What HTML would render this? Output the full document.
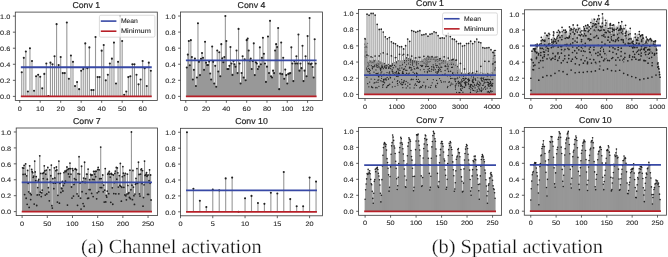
<!DOCTYPE html>
<html><head><meta charset="utf-8"><style>html,body{margin:0;padding:0;background:#fff;overflow:hidden}svg{display:block;filter:blur(0.3px)}</style></head><body>
<svg width="668" height="257" viewBox="0 0 668 257" font-family="Liberation Sans, sans-serif" text-rendering="geometricPrecision" fill="#262626">
<rect width="668" height="257" fill="#fff"/>
<style>text{stroke:#262626;stroke-width:0.1px;paint-order:stroke}</style>
<path d="M21.75 96.39V72.30M23.80 96.39V57.86M25.85 96.39V51.43M27.90 96.39V91.57M29.95 96.39V48.22M32.00 96.39V61.07M34.05 96.39V90.77M36.10 96.39V76.32M38.15 96.39V74.71M40.20 96.39V76.72M42.25 96.39V88.36M44.29 96.39V73.91M46.34 96.39V63.47M48.39 96.39V95.98M50.44 96.39V62.67M52.49 96.39V64.28M54.54 96.39V56.25M56.59 96.39V24.14M58.64 96.39V65.08M60.69 96.39V57.05M62.74 96.39V73.11M64.78 96.39V73.11M66.83 96.39V22.54M68.88 96.39V78.73M70.93 96.39V55.45M72.98 96.39V61.87M75.03 96.39V85.95M77.08 96.39V81.94M79.13 96.39V89.16M81.18 96.39V70.70M83.23 96.39V69.09M85.28 96.39V43.41M87.32 96.39V68.29M89.37 96.39V47.42M91.42 96.39V89.96M93.47 96.39V89.96M95.52 96.39V36.98M97.57 96.39V77.12M99.62 96.39V77.12M101.67 96.39V50.63M103.72 96.39V45.01M105.77 96.39V80.33M107.82 96.39V74.71M109.86 96.39V63.47M111.91 96.39V58.66M113.96 96.39V42.60M116.01 96.39V83.54M118.06 96.39V61.87M120.11 96.39V16.11M122.16 96.39V41.00M124.21 96.39V94.78M126.26 96.39V91.57M128.31 96.39V77.12M130.35 96.39V76.32M132.40 96.39V64.28M134.45 96.39V64.28M136.50 96.39V74.71M138.55 96.39V84.35M140.60 96.39V79.53M142.65 96.39V61.07M144.70 96.39V68.29M146.75 96.39V85.95M148.80 96.39V62.67M150.85 96.39V70.70" stroke="#989898" stroke-width="1.1" stroke-opacity="1.0" fill="none"/>
<path d="M21.75 72.30h0M23.80 57.86h0M25.85 51.43h0M27.90 91.57h0M29.95 48.22h0M32.00 61.07h0M34.05 90.77h0M36.10 76.32h0M38.15 74.71h0M40.20 76.72h0M42.25 88.36h0M44.29 73.91h0M46.34 63.47h0M48.39 95.98h0M50.44 62.67h0M52.49 64.28h0M54.54 56.25h0M56.59 24.14h0M58.64 65.08h0M60.69 57.05h0M62.74 73.11h0M64.78 73.11h0M66.83 22.54h0M68.88 78.73h0M70.93 55.45h0M72.98 61.87h0M75.03 85.95h0M77.08 81.94h0M79.13 89.16h0M81.18 70.70h0M83.23 69.09h0M85.28 43.41h0M87.32 68.29h0M89.37 47.42h0M91.42 89.96h0M93.47 89.96h0M95.52 36.98h0M97.57 77.12h0M99.62 77.12h0M101.67 50.63h0M103.72 45.01h0M105.77 80.33h0M107.82 74.71h0M109.86 63.47h0M111.91 58.66h0M113.96 42.60h0M116.01 83.54h0M118.06 61.87h0M120.11 16.11h0M122.16 41.00h0M124.21 94.78h0M126.26 91.57h0M128.31 77.12h0M130.35 76.32h0M132.40 64.28h0M134.45 64.28h0M136.50 74.71h0M138.55 84.35h0M140.60 79.53h0M142.65 61.07h0M144.70 68.29h0M146.75 85.95h0M148.80 62.67h0M150.85 70.70h0" stroke="#222" stroke-width="2.1" stroke-opacity="1.0" stroke-linecap="round" fill="none"/>
<line x1="21.75" y1="96.39" x2="150.85" y2="96.39" stroke="#b71f27" stroke-width="1.8" stroke-linecap="square"/>
<line x1="21.75" y1="67.25" x2="150.85" y2="67.25" stroke="#3748a5" stroke-width="1.8" stroke-linecap="square"/>
<rect x="15.30" y="12.10" width="142.00" height="88.30" fill="none" stroke="#3a3a3a" stroke-width="0.8"/>
<text x="10.30" y="99.09" text-anchor="end" font-size="6.5" textLength="10.2" lengthAdjust="spacingAndGlyphs">0.0</text>
<text x="10.30" y="83.03" text-anchor="end" font-size="6.5" textLength="10.2" lengthAdjust="spacingAndGlyphs">0.2</text>
<text x="10.30" y="66.98" text-anchor="end" font-size="6.5" textLength="10.2" lengthAdjust="spacingAndGlyphs">0.4</text>
<text x="10.30" y="50.92" text-anchor="end" font-size="6.5" textLength="10.2" lengthAdjust="spacingAndGlyphs">0.6</text>
<text x="10.30" y="34.87" text-anchor="end" font-size="6.5" textLength="10.2" lengthAdjust="spacingAndGlyphs">0.8</text>
<text x="10.30" y="18.81" text-anchor="end" font-size="6.5" textLength="10.2" lengthAdjust="spacingAndGlyphs">1.0</text>
<text x="19.71" y="110.50" text-anchor="middle" font-size="6.5" textLength="4.07" lengthAdjust="spacingAndGlyphs">0</text>
<text x="40.20" y="110.50" text-anchor="middle" font-size="6.5" textLength="8.14" lengthAdjust="spacingAndGlyphs">10</text>
<text x="60.69" y="110.50" text-anchor="middle" font-size="6.5" textLength="8.14" lengthAdjust="spacingAndGlyphs">20</text>
<text x="81.18" y="110.50" text-anchor="middle" font-size="6.5" textLength="8.14" lengthAdjust="spacingAndGlyphs">30</text>
<text x="101.67" y="110.50" text-anchor="middle" font-size="6.5" textLength="8.14" lengthAdjust="spacingAndGlyphs">40</text>
<text x="122.16" y="110.50" text-anchor="middle" font-size="6.5" textLength="8.14" lengthAdjust="spacingAndGlyphs">50</text>
<text x="142.65" y="110.50" text-anchor="middle" font-size="6.5" textLength="8.14" lengthAdjust="spacingAndGlyphs">60</text>
<path d="M15.30 96.39h-2.4M15.30 80.33h-2.4M15.30 64.28h-2.4M15.30 48.22h-2.4M15.30 32.17h-2.4M15.30 16.11h-2.4M19.71 100.40v2.4M40.20 100.40v2.4M60.69 100.40v2.4M81.18 100.40v2.4M101.67 100.40v2.4M122.16 100.40v2.4M142.65 100.40v2.4" stroke="#3a3a3a" stroke-width="0.8" fill="none"/>
<text x="86.30" y="8.00" text-anchor="middle" font-size="8.6" textLength="27.8" lengthAdjust="spacingAndGlyphs" style="stroke-width:0.2px">Conv 1</text>
<path d="M186.79 96.38V67.45M187.81 96.38V54.59M188.82 96.38V40.93M189.84 96.38V65.24M190.85 96.38V40.13M191.87 96.38V57.00M192.88 96.38V79.51M193.90 96.38V69.86M194.91 96.38V58.61M195.93 96.38V85.93M196.94 96.38V77.50M197.96 96.38V23.25M198.97 96.38V61.83M199.99 96.38V75.09M201.00 96.38V58.68M202.02 96.38V52.99M203.03 96.38V57.81M204.05 96.38V69.86M205.06 96.38V41.73M206.08 96.38V62.63M207.09 96.38V65.04M208.11 96.38V65.04M209.12 96.38V61.61M210.14 96.38V73.48M211.15 96.38V79.51M212.17 96.38V46.56M213.18 96.38V61.83M214.20 96.38V83.52M215.21 96.38V65.84M216.23 96.38V86.74M217.24 96.38V50.57M218.26 96.38V71.47M219.27 96.38V52.18M220.29 96.38V76.29M221.30 96.38V44.15M222.32 96.38V58.21M223.33 96.38V62.23M224.35 96.38V57.00M225.36 96.38V16.02M226.38 96.38V40.93M227.39 96.38V69.06M228.41 96.38V69.06M229.42 96.38V65.84M230.44 96.38V46.96M231.45 96.38V63.43M232.47 96.38V74.88M233.48 96.38V61.02M234.50 96.38V64.24M235.51 96.38V66.65M236.53 96.38V50.57M237.54 96.38V73.08M238.56 96.38V28.88M239.57 96.38V63.43M240.59 96.38V83.52M241.60 96.38V73.07M242.62 96.38V56.20M243.63 96.38V77.50M244.65 96.38V59.25M245.66 96.38V80.18M246.68 96.38V40.13M247.69 96.38V38.52M248.71 96.38V50.57M249.72 96.38V60.51M250.74 96.38V58.61M251.75 96.38V69.06M252.77 96.38V61.09M253.78 96.38V43.34M254.80 96.38V75.09M255.81 96.38V62.23M256.83 96.38V63.43M257.84 96.38V69.03M258.86 96.38V66.65M259.87 96.38V47.36M260.89 96.38V64.24M261.90 96.38V57.81M262.92 96.38V37.72M263.93 96.38V53.79M264.95 96.38V63.43M265.96 96.38V81.92M266.98 96.38V66.65M267.99 96.38V36.51M269.01 96.38V73.00M270.02 96.38V20.84M271.04 96.38V76.29M272.05 96.38V77.50M273.07 96.38V70.67M274.08 96.38V73.08M275.10 96.38V50.57M276.11 96.38V44.15M277.13 96.38V46.96M278.14 96.38V28.07M279.16 96.38V89.15M280.17 96.38V73.60M281.19 96.38V42.54M282.20 96.38V74.16M283.22 96.38V57.81M284.23 96.38V78.70M285.25 96.38V69.58M286.26 96.38V75.09M287.28 96.38V83.52M288.29 96.38V73.88M289.31 96.38V73.48M290.32 96.38V73.08M291.34 96.38V47.36M292.35 96.38V63.43M293.37 96.38V81.11M294.38 96.38V61.02M295.40 96.38V63.43M296.41 96.38V56.20M297.43 96.38V63.43M298.44 96.38V34.50M299.46 96.38V70.67M300.47 96.38V63.43M301.49 96.38V68.14M302.50 96.38V45.75M303.52 96.38V81.11M304.53 96.38V70.67M305.55 96.38V56.20M306.56 96.38V76.29M307.58 96.38V36.11M308.59 96.38V63.43M309.61 96.38V18.03M310.62 96.38V64.24M311.64 96.38V63.43M312.65 96.38V66.96M313.67 96.38V77.50M314.68 96.38V39.32M315.70 96.38V63.43" stroke="#989898" stroke-width="1.1" stroke-opacity="1.0" fill="none"/>
<path d="M186.79 67.45h0M187.81 54.59h0M188.82 40.93h0M189.84 65.24h0M190.85 40.13h0M191.87 57.00h0M192.88 79.51h0M193.90 69.86h0M194.91 58.61h0M195.93 85.93h0M196.94 77.50h0M197.96 23.25h0M198.97 61.83h0M199.99 75.09h0M201.00 58.68h0M202.02 52.99h0M203.03 57.81h0M204.05 69.86h0M205.06 41.73h0M206.08 62.63h0M207.09 65.04h0M208.11 65.04h0M209.12 61.61h0M210.14 73.48h0M211.15 79.51h0M212.17 46.56h0M213.18 61.83h0M214.20 83.52h0M215.21 65.84h0M216.23 86.74h0M217.24 50.57h0M218.26 71.47h0M219.27 52.18h0M220.29 76.29h0M221.30 44.15h0M222.32 58.21h0M223.33 62.23h0M224.35 57.00h0M225.36 16.02h0M226.38 40.93h0M227.39 69.06h0M228.41 69.06h0M229.42 65.84h0M230.44 46.96h0M231.45 63.43h0M232.47 74.88h0M233.48 61.02h0M234.50 64.24h0M235.51 66.65h0M236.53 50.57h0M237.54 73.08h0M238.56 28.88h0M239.57 63.43h0M240.59 83.52h0M241.60 73.07h0M242.62 56.20h0M243.63 77.50h0M244.65 59.25h0M245.66 80.18h0M246.68 40.13h0M247.69 38.52h0M248.71 50.57h0M249.72 60.51h0M250.74 58.61h0M251.75 69.06h0M252.77 61.09h0M253.78 43.34h0M254.80 75.09h0M255.81 62.23h0M256.83 63.43h0M257.84 69.03h0M258.86 66.65h0M259.87 47.36h0M260.89 64.24h0M261.90 57.81h0M262.92 37.72h0M263.93 53.79h0M264.95 63.43h0M265.96 81.92h0M266.98 66.65h0M267.99 36.51h0M269.01 73.00h0M270.02 20.84h0M271.04 76.29h0M272.05 77.50h0M273.07 70.67h0M274.08 73.08h0M275.10 50.57h0M276.11 44.15h0M277.13 46.96h0M278.14 28.07h0M279.16 89.15h0M280.17 73.60h0M281.19 42.54h0M282.20 74.16h0M283.22 57.81h0M284.23 78.70h0M285.25 69.58h0M286.26 75.09h0M287.28 83.52h0M288.29 73.88h0M289.31 73.48h0M290.32 73.08h0M291.34 47.36h0M292.35 63.43h0M293.37 81.11h0M294.38 61.02h0M295.40 63.43h0M296.41 56.20h0M297.43 63.43h0M298.44 34.50h0M299.46 70.67h0M300.47 63.43h0M301.49 68.14h0M302.50 45.75h0M303.52 81.11h0M304.53 70.67h0M305.55 56.20h0M306.56 76.29h0M307.58 36.11h0M308.59 63.43h0M309.61 18.03h0M310.62 64.24h0M311.64 63.43h0M312.65 66.96h0M313.67 77.50h0M314.68 39.32h0M315.70 63.43h0" stroke="#222" stroke-width="2.1" stroke-opacity="1.0" stroke-linecap="round" fill="none"/>
<line x1="186.79" y1="96.38" x2="315.70" y2="96.38" stroke="#b71f27" stroke-width="1.8" stroke-linecap="square"/>
<line x1="186.79" y1="60.46" x2="315.70" y2="60.46" stroke="#3748a5" stroke-width="1.8" stroke-linecap="square"/>
<rect x="180.50" y="12.00" width="142.00" height="88.40" fill="none" stroke="#3a3a3a" stroke-width="0.8"/>
<text x="175.50" y="99.08" text-anchor="end" font-size="6.5" textLength="10.2" lengthAdjust="spacingAndGlyphs">0.0</text>
<text x="175.50" y="83.01" text-anchor="end" font-size="6.5" textLength="10.2" lengthAdjust="spacingAndGlyphs">0.2</text>
<text x="175.50" y="66.94" text-anchor="end" font-size="6.5" textLength="10.2" lengthAdjust="spacingAndGlyphs">0.4</text>
<text x="175.50" y="50.86" text-anchor="end" font-size="6.5" textLength="10.2" lengthAdjust="spacingAndGlyphs">0.6</text>
<text x="175.50" y="34.79" text-anchor="end" font-size="6.5" textLength="10.2" lengthAdjust="spacingAndGlyphs">0.8</text>
<text x="175.50" y="18.72" text-anchor="end" font-size="6.5" textLength="10.2" lengthAdjust="spacingAndGlyphs">1.0</text>
<text x="185.78" y="110.50" text-anchor="middle" font-size="6.5" textLength="4.07" lengthAdjust="spacingAndGlyphs">0</text>
<text x="206.08" y="110.50" text-anchor="middle" font-size="6.5" textLength="8.14" lengthAdjust="spacingAndGlyphs">20</text>
<text x="226.38" y="110.50" text-anchor="middle" font-size="6.5" textLength="8.14" lengthAdjust="spacingAndGlyphs">40</text>
<text x="246.68" y="110.50" text-anchor="middle" font-size="6.5" textLength="8.14" lengthAdjust="spacingAndGlyphs">60</text>
<text x="266.98" y="110.50" text-anchor="middle" font-size="6.5" textLength="8.14" lengthAdjust="spacingAndGlyphs">80</text>
<text x="287.28" y="110.50" text-anchor="middle" font-size="6.5" textLength="12.21" lengthAdjust="spacingAndGlyphs">100</text>
<text x="307.58" y="110.50" text-anchor="middle" font-size="6.5" textLength="12.21" lengthAdjust="spacingAndGlyphs">120</text>
<path d="M180.50 96.38h-2.4M180.50 80.31h-2.4M180.50 64.24h-2.4M180.50 48.16h-2.4M180.50 32.09h-2.4M180.50 16.02h-2.4M185.78 100.40v2.4M206.08 100.40v2.4M226.38 100.40v2.4M246.68 100.40v2.4M266.98 100.40v2.4M287.28 100.40v2.4M307.58 100.40v2.4" stroke="#3a3a3a" stroke-width="0.8" fill="none"/>
<text x="251.50" y="7.90" text-anchor="middle" font-size="8.6" textLength="27.8" lengthAdjust="spacingAndGlyphs" style="stroke-width:0.2px">Conv 4</text>
<path d="M22.62 211.62V167.82M23.13 211.62V174.42M23.63 211.62V168.17M24.13 211.62V165.43M24.64 211.62V194.57M25.14 211.62V174.19M25.65 211.62V163.84M26.15 211.62V198.27M26.65 211.62V175.78M27.16 211.62V204.31M27.66 211.62V170.46M28.16 211.62V183.30M28.67 211.62V191.79M29.17 211.62V207.39M29.68 211.62V165.83M30.18 211.62V193.28M30.68 211.62V199.55M31.19 211.62V194.75M31.69 211.62V169.41M32.19 211.62V171.63M32.70 211.62V172.69M33.20 211.62V177.37M33.71 211.62V176.04M34.21 211.62V204.06M34.71 211.62V161.05M35.22 211.62V171.92M35.72 211.62V180.62M36.22 211.62V176.58M36.73 211.62V205.52M37.23 211.62V194.89M37.74 211.62V187.59M38.24 211.62V180.88M38.74 211.62V179.35M39.25 211.62V194.87M39.75 211.62V155.87M40.25 211.62V192.04M40.76 211.62V173.39M41.26 211.62V196.59M41.76 211.62V192.82M42.27 211.62V190.10M42.77 211.62V173.39M43.28 211.62V178.58M43.78 211.62V172.75M44.28 211.62V165.83M44.79 211.62V170.88M45.29 211.62V195.04M45.79 211.62V174.19M46.30 211.62V170.11M46.80 211.62V193.92M47.31 211.62V179.24M47.81 211.62V167.42M48.31 211.62V187.69M48.82 211.62V192.04M49.32 211.62V200.86M49.82 211.62V169.81M50.33 211.62V182.23M50.83 211.62V175.74M51.34 211.62V165.03M51.84 211.62V205.67M52.34 211.62V208.05M52.85 211.62V178.72M53.35 211.62V182.99M53.85 211.62V188.71M54.36 211.62V167.82M54.86 211.62V177.89M55.37 211.62V183.14M55.87 211.62V170.71M56.37 211.62V167.02M56.88 211.62V169.94M57.38 211.62V202.03M57.88 211.62V195.32M58.39 211.62V173.70M58.89 211.62V161.05M59.40 211.62V203.22M59.90 211.62V183.33M60.40 211.62V173.39M60.91 211.62V192.46M61.41 211.62V188.11M61.91 211.62V188.65M62.42 211.62V181.41M62.92 211.62V191.02M63.43 211.62V185.51M63.93 211.62V172.60M64.43 211.62V183.25M64.94 211.62V171.11M65.44 211.62V181.18M65.94 211.62V171.70M66.45 211.62V170.28M66.95 211.62V167.02M67.46 211.62V205.12M67.96 211.62V169.38M68.46 211.62V174.00M68.97 211.62V168.61M69.47 211.62V176.83M69.97 211.62V163.04M70.48 211.62V168.72M70.98 211.62V174.19M71.49 211.62V186.99M71.99 211.62V198.06M72.49 211.62V168.61M73.00 211.62V170.51M73.50 211.62V196.09M74.00 211.62V184.41M74.51 211.62V178.67M75.01 211.62V169.05M75.52 211.62V168.61M76.02 211.62V179.66M76.52 211.62V169.81M77.03 211.62V193.82M77.53 211.62V205.30M78.03 211.62V173.70M78.54 211.62V196.07M79.04 211.62V156.67M79.55 211.62V174.12M80.05 211.62V183.00M80.55 211.62V198.19M81.06 211.62V209.04M81.56 211.62V166.23M82.06 211.62V191.75M82.57 211.62V181.61M83.07 211.62V203.59M83.58 211.62V178.08M84.08 211.62V206.26M84.58 211.62V162.24M85.09 211.62V182.52M85.59 211.62V178.71M86.09 211.62V193.58M86.60 211.62V174.19M87.10 211.62V174.19M87.61 211.62V198.41M88.11 211.62V169.09M88.61 211.62V198.06M89.12 211.62V189.54M89.62 211.62V179.71M90.12 211.62V189.68M90.63 211.62V174.28M91.13 211.62V175.24M91.64 211.62V193.39M92.14 211.62V174.99M92.64 211.62V179.33M93.15 211.62V196.61M93.65 211.62V171.40M94.15 211.62V179.54M94.66 211.62V174.08M95.16 211.62V171.40M95.67 211.62V176.67M96.17 211.62V171.23M96.67 211.62V198.82M97.18 211.62V192.83M97.68 211.62V169.58M98.18 211.62V167.42M98.69 211.62V191.62M99.19 211.62V169.81M99.70 211.62V178.74M100.20 211.62V187.55M100.70 211.62V147.11M101.21 211.62V178.57M101.71 211.62V187.67M102.21 211.62V182.49M102.72 211.62V174.99M103.22 211.62V191.79M103.73 211.62V185.10M104.23 211.62V202.04M104.73 211.62V190.13M105.24 211.62V168.61M105.74 211.62V201.94M106.24 211.62V195.43M106.75 211.62V197.08M107.25 211.62V191.10M107.76 211.62V174.19M108.26 211.62V173.14M108.76 211.62V193.71M109.27 211.62V171.52M109.77 211.62V174.19M110.27 211.62V177.03M110.78 211.62V202.28M111.28 211.62V173.37M111.79 211.62V174.19M112.29 211.62V187.86M112.79 211.62V204.27M113.30 211.62V174.99M113.80 211.62V193.59M114.30 211.62V182.59M114.81 211.62V173.39M115.31 211.62V171.11M115.82 211.62V193.80M116.32 211.62V167.42M116.82 211.62V179.14M117.33 211.62V167.92M117.83 211.62V172.82M118.33 211.62V187.09M118.84 211.62V193.80M119.34 211.62V175.54M119.85 211.62V185.50M120.35 211.62V163.44M120.85 211.62V186.30M121.36 211.62V201.16M121.86 211.62V187.33M122.36 211.62V176.69M122.87 211.62V166.62M123.37 211.62V173.21M123.88 211.62V187.33M124.38 211.62V175.45M124.88 211.62V194.96M125.39 211.62V173.38M125.89 211.62V195.74M126.39 211.62V199.79M126.90 211.62V194.04M127.40 211.62V174.19M127.91 211.62V185.46M128.41 211.62V193.60M128.91 211.62V192.75M129.42 211.62V197.52M129.92 211.62V170.21M130.42 211.62V198.64M130.93 211.62V189.73M131.43 211.62V131.98M131.94 211.62V185.18M132.44 211.62V199.72M132.94 211.62V170.48M133.45 211.62V187.12M133.95 211.62V195.69M134.45 211.62V204.42M134.96 211.62V194.06M135.46 211.62V184.25M135.96 211.62V178.33M136.47 211.62V182.89M136.97 211.62V168.61M137.48 211.62V183.23M137.98 211.62V182.59M138.48 211.62V162.24M138.99 211.62V174.48M139.49 211.62V193.96M139.99 211.62V196.07M140.50 211.62V174.19M141.00 211.62V169.68M141.51 211.62V168.78M142.01 211.62V183.54M142.51 211.62V170.53M143.02 211.62V206.22M143.52 211.62V197.56M144.02 211.62V184.86M144.53 211.62V161.05M145.03 211.62V175.43M145.54 211.62V175.43M146.04 211.62V174.19M146.54 211.62V172.61M147.05 211.62V176.24M147.55 211.62V194.33M148.05 211.62V174.99M148.56 211.62V194.39M149.06 211.62V180.67M149.57 211.62V169.84M150.07 211.62V183.28M150.57 211.62V174.99M151.08 211.62V200.00" stroke="#989898" stroke-width="1.1" stroke-opacity="1.0" fill="none"/>
<path d="M22.62 167.82h0M23.13 174.42h0M23.63 168.17h0M24.13 165.43h0M24.64 194.57h0M25.14 174.19h0M25.65 163.84h0M26.15 198.27h0M26.65 175.78h0M27.16 204.31h0M27.66 170.46h0M28.16 183.30h0M28.67 191.79h0M29.17 207.39h0M29.68 165.83h0M30.18 193.28h0M30.68 199.55h0M31.19 194.75h0M31.69 169.41h0M32.19 171.63h0M32.70 172.69h0M33.20 177.37h0M33.71 176.04h0M34.21 204.06h0M34.71 161.05h0M35.22 171.92h0M35.72 180.62h0M36.22 176.58h0M36.73 205.52h0M37.23 194.89h0M37.74 187.59h0M38.24 180.88h0M38.74 179.35h0M39.25 194.87h0M39.75 155.87h0M40.25 192.04h0M40.76 173.39h0M41.26 196.59h0M41.76 192.82h0M42.27 190.10h0M42.77 173.39h0M43.28 178.58h0M43.78 172.75h0M44.28 165.83h0M44.79 170.88h0M45.29 195.04h0M45.79 174.19h0M46.30 170.11h0M46.80 193.92h0M47.31 179.24h0M47.81 167.42h0M48.31 187.69h0M48.82 192.04h0M49.32 200.86h0M49.82 169.81h0M50.33 182.23h0M50.83 175.74h0M51.34 165.03h0M51.84 205.67h0M52.34 208.05h0M52.85 178.72h0M53.35 182.99h0M53.85 188.71h0M54.36 167.82h0M54.86 177.89h0M55.37 183.14h0M55.87 170.71h0M56.37 167.02h0M56.88 169.94h0M57.38 202.03h0M57.88 195.32h0M58.39 173.70h0M58.89 161.05h0M59.40 203.22h0M59.90 183.33h0M60.40 173.39h0M60.91 192.46h0M61.41 188.11h0M61.91 188.65h0M62.42 181.41h0M62.92 191.02h0M63.43 185.51h0M63.93 172.60h0M64.43 183.25h0M64.94 171.11h0M65.44 181.18h0M65.94 171.70h0M66.45 170.28h0M66.95 167.02h0M67.46 205.12h0M67.96 169.38h0M68.46 174.00h0M68.97 168.61h0M69.47 176.83h0M69.97 163.04h0M70.48 168.72h0M70.98 174.19h0M71.49 186.99h0M71.99 198.06h0M72.49 168.61h0M73.00 170.51h0M73.50 196.09h0M74.00 184.41h0M74.51 178.67h0M75.01 169.05h0M75.52 168.61h0M76.02 179.66h0M76.52 169.81h0M77.03 193.82h0M77.53 205.30h0M78.03 173.70h0M78.54 196.07h0M79.04 156.67h0M79.55 174.12h0M80.05 183.00h0M80.55 198.19h0M81.06 209.04h0M81.56 166.23h0M82.06 191.75h0M82.57 181.61h0M83.07 203.59h0M83.58 178.08h0M84.08 206.26h0M84.58 162.24h0M85.09 182.52h0M85.59 178.71h0M86.09 193.58h0M86.60 174.19h0M87.10 174.19h0M87.61 198.41h0M88.11 169.09h0M88.61 198.06h0M89.12 189.54h0M89.62 179.71h0M90.12 189.68h0M90.63 174.28h0M91.13 175.24h0M91.64 193.39h0M92.14 174.99h0M92.64 179.33h0M93.15 196.61h0M93.65 171.40h0M94.15 179.54h0M94.66 174.08h0M95.16 171.40h0M95.67 176.67h0M96.17 171.23h0M96.67 198.82h0M97.18 192.83h0M97.68 169.58h0M98.18 167.42h0M98.69 191.62h0M99.19 169.81h0M99.70 178.74h0M100.20 187.55h0M100.70 147.11h0M101.21 178.57h0M101.71 187.67h0M102.21 182.49h0M102.72 174.99h0M103.22 191.79h0M103.73 185.10h0M104.23 202.04h0M104.73 190.13h0M105.24 168.61h0M105.74 201.94h0M106.24 195.43h0M106.75 197.08h0M107.25 191.10h0M107.76 174.19h0M108.26 173.14h0M108.76 193.71h0M109.27 171.52h0M109.77 174.19h0M110.27 177.03h0M110.78 202.28h0M111.28 173.37h0M111.79 174.19h0M112.29 187.86h0M112.79 204.27h0M113.30 174.99h0M113.80 193.59h0M114.30 182.59h0M114.81 173.39h0M115.31 171.11h0M115.82 193.80h0M116.32 167.42h0M116.82 179.14h0M117.33 167.92h0M117.83 172.82h0M118.33 187.09h0M118.84 193.80h0M119.34 175.54h0M119.85 185.50h0M120.35 163.44h0M120.85 186.30h0M121.36 201.16h0M121.86 187.33h0M122.36 176.69h0M122.87 166.62h0M123.37 173.21h0M123.88 187.33h0M124.38 175.45h0M124.88 194.96h0M125.39 173.38h0M125.89 195.74h0M126.39 199.79h0M126.90 194.04h0M127.40 174.19h0M127.91 185.46h0M128.41 193.60h0M128.91 192.75h0M129.42 197.52h0M129.92 170.21h0M130.42 198.64h0M130.93 189.73h0M131.43 131.98h0M131.94 185.18h0M132.44 199.72h0M132.94 170.48h0M133.45 187.12h0M133.95 195.69h0M134.45 204.42h0M134.96 194.06h0M135.46 184.25h0M135.96 178.33h0M136.47 182.89h0M136.97 168.61h0M137.48 183.23h0M137.98 182.59h0M138.48 162.24h0M138.99 174.48h0M139.49 193.96h0M139.99 196.07h0M140.50 174.19h0M141.00 169.68h0M141.51 168.78h0M142.01 183.54h0M142.51 170.53h0M143.02 206.22h0M143.52 197.56h0M144.02 184.86h0M144.53 161.05h0M145.03 175.43h0M145.54 175.43h0M146.04 174.19h0M146.54 172.61h0M147.05 176.24h0M147.55 194.33h0M148.05 174.99h0M148.56 194.39h0M149.06 180.67h0M149.57 169.84h0M150.07 183.28h0M150.57 174.99h0M151.08 200.00h0" stroke="#222" stroke-width="1.8" stroke-opacity="1.0" stroke-linecap="round" fill="none"/>
<line x1="22.62" y1="211.62" x2="151.08" y2="211.62" stroke="#b71f27" stroke-width="1.8" stroke-linecap="square"/>
<line x1="22.62" y1="182.31" x2="151.08" y2="182.31" stroke="#3748a5" stroke-width="1.8" stroke-linecap="square"/>
<rect x="16.20" y="128.00" width="141.30" height="87.60" fill="none" stroke="#3a3a3a" stroke-width="0.8"/>
<text x="11.20" y="214.32" text-anchor="end" font-size="6.5" textLength="10.2" lengthAdjust="spacingAndGlyphs">0.0</text>
<text x="11.20" y="198.39" text-anchor="end" font-size="6.5" textLength="10.2" lengthAdjust="spacingAndGlyphs">0.2</text>
<text x="11.20" y="182.46" text-anchor="end" font-size="6.5" textLength="10.2" lengthAdjust="spacingAndGlyphs">0.4</text>
<text x="11.20" y="166.54" text-anchor="end" font-size="6.5" textLength="10.2" lengthAdjust="spacingAndGlyphs">0.6</text>
<text x="11.20" y="150.61" text-anchor="end" font-size="6.5" textLength="10.2" lengthAdjust="spacingAndGlyphs">0.8</text>
<text x="11.20" y="134.68" text-anchor="end" font-size="6.5" textLength="10.2" lengthAdjust="spacingAndGlyphs">1.0</text>
<text x="22.12" y="225.70" text-anchor="middle" font-size="6.5" textLength="4.07" lengthAdjust="spacingAndGlyphs">0</text>
<text x="47.31" y="225.70" text-anchor="middle" font-size="6.5" textLength="8.14" lengthAdjust="spacingAndGlyphs">50</text>
<text x="72.49" y="225.70" text-anchor="middle" font-size="6.5" textLength="12.21" lengthAdjust="spacingAndGlyphs">100</text>
<text x="97.68" y="225.70" text-anchor="middle" font-size="6.5" textLength="12.21" lengthAdjust="spacingAndGlyphs">150</text>
<text x="122.87" y="225.70" text-anchor="middle" font-size="6.5" textLength="12.21" lengthAdjust="spacingAndGlyphs">200</text>
<text x="148.05" y="225.70" text-anchor="middle" font-size="6.5" textLength="12.21" lengthAdjust="spacingAndGlyphs">250</text>
<path d="M16.20 211.62h-2.4M16.20 195.69h-2.4M16.20 179.76h-2.4M16.20 163.84h-2.4M16.20 147.91h-2.4M16.20 131.98h-2.4M22.12 215.60v2.4M47.31 215.60v2.4M72.49 215.60v2.4M97.68 215.60v2.4M122.87 215.60v2.4M148.05 215.60v2.4" stroke="#3a3a3a" stroke-width="0.8" fill="none"/>
<text x="86.85" y="123.90" text-anchor="middle" font-size="8.6" textLength="27.8" lengthAdjust="spacingAndGlyphs" style="stroke-width:0.2px">Conv 7</text>
<path d="M186.95 211.82V132.28M193.41 211.82V188.75M199.86 211.82V200.69M206.32 211.82V207.05M212.77 211.82V189.55M219.23 211.82V190.35M225.68 211.82V178.41M232.14 211.82V177.62M238.59 211.82V211.82M245.05 211.82V198.30M251.50 211.82V195.91M257.95 211.82V203.07M264.41 211.82V203.87M270.86 211.82V192.73M277.32 211.82V193.53M283.77 211.82V172.05M290.23 211.82V199.10M296.68 211.82V206.25M303.14 211.82V206.25M309.59 211.82V177.62M316.05 211.82V181.60" stroke="#989898" stroke-width="1.1" stroke-opacity="1.0" fill="none"/>
<path d="M186.95 132.28h0M193.41 188.75h0M199.86 200.69h0M206.32 207.05h0M212.77 189.55h0M219.23 190.35h0M225.68 178.41h0M232.14 177.62h0M238.59 211.82h0M245.05 198.30h0M251.50 195.91h0M257.95 203.07h0M264.41 203.87h0M270.86 192.73h0M277.32 193.53h0M283.77 172.05h0M290.23 199.10h0M296.68 206.25h0M303.14 206.25h0M309.59 177.62h0M316.05 181.60h0" stroke="#222" stroke-width="2.1" stroke-opacity="1.0" stroke-linecap="round" fill="none"/>
<line x1="186.95" y1="211.82" x2="316.05" y2="211.82" stroke="#b71f27" stroke-width="1.8" stroke-linecap="square"/>
<line x1="186.95" y1="190.35" x2="316.05" y2="190.35" stroke="#3748a5" stroke-width="1.8" stroke-linecap="square"/>
<rect x="180.50" y="128.30" width="142.00" height="87.50" fill="none" stroke="#3a3a3a" stroke-width="0.8"/>
<text x="175.50" y="214.52" text-anchor="end" font-size="6.5" textLength="10.2" lengthAdjust="spacingAndGlyphs">0.0</text>
<text x="175.50" y="198.61" text-anchor="end" font-size="6.5" textLength="10.2" lengthAdjust="spacingAndGlyphs">0.2</text>
<text x="175.50" y="182.70" text-anchor="end" font-size="6.5" textLength="10.2" lengthAdjust="spacingAndGlyphs">0.4</text>
<text x="175.50" y="166.80" text-anchor="end" font-size="6.5" textLength="10.2" lengthAdjust="spacingAndGlyphs">0.6</text>
<text x="175.50" y="150.89" text-anchor="end" font-size="6.5" textLength="10.2" lengthAdjust="spacingAndGlyphs">0.8</text>
<text x="175.50" y="134.98" text-anchor="end" font-size="6.5" textLength="10.2" lengthAdjust="spacingAndGlyphs">1.0</text>
<text x="180.50" y="225.90" text-anchor="middle" font-size="6.5" textLength="4.07" lengthAdjust="spacingAndGlyphs">0</text>
<text x="212.77" y="225.90" text-anchor="middle" font-size="6.5" textLength="4.07" lengthAdjust="spacingAndGlyphs">5</text>
<text x="245.05" y="225.90" text-anchor="middle" font-size="6.5" textLength="8.14" lengthAdjust="spacingAndGlyphs">10</text>
<text x="277.32" y="225.90" text-anchor="middle" font-size="6.5" textLength="8.14" lengthAdjust="spacingAndGlyphs">15</text>
<text x="309.59" y="225.90" text-anchor="middle" font-size="6.5" textLength="8.14" lengthAdjust="spacingAndGlyphs">20</text>
<path d="M180.50 211.82h-2.4M180.50 195.91h-2.4M180.50 180.00h-2.4M180.50 164.10h-2.4M180.50 148.19h-2.4M180.50 132.28h-2.4M180.50 215.80v2.4M212.77 215.80v2.4M245.05 215.80v2.4M277.32 215.80v2.4M309.59 215.80v2.4" stroke="#3a3a3a" stroke-width="0.8" fill="none"/>
<text x="251.50" y="124.20" text-anchor="middle" font-size="8.6" textLength="32.6" lengthAdjust="spacingAndGlyphs" style="stroke-width:0.2px">Conv 10</text>
<rect x="99.40" y="15.25" width="55.50" height="21.90" rx="1.5" fill="#fff" fill-opacity="0.8" stroke="#d0d0d0" stroke-width="0.8"/>
<line x1="100.80" y1="21.10" x2="116.40" y2="21.10" stroke="#3748a5" stroke-width="1.6"/>
<line x1="100.80" y1="31.20" x2="116.40" y2="31.20" stroke="#b71f27" stroke-width="1.6"/>
<text x="120.90" y="23.45" font-size="6.4" textLength="17" lengthAdjust="spacingAndGlyphs">Mean</text>
<text x="120.90" y="33.35" font-size="6.4" textLength="29.9" lengthAdjust="spacingAndGlyphs">Minimum</text>
<path d="M365.03 94.45V44.11M365.06 94.45V61.02M365.10 94.45V44.17M365.13 94.45V47.38M365.16 94.45V49.29M365.19 94.45V39.35M365.22 94.45V56.10M365.25 94.45V56.70M365.29 94.45V47.73M365.32 94.45V43.09M365.35 94.45V59.29M365.38 94.45V48.45M365.41 94.45V63.38M365.44 94.45V52.27M365.48 94.45V45.23M365.51 94.45V68.03M365.54 94.45V46.57M365.57 94.45V69.65M365.60 94.45V39.10M365.63 94.45V54.97M365.67 94.45V56.90M365.70 94.45V46.81M365.73 94.45V53.20M365.76 94.45V46.47M365.79 94.45V67.40M365.83 94.45V51.92M365.86 94.45V52.07M365.89 94.45V39.95M365.92 94.45V68.87M365.95 94.45V55.48M365.98 94.45V49.70M366.02 94.45V52.31M366.05 94.45V67.75M366.08 94.45V50.93M366.11 94.45V62.95M366.14 94.45V63.81M366.17 94.45V41.68M366.21 94.45V63.74M366.24 94.45V55.43M366.27 94.45V45.84M366.30 94.45V47.23M366.33 94.45V52.22M366.37 94.45V44.00M366.40 94.45V55.06M366.43 94.45V50.05M366.46 94.45V43.62M366.49 94.45V48.18M366.52 94.45V49.35M366.56 94.45V56.99M366.59 94.45V52.06M366.62 94.45V57.32M366.65 94.45V46.03M366.68 94.45V57.82M366.71 94.45V55.03M366.75 94.45V45.67M366.78 94.45V53.83M366.81 94.45V59.20M366.84 94.45V43.36M366.87 94.45V57.81M366.90 94.45V42.78M366.94 94.45V44.71M366.97 94.45V55.66M367.06 94.45V82.34M367.10 94.45V69.63M367.13 94.45V68.04M367.16 94.45V62.27M367.19 94.45V63.47M367.22 94.45V77.37M367.25 94.45V65.67M367.29 94.45V68.00M367.32 94.45V79.33M367.35 94.45V63.15M367.38 94.45V83.17M367.41 94.45V61.44M367.44 94.45V84.93M367.48 94.45V62.41M367.51 94.45V73.18M367.54 94.45V83.37M367.57 94.45V65.84M367.60 94.45V67.35M367.63 94.45V63.77M367.67 94.45V71.87M367.70 94.45V71.05M367.73 94.45V83.64M367.76 94.45V70.00M367.79 94.45V69.20M367.83 94.45V69.07M367.86 94.45V66.15M367.89 94.45V68.95M367.92 94.45V76.42M367.95 94.45V63.63M367.98 94.45V61.41M368.02 94.45V71.90M368.05 94.45V62.39M368.08 94.45V63.83M368.11 94.45V66.34M368.14 94.45V81.59M368.17 94.45V71.81M368.21 94.45V64.13M368.24 94.45V65.51M368.27 94.45V61.91M368.30 94.45V69.13M368.33 94.45V61.88M368.37 94.45V63.35M368.40 94.45V87.72M368.43 94.45V62.10M368.46 94.45V61.22M368.49 94.45V62.09M368.52 94.45V72.36M368.56 94.45V68.68M368.59 94.45V65.20M368.62 94.45V86.41M368.65 94.45V79.29M368.68 94.45V61.33M368.71 94.45V68.36M368.75 94.45V62.57M368.78 94.45V79.36M368.81 94.45V63.75M368.84 94.45V73.24M368.87 94.45V78.35M368.90 94.45V69.65M368.94 94.45V67.79M368.97 94.45V82.06M369.00 94.45V66.76M369.03 94.45V55.73M369.10 94.45V64.56M369.13 94.45V80.63M369.16 94.45V60.77M369.19 94.45V61.58M369.22 94.45V64.98M369.25 94.45V85.26M369.29 94.45V81.36M369.32 94.45V84.05M369.35 94.45V71.54M369.38 94.45V61.22M369.41 94.45V69.37M369.44 94.45V62.47M369.48 94.45V85.36M369.51 94.45V61.12M369.54 94.45V86.83M369.57 94.45V60.58M369.60 94.45V72.91M369.63 94.45V62.55M369.67 94.45V67.81M369.70 94.45V68.22M369.73 94.45V73.29M369.76 94.45V70.90M369.79 94.45V70.52M369.83 94.45V70.19M369.86 94.45V64.06M369.89 94.45V75.75M369.92 94.45V61.78M369.95 94.45V62.60M369.98 94.45V73.23M370.02 94.45V62.71M370.05 94.45V60.77M370.08 94.45V62.51M370.11 94.45V60.70M370.14 94.45V61.88M370.17 94.45V74.74M370.21 94.45V67.13M370.24 94.45V60.76M370.27 94.45V73.82M370.30 94.45V71.94M370.33 94.45V67.56M370.37 94.45V79.54M370.40 94.45V66.22M370.43 94.45V70.95M370.46 94.45V62.44M370.49 94.45V83.41M370.52 94.45V75.90M370.56 94.45V60.60M370.59 94.45V61.31M370.62 94.45V67.05M370.65 94.45V82.34M370.68 94.45V63.17M370.71 94.45V70.78M370.75 94.45V71.90M370.78 94.45V61.72M370.81 94.45V65.69M370.84 94.45V68.03M370.87 94.45V86.66M370.90 94.45V70.37M370.94 94.45V62.50M370.97 94.45V66.58M371.00 94.45V66.89M371.03 94.45V72.25M371.13 94.45V61.08M371.16 94.45V79.12M371.19 94.45V62.88M371.22 94.45V64.93M371.25 94.45V87.29M371.29 94.45V65.22M371.32 94.45V70.22M371.35 94.45V60.80M371.38 94.45V75.83M371.41 94.45V60.61M371.44 94.45V84.95M371.48 94.45V60.11M371.51 94.45V86.39M371.54 94.45V68.46M371.57 94.45V61.01M371.60 94.45V62.26M371.63 94.45V61.50M371.67 94.45V64.85M371.70 94.45V67.00M371.73 94.45V60.17M371.76 94.45V70.43M371.79 94.45V63.90M371.83 94.45V63.94M371.86 94.45V79.05M371.89 94.45V70.02M371.92 94.45V60.79M371.95 94.45V67.30M371.98 94.45V86.55M372.02 94.45V65.03M372.05 94.45V75.59M372.08 94.45V60.71M372.11 94.45V86.97M372.14 94.45V62.87M372.17 94.45V87.65M372.21 94.45V82.03M372.24 94.45V66.66M372.27 94.45V66.58M372.30 94.45V68.81M372.33 94.45V86.45M372.37 94.45V83.97M372.40 94.45V73.58M372.43 94.45V85.38M372.46 94.45V74.84M372.49 94.45V84.35M372.52 94.45V84.02M372.56 94.45V70.47M372.59 94.45V64.58M372.62 94.45V64.34M372.65 94.45V60.28M372.68 94.45V66.59M372.71 94.45V71.49M372.75 94.45V61.68M372.78 94.45V62.51M372.81 94.45V63.46M372.84 94.45V67.96M372.87 94.45V60.55M372.90 94.45V70.46M372.94 94.45V67.95M372.97 94.45V63.90M373.00 94.45V61.90M373.03 94.45V67.43M373.06 94.45V60.91M373.10 94.45V57.33M373.16 94.45V86.00M373.19 94.45V61.29M373.22 94.45V85.18M373.25 94.45V76.01M373.29 94.45V87.56M373.32 94.45V67.23M373.35 94.45V62.88M373.38 94.45V60.06M373.41 94.45V66.28M373.44 94.45V61.31M373.48 94.45V60.29M373.51 94.45V74.40M373.54 94.45V61.34M373.57 94.45V60.06M373.60 94.45V75.25M373.63 94.45V81.79M373.67 94.45V62.64M373.70 94.45V61.48M373.73 94.45V60.64M373.76 94.45V60.46M373.79 94.45V73.81M373.83 94.45V62.84M373.86 94.45V71.30M373.89 94.45V66.23M373.92 94.45V60.46M373.95 94.45V66.90M373.98 94.45V80.03M374.02 94.45V65.72M374.05 94.45V73.52M374.08 94.45V60.67M374.11 94.45V71.67M374.14 94.45V64.61M374.17 94.45V60.13M374.21 94.45V78.47M374.24 94.45V72.92M374.27 94.45V62.56M374.30 94.45V60.06M374.33 94.45V61.28M374.37 94.45V65.44M374.40 94.45V79.25M374.43 94.45V62.17M374.46 94.45V83.07M374.49 94.45V60.17M374.52 94.45V82.34M374.56 94.45V65.59M374.59 94.45V64.34M374.62 94.45V78.75M374.65 94.45V60.85M374.68 94.45V72.17M374.71 94.45V69.84M374.75 94.45V61.39M374.78 94.45V87.83M374.81 94.45V61.23M374.84 94.45V75.61M374.87 94.45V60.22M374.90 94.45V68.39M374.94 94.45V61.85M374.97 94.45V66.10M375.00 94.45V65.46M375.03 94.45V68.32M375.06 94.45V73.90M375.10 94.45V83.18M375.19 94.45V71.79M375.22 94.45V69.96M375.25 94.45V67.59M375.29 94.45V87.44M375.32 94.45V82.70M375.35 94.45V63.41M375.38 94.45V62.24M375.41 94.45V60.77M375.44 94.45V75.62M375.48 94.45V79.33M375.51 94.45V86.24M375.54 94.45V86.00M375.57 94.45V79.44M375.60 94.45V66.10M375.63 94.45V66.06M375.67 94.45V60.97M375.70 94.45V71.74M375.73 94.45V86.59M375.76 94.45V62.30M375.79 94.45V61.51M375.83 94.45V64.46M375.86 94.45V61.67M375.89 94.45V62.61M375.92 94.45V65.11M375.95 94.45V85.58M375.98 94.45V62.86M376.02 94.45V84.14M376.05 94.45V73.52M376.08 94.45V60.75M376.11 94.45V76.34M376.14 94.45V62.75M376.17 94.45V87.82M376.21 94.45V61.75M376.24 94.45V65.25M376.27 94.45V62.98M376.30 94.45V71.97M376.33 94.45V82.51M376.37 94.45V66.46M376.40 94.45V64.55M376.43 94.45V84.18M376.46 94.45V60.89M376.49 94.45V70.97M376.52 94.45V62.22M376.56 94.45V80.97M376.59 94.45V64.35M376.62 94.45V61.38M376.65 94.45V69.93M376.68 94.45V73.42M376.71 94.45V65.14M376.75 94.45V74.54M376.78 94.45V69.44M376.81 94.45V74.94M376.84 94.45V87.68M376.87 94.45V82.09M376.90 94.45V65.68M376.94 94.45V66.59M376.97 94.45V63.65M377.00 94.45V67.58M377.03 94.45V78.87M377.06 94.45V66.97M377.10 94.45V63.71M377.13 94.45V86.81M377.16 94.45V56.69M377.22 94.45V71.87M377.25 94.45V74.58M377.29 94.45V61.56M377.32 94.45V65.52M377.35 94.45V66.60M377.38 94.45V67.23M377.41 94.45V73.67M377.44 94.45V68.03M377.48 94.45V83.50M377.51 94.45V61.41M377.54 94.45V82.31M377.57 94.45V80.32M377.60 94.45V87.41M377.63 94.45V62.23M377.67 94.45V63.70M377.70 94.45V68.71M377.73 94.45V87.85M377.76 94.45V64.21M377.79 94.45V82.62M377.83 94.45V71.47M377.86 94.45V63.25M377.89 94.45V65.74M377.92 94.45V82.16M377.95 94.45V65.38M377.98 94.45V67.84M378.02 94.45V75.98M378.05 94.45V64.88M378.08 94.45V74.38M378.11 94.45V65.88M378.14 94.45V83.25M378.17 94.45V85.22M378.21 94.45V73.05M378.24 94.45V73.45M378.27 94.45V66.52M378.30 94.45V72.05M378.33 94.45V76.33M378.37 94.45V85.03M378.40 94.45V74.36M378.43 94.45V61.60M378.46 94.45V62.75M378.49 94.45V68.96M378.52 94.45V80.18M378.56 94.45V65.98M378.59 94.45V76.95M378.62 94.45V66.55M378.65 94.45V84.09M378.68 94.45V67.35M378.71 94.45V75.37M378.75 94.45V62.32M378.78 94.45V70.43M378.81 94.45V74.71M378.84 94.45V78.87M378.87 94.45V61.02M378.90 94.45V76.26M378.94 94.45V61.20M378.97 94.45V75.13M379.00 94.45V81.01M379.03 94.45V79.79M379.06 94.45V61.42M379.10 94.45V61.69M379.13 94.45V77.11M379.16 94.45V66.74M379.25 94.45V79.11M379.29 94.45V64.56M379.32 94.45V75.92M379.35 94.45V61.86M379.38 94.45V82.16M379.41 94.45V71.71M379.44 94.45V62.21M379.48 94.45V61.99M379.51 94.45V71.78M379.54 94.45V69.33M379.57 94.45V63.47M379.60 94.45V86.77M379.63 94.45V61.99M379.67 94.45V86.30M379.70 94.45V68.02M379.73 94.45V76.46M379.76 94.45V64.84M379.79 94.45V71.16M379.83 94.45V87.80M379.86 94.45V62.86M379.89 94.45V67.59M379.92 94.45V77.78M379.95 94.45V65.48M379.98 94.45V66.64M380.02 94.45V65.09M380.05 94.45V63.98M380.08 94.45V62.62M380.11 94.45V64.13M380.14 94.45V79.73M380.17 94.45V69.37M380.21 94.45V84.48M380.24 94.45V66.26M380.27 94.45V77.02M380.30 94.45V77.16M380.33 94.45V73.09M380.37 94.45V74.82M380.40 94.45V71.18M380.43 94.45V67.34M380.46 94.45V63.10M380.49 94.45V72.98M380.52 94.45V81.50M380.56 94.45V70.15M380.59 94.45V70.24M380.62 94.45V69.34M380.65 94.45V63.34M380.68 94.45V66.60M380.71 94.45V65.07M380.75 94.45V67.94M380.78 94.45V76.07M380.81 94.45V87.41M380.84 94.45V63.74M380.87 94.45V65.29M380.90 94.45V67.00M380.94 94.45V70.89M380.97 94.45V70.56M381.00 94.45V70.54M381.03 94.45V69.15M381.06 94.45V68.31M381.10 94.45V67.17M381.13 94.45V65.38M381.16 94.45V70.12M381.19 94.45V84.52M381.22 94.45V53.83M381.29 94.45V76.20M381.32 94.45V65.90M381.35 94.45V63.25M381.38 94.45V64.78M381.41 94.45V78.56M381.44 94.45V73.85M381.48 94.45V69.49M381.51 94.45V64.93M381.54 94.45V80.71M381.57 94.45V64.98M381.60 94.45V78.32M381.63 94.45V75.72M381.67 94.45V80.77M381.70 94.45V64.17M381.73 94.45V70.33M381.76 94.45V85.04M381.79 94.45V62.76M381.83 94.45V67.13M381.86 94.45V64.30M381.89 94.45V71.32M381.92 94.45V63.84M381.95 94.45V72.83M381.98 94.45V63.06M382.02 94.45V64.31M382.05 94.45V80.03M382.08 94.45V79.81M382.11 94.45V63.83M382.14 94.45V80.89M382.17 94.45V71.82M382.21 94.45V85.07M382.24 94.45V68.36M382.27 94.45V65.43M382.30 94.45V67.92M382.33 94.45V66.79M382.37 94.45V81.35M382.40 94.45V78.51M382.43 94.45V68.20M382.46 94.45V66.35M382.49 94.45V87.13M382.52 94.45V75.57M382.56 94.45V74.00M382.59 94.45V65.79M382.62 94.45V63.90M382.65 94.45V65.15M382.68 94.45V84.71M382.71 94.45V77.39M382.75 94.45V78.04M382.78 94.45V81.68M382.81 94.45V63.93M382.84 94.45V63.15M382.87 94.45V66.57M382.90 94.45V82.76M382.94 94.45V80.96M382.97 94.45V69.01M383.00 94.45V62.81M383.03 94.45V84.69M383.06 94.45V63.14M383.10 94.45V67.41M383.13 94.45V72.19M383.16 94.45V73.62M383.19 94.45V68.68M383.22 94.45V71.38M383.32 94.45V68.72M383.35 94.45V63.88M383.38 94.45V65.20M383.41 94.45V80.73M383.44 94.45V81.18M383.48 94.45V67.07M383.51 94.45V65.74M383.54 94.45V74.15M383.57 94.45V65.53M383.60 94.45V72.12M383.63 94.45V73.15M383.67 94.45V64.51M383.70 94.45V65.60M383.73 94.45V79.49M383.76 94.45V63.53M383.79 94.45V74.87M383.83 94.45V82.19M383.86 94.45V66.55M383.89 94.45V76.29M383.92 94.45V64.60M383.95 94.45V64.14M383.98 94.45V81.90M384.02 94.45V87.29M384.05 94.45V74.70M384.08 94.45V63.67M384.11 94.45V71.35M384.14 94.45V68.00M384.17 94.45V78.79M384.21 94.45V72.98M384.24 94.45V63.75M384.27 94.45V63.66M384.30 94.45V64.70M384.33 94.45V66.10M384.37 94.45V75.18M384.40 94.45V63.89M384.43 94.45V82.78M384.46 94.45V65.42M384.49 94.45V64.91M384.52 94.45V79.96M384.56 94.45V63.50M384.59 94.45V85.07M384.62 94.45V76.14M384.65 94.45V76.25M384.68 94.45V75.77M384.71 94.45V65.38M384.75 94.45V66.28M384.78 94.45V75.53M384.81 94.45V64.36M384.84 94.45V68.19M384.87 94.45V78.82M384.90 94.45V80.88M384.94 94.45V65.46M384.97 94.45V63.46M385.00 94.45V85.29M385.03 94.45V66.02M385.06 94.45V73.12M385.10 94.45V65.00M385.13 94.45V79.66M385.16 94.45V69.85M385.19 94.45V76.55M385.22 94.45V69.03M385.25 94.45V64.86M385.29 94.45V53.14M385.35 94.45V68.44M385.38 94.45V67.45M385.41 94.45V67.34M385.44 94.45V69.24M385.48 94.45V75.17M385.51 94.45V68.59M385.54 94.45V74.21M385.57 94.45V80.08M385.60 94.45V73.54M385.63 94.45V73.08M385.67 94.45V65.79M385.70 94.45V67.64M385.73 94.45V72.21M385.76 94.45V74.73M385.79 94.45V71.90M385.83 94.45V87.62M385.86 94.45V65.91M385.89 94.45V64.91M385.92 94.45V66.88M385.95 94.45V69.83M385.98 94.45V65.66M386.02 94.45V73.83M386.05 94.45V64.16M386.08 94.45V82.36M386.11 94.45V68.20M386.14 94.45V69.59M386.17 94.45V65.88M386.21 94.45V74.85M386.24 94.45V64.03M386.27 94.45V65.19M386.30 94.45V79.55M386.33 94.45V69.94M386.37 94.45V64.09M386.40 94.45V78.88M386.43 94.45V67.95M386.46 94.45V64.87M386.49 94.45V74.87M386.52 94.45V72.58M386.56 94.45V65.48M386.59 94.45V73.16M386.62 94.45V68.45M386.65 94.45V87.74M386.68 94.45V66.18M386.71 94.45V85.76M386.75 94.45V67.93M386.78 94.45V64.75M386.81 94.45V86.06M386.84 94.45V64.82M386.87 94.45V86.01M386.90 94.45V76.17M386.94 94.45V64.30M386.97 94.45V69.27M387.00 94.45V74.86M387.03 94.45V69.24M387.06 94.45V68.53M387.10 94.45V64.81M387.13 94.45V65.88M387.16 94.45V74.89M387.19 94.45V65.23M387.22 94.45V66.46M387.25 94.45V67.29M387.29 94.45V72.57M387.38 94.45V68.61M387.41 94.45V65.71M387.44 94.45V87.30M387.48 94.45V72.44M387.51 94.45V66.17M387.54 94.45V83.99M387.57 94.45V64.42M387.60 94.45V86.97M387.63 94.45V77.41M387.67 94.45V79.18M387.70 94.45V85.70M387.73 94.45V68.61M387.76 94.45V79.26M387.79 94.45V66.76M387.83 94.45V64.09M387.86 94.45V64.33M387.89 94.45V81.29M387.92 94.45V76.36M387.95 94.45V66.77M387.98 94.45V78.94M388.02 94.45V67.11M388.05 94.45V78.81M388.08 94.45V64.39M388.11 94.45V81.51M388.14 94.45V70.60M388.17 94.45V78.23M388.21 94.45V65.27M388.24 94.45V66.99M388.27 94.45V85.85M388.30 94.45V79.55M388.33 94.45V66.37M388.37 94.45V87.04M388.40 94.45V79.86M388.43 94.45V71.08M388.46 94.45V73.09M388.49 94.45V67.58M388.52 94.45V66.33M388.56 94.45V77.86M388.59 94.45V84.47M388.62 94.45V69.25M388.65 94.45V67.08M388.68 94.45V84.65M388.71 94.45V78.87M388.75 94.45V75.61M388.78 94.45V73.93M388.81 94.45V79.83M388.84 94.45V81.06M388.87 94.45V85.26M388.90 94.45V65.45M388.94 94.45V68.41M388.97 94.45V74.92M389.00 94.45V78.80M389.03 94.45V66.33M389.06 94.45V79.28M389.10 94.45V66.86M389.13 94.45V76.20M389.16 94.45V75.53M389.19 94.45V68.89M389.22 94.45V84.23M389.25 94.45V72.00M389.29 94.45V69.97M389.32 94.45V70.06M389.35 94.45V56.34M389.41 94.45V87.61M389.44 94.45V82.80M389.48 94.45V75.63M389.51 94.45V73.26M389.54 94.45V82.74M389.57 94.45V75.67M389.60 94.45V77.76M389.63 94.45V74.82M389.67 94.45V84.52M389.70 94.45V66.62M389.73 94.45V65.38M389.76 94.45V64.29M389.79 94.45V67.97M389.83 94.45V65.99M389.86 94.45V74.12M389.89 94.45V70.91M389.92 94.45V70.17M389.95 94.45V85.37M389.98 94.45V72.71M390.02 94.45V79.05M390.05 94.45V65.53M390.08 94.45V75.51M390.11 94.45V77.90M390.14 94.45V69.65M390.17 94.45V77.92M390.21 94.45V71.02M390.24 94.45V70.44M390.27 94.45V77.63M390.30 94.45V80.80M390.33 94.45V87.33M390.37 94.45V68.56M390.40 94.45V66.13M390.43 94.45V75.72M390.46 94.45V66.07M390.49 94.45V76.35M390.52 94.45V75.69M390.56 94.45V66.22M390.59 94.45V72.03M390.62 94.45V79.42M390.65 94.45V73.95M390.68 94.45V67.36M390.71 94.45V77.45M390.75 94.45V77.90M390.78 94.45V64.74M390.81 94.45V66.25M390.84 94.45V69.12M390.87 94.45V74.14M390.90 94.45V64.56M390.94 94.45V75.17M390.97 94.45V79.51M391.00 94.45V67.09M391.03 94.45V64.83M391.06 94.45V65.37M391.10 94.45V67.28M391.13 94.45V68.67M391.16 94.45V71.98M391.19 94.45V79.36M391.22 94.45V77.45M391.25 94.45V75.13M391.29 94.45V69.63M391.32 94.45V82.15M391.35 94.45V74.87M391.44 94.45V64.88M391.48 94.45V65.09M391.51 94.45V87.74M391.54 94.45V69.92M391.57 94.45V73.99M391.60 94.45V64.68M391.63 94.45V86.78M391.67 94.45V64.80M391.70 94.45V77.97M391.73 94.45V69.72M391.76 94.45V72.26M391.79 94.45V66.08M391.83 94.45V64.49M391.86 94.45V71.07M391.89 94.45V63.36M391.92 94.45V84.25M391.95 94.45V82.19M391.98 94.45V74.99M392.02 94.45V71.87M392.05 94.45V70.48M392.08 94.45V63.50M392.11 94.45V68.25M392.14 94.45V73.80M392.17 94.45V63.26M392.21 94.45V84.93M392.24 94.45V64.58M392.27 94.45V67.02M392.30 94.45V63.33M392.33 94.45V78.34M392.37 94.45V66.40M392.40 94.45V64.31M392.43 94.45V75.77M392.46 94.45V74.26M392.49 94.45V63.27M392.52 94.45V73.14M392.56 94.45V65.78M392.59 94.45V85.93M392.62 94.45V63.75M392.65 94.45V63.57M392.68 94.45V73.83M392.71 94.45V71.62M392.75 94.45V70.52M392.78 94.45V72.37M392.81 94.45V65.24M392.84 94.45V63.75M392.87 94.45V71.42M392.90 94.45V66.56M392.94 94.45V64.55M392.97 94.45V70.03M393.00 94.45V87.58M393.03 94.45V78.34M393.06 94.45V72.95M393.10 94.45V81.64M393.13 94.45V70.84M393.16 94.45V86.93M393.19 94.45V63.28M393.22 94.45V80.40M393.25 94.45V73.38M393.29 94.45V63.84M393.32 94.45V72.18M393.35 94.45V68.66M393.38 94.45V81.79M393.41 94.45V56.64M393.48 94.45V74.95M393.51 94.45V74.59M393.54 94.45V69.15M393.57 94.45V72.35M393.60 94.45V67.73M393.63 94.45V70.81M393.67 94.45V62.49M393.70 94.45V63.48M393.73 94.45V81.00M393.76 94.45V66.87M393.79 94.45V67.21M393.83 94.45V83.02M393.86 94.45V65.81M393.89 94.45V70.11M393.92 94.45V65.40M393.95 94.45V71.52M393.98 94.45V69.15M394.02 94.45V72.74M394.05 94.45V67.43M394.08 94.45V80.99M394.11 94.45V65.32M394.14 94.45V84.22M394.17 94.45V79.26M394.21 94.45V74.50M394.24 94.45V72.30M394.27 94.45V78.35M394.30 94.45V86.59M394.33 94.45V69.13M394.37 94.45V63.21M394.40 94.45V84.61M394.43 94.45V80.65M394.46 94.45V65.64M394.49 94.45V62.78M394.52 94.45V73.19M394.56 94.45V84.42M394.59 94.45V85.08M394.62 94.45V79.04M394.65 94.45V75.19M394.68 94.45V71.65M394.71 94.45V82.75M394.75 94.45V65.70M394.78 94.45V79.21M394.81 94.45V73.16M394.84 94.45V63.52M394.87 94.45V69.10M394.90 94.45V64.12M394.94 94.45V65.12M394.97 94.45V62.48M395.00 94.45V69.65M395.03 94.45V64.73M395.06 94.45V78.31M395.10 94.45V86.32M395.13 94.45V66.97M395.16 94.45V67.47M395.19 94.45V79.44M395.22 94.45V62.64M395.25 94.45V78.38M395.29 94.45V63.94M395.32 94.45V71.52M395.35 94.45V65.50M395.38 94.45V64.77M395.41 94.45V64.27M395.51 94.45V72.66M395.54 94.45V68.64M395.57 94.45V70.07M395.60 94.45V71.46M395.63 94.45V77.01M395.67 94.45V82.41M395.70 94.45V63.62M395.73 94.45V81.70M395.76 94.45V85.16M395.79 94.45V86.95M395.83 94.45V62.05M395.86 94.45V72.11M395.89 94.45V65.06M395.92 94.45V74.07M395.95 94.45V64.41M395.98 94.45V81.29M396.02 94.45V77.54M396.05 94.45V70.00M396.08 94.45V71.76M396.11 94.45V61.81M396.14 94.45V72.30M396.17 94.45V63.48M396.21 94.45V67.50M396.24 94.45V71.76M396.27 94.45V73.08M396.30 94.45V66.81M396.33 94.45V72.47M396.37 94.45V63.16M396.40 94.45V81.34M396.43 94.45V74.19M396.46 94.45V76.31M396.49 94.45V77.37M396.52 94.45V71.46M396.56 94.45V65.67M396.59 94.45V61.69M396.62 94.45V62.00M396.65 94.45V63.02M396.68 94.45V64.30M396.71 94.45V76.12M396.75 94.45V69.71M396.78 94.45V73.39M396.81 94.45V61.85M396.84 94.45V62.52M396.87 94.45V75.74M396.90 94.45V65.53M396.94 94.45V72.04M396.97 94.45V62.56M397.00 94.45V78.73M397.03 94.45V79.93M397.06 94.45V63.94M397.10 94.45V62.36M397.13 94.45V61.78M397.16 94.45V71.05M397.19 94.45V70.67M397.22 94.45V73.72M397.25 94.45V73.99M397.29 94.45V75.93M397.32 94.45V87.55M397.35 94.45V65.15M397.38 94.45V62.59M397.41 94.45V87.73M397.44 94.45V72.02M397.48 94.45V57.61M397.54 94.45V80.56M397.57 94.45V61.45M397.60 94.45V76.50M397.63 94.45V61.02M397.67 94.45V64.17M397.70 94.45V63.09M397.73 94.45V60.82M397.76 94.45V73.52M397.79 94.45V81.33M397.83 94.45V61.97M397.86 94.45V74.46M397.89 94.45V83.66M397.92 94.45V75.30M397.95 94.45V85.10M397.98 94.45V64.38M398.02 94.45V65.50M398.05 94.45V60.82M398.08 94.45V69.86M398.11 94.45V86.48M398.14 94.45V67.87M398.17 94.45V83.38M398.21 94.45V67.84M398.24 94.45V79.53M398.27 94.45V83.98M398.30 94.45V73.77M398.33 94.45V73.31M398.37 94.45V62.98M398.40 94.45V73.77M398.43 94.45V84.40M398.46 94.45V84.26M398.49 94.45V67.31M398.52 94.45V62.75M398.56 94.45V62.67M398.59 94.45V61.20M398.62 94.45V61.78M398.65 94.45V68.76M398.68 94.45V64.67M398.71 94.45V67.02M398.75 94.45V80.34M398.78 94.45V72.89M398.81 94.45V69.49M398.84 94.45V65.66M398.87 94.45V72.07M398.90 94.45V85.86M398.94 94.45V82.44M398.97 94.45V73.31M399.00 94.45V74.95M399.03 94.45V80.12M399.06 94.45V66.62M399.10 94.45V71.22M399.13 94.45V86.41M399.16 94.45V69.82M399.19 94.45V74.89M399.22 94.45V62.77M399.25 94.45V71.71M399.29 94.45V66.36M399.32 94.45V68.08M399.35 94.45V72.27M399.38 94.45V70.40M399.41 94.45V60.99M399.44 94.45V78.88M399.48 94.45V75.01M399.57 94.45V63.34M399.60 94.45V61.70M399.63 94.45V65.71M399.67 94.45V63.88M399.70 94.45V68.05M399.73 94.45V82.00M399.76 94.45V67.66M399.79 94.45V63.63M399.83 94.45V78.77M399.86 94.45V60.25M399.89 94.45V79.61M399.92 94.45V71.96M399.95 94.45V74.04M399.98 94.45V64.66M400.02 94.45V61.63M400.05 94.45V62.14M400.08 94.45V71.67M400.11 94.45V76.18M400.14 94.45V70.61M400.17 94.45V60.73M400.21 94.45V74.99M400.24 94.45V74.24M400.27 94.45V73.72M400.30 94.45V81.86M400.33 94.45V69.50M400.37 94.45V68.73M400.40 94.45V66.28M400.43 94.45V60.24M400.46 94.45V72.35M400.49 94.45V60.49M400.52 94.45V65.91M400.56 94.45V73.37M400.59 94.45V78.55M400.62 94.45V83.59M400.65 94.45V75.31M400.68 94.45V67.82M400.71 94.45V71.96M400.75 94.45V64.29M400.78 94.45V72.98M400.81 94.45V67.99M400.84 94.45V61.25M400.87 94.45V80.54M400.90 94.45V76.36M400.94 94.45V61.27M400.97 94.45V62.44M401.00 94.45V64.90M401.03 94.45V74.45M401.06 94.45V83.93M401.10 94.45V79.61M401.13 94.45V66.49M401.16 94.45V83.19M401.19 94.45V62.26M401.22 94.45V63.67M401.25 94.45V64.01M401.29 94.45V60.60M401.32 94.45V68.82M401.35 94.45V64.86M401.38 94.45V81.88M401.41 94.45V80.56M401.44 94.45V87.32M401.48 94.45V75.15M401.51 94.45V75.11M401.54 94.45V55.14M401.60 94.45V83.97M401.63 94.45V74.61M401.67 94.45V75.41M401.70 94.45V61.76M401.73 94.45V65.69M401.76 94.45V73.38M401.79 94.45V60.14M401.83 94.45V67.29M401.86 94.45V65.03M401.89 94.45V68.01M401.92 94.45V61.75M401.95 94.45V84.75M401.98 94.45V83.19M402.02 94.45V60.03M402.05 94.45V62.66M402.08 94.45V64.50M402.11 94.45V64.93M402.14 94.45V61.98M402.17 94.45V87.70M402.21 94.45V64.97M402.24 94.45V62.81M402.27 94.45V65.66M402.30 94.45V84.78M402.33 94.45V60.11M402.37 94.45V84.92M402.40 94.45V67.11M402.43 94.45V82.14M402.46 94.45V63.85M402.49 94.45V60.05M402.52 94.45V83.51M402.56 94.45V73.35M402.59 94.45V80.04M402.62 94.45V61.17M402.65 94.45V66.87M402.68 94.45V78.57M402.71 94.45V84.64M402.75 94.45V60.60M402.78 94.45V60.26M402.81 94.45V60.58M402.84 94.45V62.51M402.87 94.45V60.29M402.90 94.45V68.28M402.94 94.45V69.40M402.97 94.45V68.42M403.00 94.45V70.06M403.03 94.45V61.38M403.06 94.45V61.19M403.10 94.45V61.91M403.13 94.45V72.15M403.16 94.45V64.46M403.19 94.45V71.48M403.22 94.45V64.38M403.25 94.45V81.24M403.29 94.45V81.51M403.32 94.45V82.62M403.35 94.45V72.34M403.38 94.45V64.94M403.41 94.45V60.19M403.44 94.45V69.51M403.48 94.45V84.35M403.51 94.45V74.00M403.54 94.45V72.15M403.63 94.45V61.56M403.67 94.45V61.07M403.70 94.45V78.50M403.73 94.45V60.35M403.76 94.45V74.67M403.79 94.45V68.93M403.83 94.45V61.41M403.86 94.45V69.13M403.89 94.45V73.03M403.92 94.45V61.79M403.95 94.45V68.42M403.98 94.45V62.78M404.02 94.45V64.92M404.05 94.45V82.74M404.08 94.45V81.74M404.11 94.45V65.36M404.14 94.45V65.39M404.17 94.45V61.25M404.21 94.45V73.23M404.24 94.45V72.52M404.27 94.45V82.35M404.30 94.45V70.57M404.33 94.45V62.44M404.37 94.45V83.28M404.40 94.45V60.41M404.43 94.45V67.53M404.46 94.45V87.01M404.49 94.45V67.78M404.52 94.45V64.57M404.56 94.45V79.04M404.59 94.45V80.40M404.62 94.45V60.97M404.65 94.45V75.25M404.68 94.45V65.79M404.71 94.45V64.03M404.75 94.45V62.19M404.78 94.45V60.62M404.81 94.45V64.64M404.84 94.45V68.12M404.87 94.45V84.67M404.90 94.45V84.23M404.94 94.45V71.64M404.97 94.45V64.64M405.00 94.45V60.67M405.03 94.45V60.56M405.06 94.45V67.79M405.10 94.45V78.26M405.13 94.45V60.94M405.16 94.45V64.57M405.19 94.45V70.82M405.22 94.45V66.63M405.25 94.45V67.00M405.29 94.45V74.56M405.32 94.45V78.45M405.35 94.45V86.95M405.38 94.45V71.11M405.41 94.45V67.47M405.44 94.45V61.46M405.48 94.45V60.42M405.51 94.45V61.73M405.54 94.45V84.87M405.57 94.45V71.57M405.60 94.45V55.19M405.67 94.45V64.82M405.70 94.45V59.20M405.73 94.45V62.71M405.76 94.45V63.85M405.79 94.45V57.55M405.83 94.45V59.92M405.86 94.45V87.47M405.89 94.45V58.64M405.92 94.45V69.05M405.95 94.45V70.27M405.98 94.45V58.87M406.02 94.45V85.12M406.05 94.45V57.72M406.08 94.45V62.90M406.11 94.45V79.84M406.14 94.45V57.60M406.17 94.45V60.84M406.21 94.45V81.35M406.24 94.45V60.69M406.27 94.45V57.84M406.30 94.45V81.45M406.33 94.45V66.83M406.37 94.45V58.18M406.40 94.45V57.60M406.43 94.45V61.80M406.46 94.45V85.99M406.49 94.45V73.12M406.52 94.45V79.20M406.56 94.45V64.41M406.59 94.45V64.64M406.62 94.45V60.63M406.65 94.45V57.67M406.68 94.45V68.12M406.71 94.45V58.36M406.75 94.45V87.57M406.78 94.45V81.63M406.81 94.45V61.39M406.84 94.45V87.90M406.87 94.45V63.16M406.90 94.45V61.22M406.94 94.45V57.57M406.97 94.45V81.38M407.00 94.45V67.44M407.03 94.45V66.34M407.06 94.45V73.44M407.10 94.45V73.56M407.13 94.45V58.70M407.16 94.45V60.68M407.19 94.45V82.87M407.22 94.45V66.93M407.25 94.45V69.13M407.29 94.45V70.31M407.32 94.45V87.89M407.35 94.45V58.02M407.38 94.45V57.80M407.41 94.45V86.18M407.44 94.45V65.66M407.48 94.45V58.84M407.51 94.45V87.58M407.54 94.45V60.17M407.57 94.45V60.75M407.60 94.45V64.06M407.70 94.45V60.67M407.73 94.45V64.14M407.76 94.45V62.60M407.79 94.45V86.00M407.83 94.45V80.98M407.86 94.45V78.98M407.89 94.45V72.44M407.92 94.45V66.94M407.95 94.45V82.18M407.98 94.45V58.46M408.02 94.45V59.89M408.05 94.45V61.64M408.08 94.45V81.77M408.11 94.45V59.20M408.14 94.45V71.37M408.17 94.45V73.22M408.21 94.45V61.81M408.24 94.45V62.63M408.27 94.45V62.33M408.30 94.45V60.29M408.33 94.45V62.49M408.37 94.45V62.70M408.40 94.45V69.21M408.43 94.45V61.92M408.46 94.45V61.08M408.49 94.45V80.99M408.52 94.45V61.74M408.56 94.45V64.03M408.59 94.45V74.16M408.62 94.45V64.38M408.65 94.45V83.79M408.68 94.45V60.25M408.71 94.45V73.10M408.75 94.45V60.38M408.78 94.45V84.08M408.81 94.45V64.50M408.84 94.45V58.71M408.87 94.45V67.20M408.90 94.45V86.64M408.94 94.45V80.22M408.97 94.45V63.22M409.00 94.45V60.77M409.03 94.45V70.41M409.06 94.45V63.41M409.10 94.45V71.98M409.13 94.45V62.33M409.16 94.45V84.54M409.19 94.45V59.81M409.22 94.45V68.47M409.25 94.45V83.26M409.29 94.45V66.00M409.32 94.45V84.96M409.35 94.45V59.31M409.38 94.45V87.91M409.41 94.45V58.62M409.44 94.45V84.24M409.48 94.45V67.50M409.51 94.45V68.06M409.54 94.45V64.30M409.57 94.45V58.22M409.60 94.45V60.17M409.63 94.45V71.40M409.67 94.45V55.06M409.73 94.45V65.11M409.76 94.45V62.10M409.79 94.45V61.20M409.83 94.45V80.20M409.86 94.45V73.16M409.89 94.45V60.58M409.92 94.45V83.03M409.95 94.45V65.69M409.98 94.45V66.31M410.02 94.45V59.18M410.05 94.45V59.12M410.08 94.45V67.08M410.11 94.45V59.41M410.14 94.45V84.39M410.17 94.45V82.05M410.21 94.45V63.20M410.24 94.45V60.78M410.27 94.45V72.17M410.30 94.45V62.63M410.33 94.45V61.84M410.37 94.45V73.00M410.40 94.45V60.76M410.43 94.45V85.29M410.46 94.45V72.34M410.49 94.45V75.22M410.52 94.45V79.74M410.56 94.45V60.50M410.59 94.45V71.04M410.62 94.45V60.39M410.65 94.45V59.77M410.68 94.45V64.49M410.71 94.45V59.25M410.75 94.45V59.62M410.78 94.45V60.19M410.81 94.45V84.34M410.84 94.45V67.56M410.87 94.45V80.25M410.90 94.45V62.51M410.94 94.45V61.48M410.97 94.45V80.16M411.00 94.45V71.87M411.03 94.45V67.95M411.06 94.45V60.76M411.10 94.45V73.09M411.13 94.45V79.23M411.16 94.45V80.15M411.19 94.45V69.66M411.22 94.45V67.34M411.25 94.45V74.42M411.29 94.45V86.37M411.32 94.45V70.97M411.35 94.45V65.61M411.38 94.45V66.61M411.41 94.45V80.94M411.44 94.45V65.40M411.48 94.45V59.11M411.51 94.45V62.25M411.54 94.45V60.71M411.57 94.45V74.30M411.60 94.45V67.15M411.63 94.45V67.69M411.67 94.45V59.09M411.76 94.45V65.42M411.79 94.45V70.26M411.83 94.45V74.71M411.86 94.45V72.26M411.89 94.45V60.15M411.92 94.45V67.85M411.95 94.45V64.27M411.98 94.45V60.94M412.02 94.45V61.73M412.05 94.45V86.23M412.08 94.45V79.61M412.11 94.45V70.64M412.14 94.45V64.69M412.17 94.45V79.89M412.21 94.45V73.75M412.24 94.45V59.92M412.27 94.45V62.29M412.30 94.45V64.90M412.33 94.45V73.79M412.37 94.45V84.60M412.40 94.45V68.12M412.43 94.45V63.66M412.46 94.45V59.92M412.49 94.45V69.79M412.52 94.45V61.65M412.56 94.45V62.22M412.59 94.45V82.23M412.62 94.45V71.42M412.65 94.45V60.55M412.68 94.45V65.08M412.71 94.45V84.85M412.75 94.45V75.51M412.78 94.45V71.87M412.81 94.45V63.56M412.84 94.45V73.21M412.87 94.45V61.33M412.90 94.45V63.97M412.94 94.45V65.01M412.97 94.45V62.40M413.00 94.45V63.09M413.03 94.45V72.26M413.06 94.45V69.94M413.10 94.45V69.67M413.13 94.45V60.57M413.16 94.45V74.73M413.19 94.45V67.94M413.22 94.45V60.90M413.25 94.45V71.72M413.29 94.45V60.41M413.32 94.45V67.57M413.35 94.45V75.19M413.38 94.45V73.99M413.41 94.45V70.26M413.44 94.45V87.62M413.48 94.45V61.02M413.51 94.45V61.48M413.54 94.45V62.70M413.57 94.45V68.63M413.60 94.45V79.49M413.63 94.45V68.84M413.67 94.45V60.31M413.70 94.45V73.77M413.73 94.45V57.91M413.79 94.45V70.32M413.83 94.45V63.73M413.86 94.45V84.38M413.89 94.45V80.20M413.92 94.45V72.64M413.95 94.45V78.35M413.98 94.45V63.93M414.02 94.45V75.90M414.05 94.45V60.57M414.08 94.45V65.27M414.11 94.45V73.91M414.14 94.45V66.17M414.17 94.45V60.90M414.21 94.45V66.28M414.24 94.45V73.34M414.27 94.45V73.08M414.30 94.45V66.56M414.33 94.45V61.26M414.37 94.45V78.66M414.40 94.45V87.95M414.43 94.45V69.08M414.46 94.45V86.01M414.49 94.45V72.08M414.52 94.45V60.73M414.56 94.45V68.56M414.59 94.45V70.70M414.62 94.45V87.94M414.65 94.45V79.42M414.68 94.45V80.50M414.71 94.45V62.27M414.75 94.45V83.89M414.78 94.45V69.65M414.81 94.45V69.54M414.84 94.45V66.02M414.87 94.45V64.20M414.90 94.45V74.43M414.94 94.45V80.99M414.97 94.45V60.64M415.00 94.45V78.80M415.03 94.45V68.25M415.06 94.45V64.17M415.10 94.45V63.70M415.13 94.45V79.10M415.16 94.45V69.43M415.19 94.45V61.52M415.22 94.45V65.56M415.25 94.45V80.53M415.29 94.45V60.69M415.32 94.45V82.56M415.35 94.45V63.58M415.38 94.45V82.56M415.41 94.45V62.28M415.44 94.45V61.90M415.48 94.45V67.63M415.51 94.45V85.12M415.54 94.45V61.30M415.57 94.45V71.21M415.60 94.45V66.48M415.63 94.45V60.98M415.67 94.45V62.54M415.70 94.45V76.35M415.73 94.45V63.45M415.83 94.45V73.69M415.86 94.45V64.74M415.89 94.45V78.55M415.92 94.45V83.97M415.95 94.45V73.27M415.98 94.45V76.23M416.02 94.45V69.11M416.05 94.45V62.20M416.08 94.45V75.54M416.11 94.45V74.81M416.14 94.45V63.56M416.17 94.45V76.71M416.21 94.45V73.57M416.24 94.45V75.80M416.27 94.45V62.74M416.30 94.45V61.69M416.33 94.45V60.87M416.37 94.45V67.85M416.40 94.45V60.84M416.43 94.45V86.76M416.46 94.45V60.86M416.49 94.45V64.58M416.52 94.45V63.48M416.56 94.45V71.83M416.59 94.45V63.60M416.62 94.45V62.86M416.65 94.45V61.13M416.68 94.45V64.88M416.71 94.45V73.07M416.75 94.45V64.87M416.78 94.45V72.85M416.81 94.45V72.81M416.84 94.45V85.38M416.87 94.45V71.90M416.90 94.45V62.33M416.94 94.45V68.24M416.97 94.45V79.40M417.00 94.45V65.15M417.03 94.45V81.55M417.06 94.45V81.28M417.10 94.45V70.00M417.13 94.45V62.61M417.16 94.45V75.31M417.19 94.45V82.09M417.22 94.45V61.40M417.25 94.45V64.42M417.29 94.45V61.16M417.32 94.45V71.98M417.35 94.45V63.30M417.38 94.45V66.90M417.41 94.45V64.72M417.44 94.45V84.17M417.48 94.45V71.41M417.51 94.45V79.44M417.54 94.45V62.02M417.57 94.45V76.19M417.60 94.45V68.42M417.63 94.45V76.77M417.67 94.45V67.21M417.70 94.45V72.38M417.73 94.45V84.21M417.76 94.45V76.50M417.79 94.45V57.10M417.86 94.45V72.15M417.89 94.45V82.43M417.92 94.45V69.07M417.95 94.45V82.35M417.98 94.45V73.99M418.02 94.45V65.86M418.05 94.45V69.82M418.08 94.45V78.61M418.11 94.45V61.24M418.14 94.45V72.70M418.17 94.45V68.16M418.21 94.45V76.92M418.24 94.45V61.04M418.27 94.45V63.11M418.30 94.45V61.36M418.33 94.45V61.38M418.37 94.45V67.49M418.40 94.45V69.22M418.43 94.45V82.37M418.46 94.45V75.91M418.49 94.45V63.71M418.52 94.45V68.26M418.56 94.45V65.10M418.59 94.45V65.37M418.62 94.45V64.64M418.65 94.45V63.00M418.68 94.45V66.29M418.71 94.45V70.09M418.75 94.45V81.66M418.78 94.45V75.33M418.81 94.45V72.20M418.84 94.45V64.43M418.87 94.45V81.60M418.90 94.45V79.44M418.94 94.45V66.14M418.97 94.45V61.04M419.00 94.45V76.75M419.03 94.45V61.26M419.06 94.45V63.68M419.10 94.45V64.97M419.13 94.45V82.94M419.16 94.45V61.21M419.19 94.45V75.69M419.22 94.45V75.60M419.25 94.45V68.66M419.29 94.45V61.08M419.32 94.45V65.12M419.35 94.45V63.05M419.38 94.45V63.26M419.41 94.45V63.24M419.44 94.45V65.85M419.48 94.45V60.84M419.51 94.45V83.78M419.54 94.45V87.90M419.57 94.45V61.14M419.60 94.45V83.97M419.63 94.45V81.22M419.67 94.45V63.92M419.70 94.45V65.30M419.73 94.45V61.04M419.76 94.45V83.34M419.79 94.45V69.85M419.89 94.45V65.28M419.92 94.45V61.57M419.95 94.45V82.37M419.98 94.45V71.07M420.02 94.45V86.43M420.05 94.45V87.83M420.08 94.45V62.22M420.11 94.45V65.55M420.14 94.45V64.61M420.17 94.45V75.23M420.21 94.45V61.93M420.24 94.45V64.19M420.27 94.45V65.72M420.30 94.45V74.20M420.33 94.45V80.00M420.37 94.45V73.60M420.40 94.45V61.29M420.43 94.45V85.57M420.46 94.45V69.34M420.49 94.45V81.49M420.52 94.45V87.39M420.56 94.45V61.49M420.59 94.45V64.40M420.62 94.45V61.55M420.65 94.45V64.08M420.68 94.45V65.09M420.71 94.45V80.59M420.75 94.45V63.43M420.78 94.45V62.56M420.81 94.45V63.48M420.84 94.45V65.19M420.87 94.45V73.23M420.90 94.45V60.68M420.94 94.45V62.12M420.97 94.45V65.32M421.00 94.45V61.09M421.03 94.45V64.49M421.06 94.45V65.14M421.10 94.45V62.80M421.13 94.45V65.32M421.16 94.45V72.24M421.19 94.45V61.74M421.22 94.45V71.30M421.25 94.45V82.48M421.29 94.45V68.41M421.32 94.45V85.61M421.35 94.45V69.66M421.38 94.45V61.04M421.41 94.45V61.64M421.44 94.45V66.43M421.48 94.45V86.55M421.51 94.45V66.32M421.54 94.45V87.52M421.57 94.45V60.35M421.60 94.45V60.84M421.63 94.45V63.47M421.67 94.45V62.16M421.70 94.45V61.36M421.73 94.45V61.21M421.76 94.45V66.42M421.79 94.45V72.22M421.83 94.45V66.34M421.86 94.45V57.54M421.92 94.45V59.67M421.95 94.45V59.65M421.98 94.45V59.79M422.02 94.45V60.36M422.05 94.45V87.05M422.08 94.45V68.82M422.11 94.45V66.60M422.14 94.45V61.45M422.17 94.45V59.61M422.21 94.45V59.82M422.24 94.45V59.91M422.27 94.45V82.82M422.30 94.45V66.42M422.33 94.45V81.90M422.37 94.45V62.11M422.40 94.45V75.45M422.43 94.45V64.54M422.46 94.45V87.44M422.49 94.45V70.68M422.52 94.45V87.48M422.56 94.45V59.59M422.59 94.45V60.26M422.62 94.45V67.99M422.65 94.45V72.55M422.68 94.45V65.88M422.71 94.45V62.51M422.75 94.45V59.59M422.78 94.45V61.52M422.81 94.45V60.47M422.84 94.45V68.73M422.87 94.45V86.05M422.90 94.45V81.99M422.94 94.45V59.60M422.97 94.45V85.69M423.00 94.45V67.83M423.03 94.45V73.15M423.06 94.45V62.10M423.10 94.45V60.87M423.13 94.45V74.31M423.16 94.45V63.13M423.19 94.45V59.87M423.22 94.45V75.35M423.25 94.45V69.31M423.29 94.45V85.34M423.32 94.45V80.70M423.35 94.45V60.76M423.38 94.45V60.00M423.41 94.45V80.11M423.44 94.45V65.47M423.48 94.45V70.15M423.51 94.45V74.39M423.54 94.45V60.00M423.57 94.45V66.29M423.60 94.45V84.36M423.63 94.45V61.74M423.67 94.45V60.40M423.70 94.45V61.34M423.73 94.45V73.13M423.76 94.45V86.42M423.79 94.45V68.20M423.83 94.45V65.48M423.86 94.45V62.80M423.95 94.45V64.77M423.98 94.45V61.47M424.02 94.45V84.74M424.05 94.45V67.73M424.08 94.45V68.40M424.11 94.45V59.49M424.14 94.45V62.29M424.17 94.45V85.70M424.21 94.45V71.53M424.24 94.45V59.20M424.27 94.45V69.38M424.30 94.45V65.05M424.33 94.45V82.04M424.37 94.45V74.33M424.40 94.45V71.84M424.43 94.45V59.97M424.46 94.45V61.45M424.49 94.45V69.43M424.52 94.45V58.83M424.56 94.45V82.18M424.59 94.45V59.43M424.62 94.45V72.84M424.65 94.45V63.39M424.68 94.45V64.96M424.71 94.45V59.95M424.75 94.45V58.74M424.78 94.45V87.94M424.81 94.45V65.60M424.84 94.45V72.45M424.87 94.45V59.23M424.90 94.45V64.03M424.94 94.45V63.33M424.97 94.45V61.36M425.00 94.45V58.75M425.03 94.45V72.59M425.06 94.45V82.41M425.10 94.45V85.68M425.13 94.45V63.21M425.16 94.45V70.50M425.19 94.45V58.85M425.22 94.45V60.19M425.25 94.45V85.91M425.29 94.45V59.40M425.32 94.45V65.90M425.35 94.45V58.85M425.38 94.45V68.62M425.41 94.45V62.83M425.44 94.45V58.75M425.48 94.45V60.92M425.51 94.45V87.84M425.54 94.45V68.59M425.57 94.45V64.08M425.60 94.45V60.51M425.63 94.45V72.55M425.67 94.45V59.40M425.70 94.45V63.36M425.73 94.45V61.01M425.76 94.45V70.04M425.79 94.45V61.03M425.83 94.45V61.06M425.86 94.45V86.27M425.89 94.45V64.73M425.92 94.45V57.19M425.98 94.45V64.03M426.02 94.45V58.02M426.05 94.45V62.25M426.08 94.45V63.88M426.11 94.45V67.11M426.14 94.45V81.59M426.17 94.45V81.51M426.21 94.45V58.64M426.24 94.45V59.85M426.27 94.45V66.69M426.30 94.45V65.27M426.33 94.45V62.62M426.37 94.45V72.02M426.40 94.45V60.50M426.43 94.45V58.93M426.46 94.45V83.30M426.49 94.45V58.07M426.52 94.45V64.84M426.56 94.45V57.99M426.59 94.45V60.29M426.62 94.45V81.25M426.65 94.45V71.33M426.68 94.45V84.77M426.71 94.45V59.74M426.75 94.45V59.17M426.78 94.45V59.52M426.81 94.45V66.47M426.84 94.45V58.00M426.87 94.45V59.12M426.90 94.45V59.33M426.94 94.45V58.89M426.97 94.45V70.78M427.00 94.45V63.70M427.03 94.45V58.11M427.06 94.45V70.19M427.10 94.45V66.75M427.13 94.45V70.10M427.16 94.45V62.95M427.19 94.45V69.07M427.22 94.45V61.07M427.25 94.45V64.82M427.29 94.45V63.99M427.32 94.45V67.74M427.35 94.45V62.25M427.38 94.45V61.44M427.41 94.45V72.68M427.44 94.45V72.75M427.48 94.45V58.15M427.51 94.45V60.08M427.54 94.45V79.79M427.57 94.45V84.18M427.60 94.45V65.53M427.63 94.45V86.93M427.67 94.45V87.95M427.70 94.45V63.11M427.73 94.45V79.47M427.76 94.45V63.19M427.79 94.45V62.23M427.83 94.45V61.05M427.86 94.45V57.88M427.89 94.45V71.44M427.92 94.45V72.67M428.02 94.45V83.37M428.05 94.45V60.60M428.08 94.45V86.71M428.11 94.45V59.36M428.14 94.45V69.56M428.17 94.45V64.39M428.21 94.45V83.16M428.24 94.45V63.10M428.27 94.45V59.55M428.30 94.45V60.34M428.33 94.45V58.12M428.37 94.45V85.68M428.40 94.45V57.77M428.43 94.45V60.54M428.46 94.45V70.80M428.49 94.45V68.76M428.52 94.45V61.05M428.56 94.45V70.72M428.59 94.45V66.38M428.62 94.45V66.30M428.65 94.45V61.75M428.68 94.45V58.17M428.71 94.45V69.37M428.75 94.45V62.01M428.78 94.45V57.93M428.81 94.45V61.83M428.84 94.45V69.88M428.87 94.45V60.04M428.90 94.45V65.82M428.94 94.45V81.33M428.97 94.45V57.85M429.00 94.45V85.24M429.03 94.45V70.52M429.06 94.45V71.23M429.10 94.45V57.54M429.13 94.45V68.44M429.16 94.45V69.53M429.19 94.45V68.89M429.22 94.45V59.36M429.25 94.45V67.21M429.29 94.45V65.45M429.32 94.45V67.10M429.35 94.45V87.20M429.38 94.45V70.16M429.41 94.45V79.49M429.44 94.45V63.67M429.48 94.45V61.42M429.51 94.45V59.07M429.54 94.45V60.46M429.57 94.45V57.43M429.60 94.45V57.21M429.63 94.45V79.25M429.67 94.45V80.33M429.70 94.45V57.72M429.73 94.45V58.26M429.76 94.45V71.31M429.79 94.45V80.51M429.83 94.45V69.75M429.86 94.45V84.82M429.89 94.45V57.87M429.92 94.45V69.28M429.95 94.45V61.40M429.98 94.45V58.26M430.05 94.45V65.08M430.08 94.45V64.90M430.11 94.45V79.95M430.14 94.45V85.13M430.17 94.45V57.40M430.21 94.45V57.38M430.24 94.45V56.96M430.27 94.45V67.95M430.30 94.45V72.35M430.33 94.45V56.95M430.37 94.45V85.19M430.40 94.45V56.87M430.43 94.45V63.95M430.46 94.45V63.28M430.49 94.45V63.93M430.52 94.45V57.03M430.56 94.45V63.02M430.59 94.45V57.87M430.62 94.45V60.72M430.65 94.45V71.19M430.68 94.45V87.52M430.71 94.45V58.46M430.75 94.45V56.89M430.78 94.45V56.91M430.81 94.45V64.95M430.84 94.45V70.18M430.87 94.45V85.35M430.90 94.45V71.81M430.94 94.45V63.24M430.97 94.45V59.33M431.00 94.45V57.16M431.03 94.45V58.05M431.06 94.45V71.21M431.10 94.45V59.40M431.13 94.45V82.30M431.16 94.45V58.30M431.19 94.45V60.27M431.22 94.45V60.54M431.25 94.45V69.98M431.29 94.45V71.97M431.32 94.45V58.97M431.35 94.45V59.27M431.38 94.45V57.91M431.41 94.45V59.12M431.44 94.45V83.63M431.48 94.45V87.49M431.51 94.45V71.83M431.54 94.45V57.06M431.57 94.45V59.07M431.60 94.45V64.16M431.63 94.45V57.95M431.67 94.45V61.43M431.70 94.45V87.30M431.73 94.45V63.33M431.76 94.45V69.23M431.79 94.45V84.78M431.83 94.45V58.59M431.86 94.45V85.91M431.89 94.45V57.06M431.92 94.45V56.92M431.95 94.45V81.84M431.98 94.45V64.50M432.08 94.45V61.03M432.11 94.45V57.56M432.14 94.45V59.89M432.17 94.45V71.13M432.21 94.45V62.87M432.24 94.45V63.09M432.27 94.45V57.11M432.30 94.45V86.38M432.33 94.45V66.76M432.37 94.45V69.95M432.40 94.45V59.37M432.43 94.45V69.56M432.46 94.45V85.17M432.49 94.45V60.73M432.52 94.45V58.34M432.56 94.45V81.04M432.59 94.45V59.37M432.62 94.45V71.25M432.65 94.45V64.30M432.68 94.45V84.11M432.71 94.45V85.13M432.75 94.45V57.25M432.78 94.45V60.29M432.81 94.45V82.79M432.84 94.45V59.89M432.87 94.45V65.94M432.90 94.45V62.02M432.94 94.45V78.94M432.97 94.45V57.04M433.00 94.45V83.62M433.03 94.45V80.56M433.06 94.45V69.33M433.10 94.45V66.27M433.13 94.45V82.33M433.16 94.45V84.10M433.19 94.45V64.77M433.22 94.45V66.14M433.25 94.45V66.89M433.29 94.45V82.45M433.32 94.45V80.38M433.35 94.45V87.78M433.38 94.45V64.66M433.41 94.45V69.86M433.44 94.45V66.92M433.48 94.45V64.55M433.51 94.45V79.59M433.54 94.45V61.87M433.57 94.45V59.77M433.60 94.45V72.12M433.63 94.45V84.91M433.67 94.45V71.71M433.70 94.45V69.28M433.73 94.45V70.20M433.76 94.45V71.08M433.79 94.45V85.62M433.83 94.45V57.17M433.86 94.45V66.16M433.89 94.45V69.48M433.92 94.45V57.35M433.95 94.45V87.72M433.98 94.45V58.45M434.02 94.45V61.22M434.05 94.45V58.35M434.11 94.45V80.33M434.14 94.45V85.29M434.17 94.45V64.90M434.21 94.45V68.03M434.24 94.45V85.01M434.27 94.45V67.23M434.30 94.45V59.27M434.33 94.45V57.23M434.37 94.45V59.23M434.40 94.45V57.33M434.43 94.45V60.21M434.46 94.45V58.49M434.49 94.45V69.64M434.52 94.45V84.03M434.56 94.45V59.18M434.59 94.45V61.04M434.62 94.45V67.13M434.65 94.45V69.91M434.68 94.45V59.51M434.71 94.45V62.90M434.75 94.45V59.00M434.78 94.45V61.93M434.81 94.45V58.37M434.84 94.45V71.99M434.87 94.45V66.54M434.90 94.45V61.01M434.94 94.45V58.28M434.97 94.45V61.38M435.00 94.45V73.06M435.03 94.45V85.40M435.06 94.45V63.73M435.10 94.45V61.35M435.13 94.45V68.76M435.16 94.45V73.17M435.19 94.45V59.96M435.22 94.45V71.19M435.25 94.45V87.31M435.29 94.45V60.79M435.32 94.45V60.02M435.35 94.45V85.85M435.38 94.45V85.37M435.41 94.45V61.36M435.44 94.45V62.92M435.48 94.45V57.41M435.51 94.45V72.64M435.54 94.45V60.31M435.57 94.45V65.24M435.60 94.45V84.06M435.63 94.45V60.21M435.67 94.45V57.54M435.70 94.45V59.86M435.73 94.45V86.60M435.76 94.45V58.50M435.79 94.45V69.38M435.83 94.45V57.85M435.86 94.45V85.60M435.89 94.45V71.95M435.92 94.45V69.25M435.95 94.45V63.70M435.98 94.45V60.06M436.02 94.45V79.15M436.05 94.45V66.86M436.14 94.45V65.95M436.17 94.45V68.00M436.21 94.45V61.52M436.24 94.45V57.86M436.27 94.45V72.36M436.30 94.45V65.31M436.33 94.45V79.59M436.37 94.45V64.86M436.40 94.45V68.05M436.43 94.45V67.14M436.46 94.45V72.55M436.49 94.45V68.98M436.52 94.45V86.49M436.56 94.45V81.71M436.59 94.45V59.66M436.62 94.45V59.45M436.65 94.45V65.95M436.68 94.45V67.13M436.71 94.45V60.69M436.75 94.45V73.38M436.78 94.45V61.79M436.81 94.45V73.40M436.84 94.45V71.36M436.87 94.45V60.63M436.90 94.45V61.15M436.94 94.45V61.98M436.97 94.45V83.52M437.00 94.45V82.37M437.03 94.45V73.20M437.06 94.45V71.74M437.10 94.45V79.72M437.13 94.45V65.44M437.16 94.45V83.76M437.19 94.45V80.44M437.22 94.45V83.69M437.25 94.45V58.21M437.29 94.45V58.31M437.32 94.45V60.95M437.35 94.45V87.20M437.38 94.45V70.03M437.41 94.45V59.30M437.44 94.45V59.45M437.48 94.45V85.30M437.51 94.45V83.31M437.54 94.45V85.09M437.57 94.45V85.03M437.60 94.45V65.64M437.63 94.45V66.41M437.67 94.45V59.82M437.70 94.45V67.51M437.73 94.45V64.32M437.76 94.45V72.24M437.79 94.45V71.84M437.83 94.45V66.90M437.86 94.45V86.47M437.89 94.45V59.89M437.92 94.45V62.07M437.95 94.45V60.01M437.98 94.45V87.95M438.02 94.45V60.76M438.05 94.45V60.21M438.08 94.45V59.19M438.11 94.45V56.81M438.17 94.45V68.33M438.21 94.45V61.59M438.24 94.45V60.22M438.27 94.45V83.55M438.30 94.45V60.12M438.33 94.45V81.13M438.37 94.45V70.14M438.40 94.45V68.51M438.43 94.45V67.13M438.46 94.45V67.07M438.49 94.45V61.77M438.52 94.45V73.36M438.56 94.45V59.64M438.59 94.45V67.26M438.62 94.45V87.81M438.65 94.45V59.64M438.68 94.45V86.68M438.71 94.45V69.32M438.75 94.45V80.45M438.78 94.45V62.55M438.81 94.45V72.35M438.84 94.45V58.88M438.87 94.45V69.55M438.90 94.45V67.17M438.94 94.45V78.46M438.97 94.45V82.41M439.00 94.45V59.56M439.03 94.45V66.64M439.06 94.45V71.39M439.10 94.45V85.17M439.13 94.45V59.89M439.16 94.45V73.54M439.19 94.45V63.00M439.22 94.45V71.02M439.25 94.45V80.50M439.29 94.45V62.29M439.32 94.45V72.82M439.35 94.45V62.74M439.38 94.45V58.70M439.41 94.45V70.24M439.44 94.45V63.65M439.48 94.45V60.63M439.51 94.45V63.83M439.54 94.45V66.38M439.57 94.45V87.26M439.60 94.45V87.00M439.63 94.45V74.29M439.67 94.45V86.18M439.70 94.45V66.09M439.73 94.45V69.67M439.76 94.45V60.19M439.79 94.45V68.05M439.83 94.45V64.79M439.86 94.45V59.35M439.89 94.45V58.77M439.92 94.45V62.97M439.95 94.45V78.53M439.98 94.45V62.13M440.02 94.45V64.86M440.05 94.45V82.14M440.08 94.45V67.09M440.11 94.45V65.02M440.21 94.45V67.60M440.24 94.45V66.20M440.27 94.45V60.20M440.30 94.45V67.17M440.33 94.45V63.29M440.37 94.45V73.79M440.40 94.45V78.48M440.43 94.45V72.88M440.46 94.45V82.62M440.49 94.45V80.05M440.52 94.45V60.21M440.56 94.45V65.48M440.59 94.45V66.05M440.62 94.45V80.19M440.65 94.45V62.43M440.68 94.45V80.63M440.71 94.45V67.23M440.75 94.45V64.96M440.78 94.45V87.24M440.81 94.45V83.27M440.84 94.45V79.62M440.87 94.45V67.56M440.90 94.45V85.26M440.94 94.45V61.37M440.97 94.45V62.34M441.00 94.45V74.80M441.03 94.45V63.67M441.06 94.45V68.53M441.10 94.45V82.00M441.13 94.45V86.69M441.16 94.45V60.53M441.19 94.45V82.18M441.22 94.45V72.05M441.25 94.45V64.66M441.29 94.45V73.42M441.32 94.45V72.39M441.35 94.45V68.29M441.38 94.45V65.54M441.41 94.45V71.49M441.44 94.45V86.35M441.48 94.45V86.83M441.51 94.45V61.93M441.54 94.45V70.25M441.57 94.45V63.12M441.60 94.45V74.13M441.63 94.45V67.75M441.67 94.45V85.12M441.70 94.45V86.26M441.73 94.45V71.42M441.76 94.45V62.38M441.79 94.45V60.04M441.83 94.45V62.63M441.86 94.45V66.77M441.89 94.45V60.42M441.92 94.45V63.45M441.95 94.45V72.75M441.98 94.45V59.91M442.02 94.45V61.38M442.05 94.45V62.32M442.08 94.45V60.93M442.11 94.45V60.41M442.14 94.45V60.59M442.17 94.45V56.04M442.24 94.45V73.48M442.27 94.45V83.40M442.30 94.45V71.40M442.33 94.45V71.68M442.37 94.45V70.46M442.40 94.45V70.26M442.43 94.45V60.49M442.46 94.45V87.62M442.49 94.45V67.27M442.52 94.45V87.41M442.56 94.45V63.23M442.59 94.45V63.06M442.62 94.45V60.58M442.65 94.45V87.55M442.68 94.45V63.03M442.71 94.45V74.59M442.75 94.45V79.17M442.78 94.45V72.38M442.81 94.45V62.50M442.84 94.45V60.60M442.87 94.45V74.73M442.90 94.45V71.50M442.94 94.45V60.64M442.97 94.45V61.24M443.00 94.45V60.31M443.03 94.45V62.14M443.06 94.45V75.50M443.10 94.45V81.11M443.13 94.45V70.50M443.16 94.45V66.11M443.19 94.45V61.59M443.22 94.45V62.35M443.25 94.45V83.44M443.29 94.45V73.90M443.32 94.45V61.15M443.35 94.45V74.52M443.38 94.45V61.74M443.41 94.45V72.87M443.44 94.45V80.87M443.48 94.45V63.63M443.51 94.45V68.13M443.54 94.45V71.58M443.57 94.45V60.32M443.60 94.45V86.34M443.63 94.45V60.47M443.67 94.45V87.81M443.70 94.45V72.62M443.73 94.45V60.29M443.76 94.45V60.47M443.79 94.45V66.12M443.83 94.45V81.82M443.86 94.45V61.53M443.89 94.45V75.93M443.92 94.45V83.71M443.95 94.45V69.86M443.98 94.45V61.51M444.02 94.45V75.52M444.05 94.45V84.50M444.08 94.45V62.89M444.11 94.45V76.16M444.14 94.45V72.71M444.17 94.45V75.46M444.27 94.45V71.31M444.30 94.45V61.06M444.33 94.45V73.88M444.37 94.45V81.06M444.40 94.45V60.86M444.43 94.45V81.56M444.46 94.45V73.03M444.49 94.45V68.27M444.52 94.45V71.09M444.56 94.45V70.49M444.59 94.45V81.86M444.62 94.45V74.88M444.65 94.45V62.28M444.68 94.45V82.25M444.71 94.45V72.15M444.75 94.45V61.26M444.78 94.45V72.31M444.81 94.45V87.25M444.84 94.45V70.16M444.87 94.45V60.92M444.90 94.45V75.28M444.94 94.45V62.10M444.97 94.45V81.48M445.00 94.45V62.71M445.03 94.45V64.54M445.06 94.45V62.91M445.10 94.45V80.57M445.13 94.45V75.98M445.16 94.45V75.70M445.19 94.45V81.80M445.22 94.45V71.50M445.25 94.45V73.78M445.29 94.45V63.94M445.32 94.45V74.95M445.35 94.45V83.67M445.38 94.45V61.37M445.41 94.45V81.44M445.44 94.45V81.83M445.48 94.45V70.93M445.51 94.45V79.76M445.54 94.45V66.19M445.57 94.45V83.05M445.60 94.45V82.87M445.63 94.45V87.31M445.67 94.45V61.08M445.70 94.45V64.00M445.73 94.45V78.28M445.76 94.45V72.86M445.79 94.45V73.02M445.83 94.45V71.45M445.86 94.45V65.53M445.89 94.45V62.52M445.92 94.45V64.76M445.95 94.45V66.51M445.98 94.45V72.68M446.02 94.45V81.47M446.05 94.45V67.49M446.08 94.45V62.33M446.11 94.45V62.26M446.14 94.45V60.94M446.17 94.45V64.65M446.21 94.45V62.79M446.24 94.45V55.87M446.30 94.45V67.56M446.33 94.45V61.48M446.37 94.45V62.20M446.40 94.45V72.67M446.43 94.45V61.51M446.46 94.45V68.25M446.49 94.45V66.62M446.52 94.45V80.52M446.56 94.45V60.83M446.59 94.45V62.51M446.62 94.45V61.62M446.65 94.45V75.78M446.68 94.45V87.02M446.71 94.45V87.33M446.75 94.45V76.87M446.78 94.45V83.43M446.81 94.45V64.31M446.84 94.45V84.90M446.87 94.45V61.56M446.90 94.45V67.19M446.94 94.45V86.54M446.97 94.45V78.80M447.00 94.45V61.33M447.03 94.45V61.15M447.06 94.45V71.24M447.10 94.45V65.32M447.13 94.45V69.53M447.16 94.45V72.00M447.19 94.45V61.96M447.22 94.45V63.83M447.25 94.45V67.17M447.29 94.45V64.82M447.32 94.45V73.66M447.35 94.45V82.45M447.38 94.45V86.61M447.41 94.45V87.53M447.44 94.45V80.27M447.48 94.45V71.94M447.51 94.45V86.38M447.54 94.45V60.82M447.57 94.45V61.01M447.60 94.45V60.87M447.63 94.45V73.71M447.67 94.45V76.23M447.70 94.45V61.88M447.73 94.45V86.46M447.76 94.45V75.56M447.79 94.45V82.57M447.83 94.45V66.18M447.86 94.45V63.37M447.89 94.45V62.07M447.92 94.45V71.06M447.95 94.45V67.47M447.98 94.45V68.95M448.02 94.45V65.81M448.05 94.45V67.45M448.08 94.45V82.28M448.11 94.45V79.57M448.14 94.45V63.56M448.17 94.45V61.10M448.21 94.45V68.88M448.24 94.45V87.15M448.33 94.45V60.79M448.37 94.45V63.22M448.40 94.45V60.68M448.43 94.45V61.81M448.46 94.45V61.30M448.49 94.45V63.84M448.52 94.45V68.90M448.56 94.45V65.34M448.59 94.45V60.67M448.62 94.45V75.39M448.65 94.45V82.43M448.68 94.45V70.66M448.71 94.45V85.62M448.75 94.45V81.67M448.78 94.45V62.75M448.81 94.45V66.72M448.84 94.45V80.29M448.87 94.45V61.08M448.90 94.45V61.44M448.94 94.45V70.37M448.97 94.45V67.05M449.00 94.45V76.34M449.03 94.45V61.23M449.06 94.45V62.77M449.10 94.45V62.74M449.13 94.45V62.99M449.16 94.45V61.38M449.19 94.45V85.95M449.22 94.45V64.43M449.25 94.45V62.07M449.29 94.45V67.39M449.32 94.45V63.82M449.35 94.45V70.67M449.38 94.45V62.19M449.41 94.45V64.45M449.44 94.45V87.88M449.48 94.45V63.54M449.51 94.45V73.45M449.54 94.45V71.62M449.57 94.45V78.57M449.60 94.45V61.37M449.63 94.45V63.16M449.67 94.45V81.71M449.70 94.45V60.98M449.73 94.45V68.14M449.76 94.45V67.45M449.79 94.45V62.82M449.83 94.45V76.52M449.86 94.45V68.02M449.89 94.45V63.91M449.92 94.45V70.69M449.95 94.45V85.56M449.98 94.45V64.33M450.02 94.45V72.32M450.05 94.45V63.89M450.08 94.45V67.02M450.11 94.45V60.55M450.14 94.45V61.05M450.17 94.45V85.57M450.21 94.45V66.50M450.24 94.45V84.27M450.27 94.45V64.50M450.30 94.45V59.44M450.37 94.45V78.84M450.40 94.45V74.11M450.43 94.45V69.48M450.46 94.45V64.07M450.49 94.45V64.21M450.52 94.45V84.55M450.56 94.45V60.41M450.59 94.45V60.54M450.62 94.45V61.12M450.65 94.45V83.65M450.68 94.45V68.24M450.71 94.45V66.21M450.75 94.45V81.17M450.78 94.45V76.09M450.81 94.45V64.50M450.84 94.45V78.66M450.87 94.45V63.17M450.90 94.45V59.94M450.94 94.45V70.75M450.97 94.45V72.58M451.00 94.45V66.45M451.03 94.45V83.13M451.06 94.45V65.10M451.10 94.45V70.49M451.13 94.45V75.55M451.16 94.45V79.90M451.19 94.45V64.45M451.22 94.45V64.60M451.25 94.45V71.25M451.29 94.45V83.10M451.32 94.45V85.14M451.35 94.45V78.51M451.38 94.45V75.18M451.41 94.45V68.95M451.44 94.45V60.11M451.48 94.45V71.91M451.51 94.45V68.81M451.54 94.45V70.27M451.57 94.45V81.96M451.60 94.45V69.88M451.63 94.45V72.80M451.67 94.45V62.06M451.70 94.45V79.83M451.73 94.45V82.91M451.76 94.45V74.43M451.79 94.45V60.26M451.83 94.45V59.94M451.86 94.45V59.99M451.89 94.45V67.41M451.92 94.45V84.00M451.95 94.45V73.84M451.98 94.45V78.47M452.02 94.45V66.91M452.05 94.45V65.88M452.08 94.45V74.13M452.11 94.45V60.02M452.14 94.45V69.67M452.17 94.45V70.74M452.21 94.45V64.17M452.24 94.45V60.54M452.27 94.45V84.66M452.30 94.45V73.41M452.40 94.45V60.72M452.43 94.45V86.37M452.46 94.45V59.17M452.49 94.45V60.32M452.52 94.45V82.15M452.56 94.45V59.42M452.59 94.45V72.62M452.62 94.45V69.51M452.65 94.45V60.41M452.68 94.45V85.41M452.71 94.45V67.23M452.75 94.45V69.66M452.78 94.45V62.61M452.81 94.45V64.24M452.84 94.45V59.40M452.87 94.45V59.13M452.90 94.45V62.36M452.94 94.45V64.73M452.97 94.45V69.55M453.00 94.45V67.51M453.03 94.45V60.92M453.06 94.45V82.28M453.10 94.45V67.95M453.13 94.45V65.69M453.16 94.45V69.71M453.19 94.45V66.07M453.22 94.45V60.68M453.25 94.45V84.06M453.29 94.45V59.75M453.32 94.45V66.44M453.35 94.45V74.52M453.38 94.45V61.64M453.41 94.45V61.93M453.44 94.45V74.40M453.48 94.45V67.76M453.51 94.45V59.14M453.54 94.45V65.17M453.57 94.45V59.90M453.60 94.45V67.74M453.63 94.45V59.65M453.67 94.45V83.38M453.70 94.45V68.68M453.73 94.45V75.17M453.76 94.45V69.75M453.79 94.45V60.86M453.83 94.45V59.15M453.86 94.45V59.59M453.89 94.45V68.45M453.92 94.45V61.57M453.95 94.45V62.68M453.98 94.45V73.93M454.02 94.45V65.13M454.05 94.45V59.22M454.08 94.45V70.20M454.11 94.45V72.57M454.14 94.45V64.05M454.17 94.45V60.21M454.21 94.45V60.34M454.24 94.45V63.46M454.27 94.45V69.65M454.30 94.45V65.18M454.33 94.45V63.93M454.37 94.45V59.55M454.43 94.45V60.34M454.46 94.45V85.81M454.49 94.45V89.74M454.52 94.45V63.94M454.56 94.45V88.77M454.59 94.45V86.19M454.62 94.45V68.66M454.65 94.45V80.71M454.68 94.45V85.75M454.71 94.45V78.75M454.75 94.45V73.65M454.78 94.45V84.97M454.81 94.45V92.76M454.84 94.45V92.41M454.87 94.45V65.67M454.90 94.45V68.79M454.94 94.45V79.58M454.97 94.45V80.86M455.00 94.45V80.92M455.03 94.45V88.74M455.06 94.45V58.84M455.10 94.45V85.80M455.13 94.45V76.85M455.16 94.45V89.02M455.19 94.45V74.63M455.22 94.45V68.46M455.25 94.45V69.91M455.29 94.45V85.41M455.32 94.45V84.11M455.35 94.45V79.24M455.38 94.45V92.48M455.41 94.45V78.60M455.44 94.45V83.55M455.48 94.45V61.80M455.51 94.45V69.12M455.54 94.45V59.46M455.57 94.45V89.15M455.60 94.45V61.46M455.63 94.45V91.09M455.67 94.45V90.45M455.70 94.45V66.60M455.73 94.45V67.94M455.76 94.45V80.79M455.79 94.45V87.05M455.83 94.45V78.70M455.86 94.45V66.94M455.89 94.45V72.14M455.92 94.45V72.65M455.95 94.45V82.79M455.98 94.45V75.55M456.02 94.45V72.14M456.05 94.45V85.51M456.08 94.45V74.63M456.11 94.45V68.76M456.14 94.45V81.48M456.17 94.45V70.58M456.21 94.45V83.55M456.24 94.45V60.54M456.27 94.45V59.11M456.30 94.45V85.49M456.33 94.45V61.80M456.37 94.45V63.51M456.46 94.45V82.89M456.49 94.45V84.89M456.52 94.45V79.78M456.56 94.45V78.59M456.59 94.45V89.64M456.62 94.45V77.36M456.65 94.45V73.93M456.68 94.45V76.03M456.71 94.45V70.79M456.75 94.45V78.85M456.78 94.45V85.10M456.81 94.45V69.68M456.84 94.45V69.46M456.87 94.45V81.77M456.90 94.45V81.03M456.94 94.45V68.20M456.97 94.45V70.23M457.00 94.45V83.15M457.03 94.45V84.05M457.06 94.45V67.12M457.10 94.45V78.67M457.13 94.45V67.86M457.16 94.45V81.41M457.19 94.45V92.31M457.22 94.45V70.45M457.25 94.45V75.76M457.29 94.45V71.69M457.32 94.45V73.45M457.35 94.45V77.11M457.38 94.45V76.09M457.41 94.45V89.10M457.44 94.45V89.52M457.48 94.45V87.47M457.51 94.45V82.36M457.54 94.45V84.52M457.57 94.45V72.96M457.60 94.45V82.54M457.63 94.45V73.35M457.67 94.45V81.38M457.70 94.45V83.92M457.73 94.45V66.09M457.76 94.45V63.79M457.79 94.45V82.73M457.83 94.45V85.83M457.86 94.45V82.42M457.89 94.45V66.50M457.92 94.45V67.46M457.95 94.45V72.89M457.98 94.45V77.32M458.02 94.45V79.89M458.05 94.45V83.85M458.08 94.45V71.73M458.11 94.45V67.40M458.14 94.45V78.60M458.17 94.45V86.55M458.21 94.45V82.18M458.24 94.45V92.33M458.27 94.45V72.96M458.30 94.45V82.40M458.33 94.45V82.22M458.37 94.45V81.22M458.40 94.45V82.27M458.43 94.45V61.62M458.49 94.45V82.02M458.52 94.45V81.17M458.56 94.45V82.42M458.59 94.45V92.48M458.62 94.45V78.93M458.65 94.45V79.11M458.68 94.45V87.57M458.71 94.45V91.50M458.75 94.45V83.72M458.78 94.45V72.58M458.81 94.45V84.29M458.84 94.45V76.65M458.87 94.45V73.42M458.90 94.45V91.68M458.94 94.45V81.44M458.97 94.45V75.22M459.00 94.45V77.13M459.03 94.45V75.06M459.06 94.45V70.26M459.10 94.45V78.37M459.13 94.45V85.09M459.16 94.45V81.37M459.19 94.45V76.40M459.22 94.45V71.64M459.25 94.45V87.34M459.29 94.45V89.26M459.32 94.45V68.25M459.35 94.45V83.01M459.38 94.45V85.68M459.41 94.45V74.31M459.44 94.45V77.64M459.48 94.45V81.79M459.51 94.45V87.70M459.54 94.45V69.13M459.57 94.45V75.52M459.60 94.45V84.73M459.63 94.45V92.59M459.67 94.45V72.66M459.70 94.45V76.72M459.73 94.45V88.94M459.76 94.45V84.37M459.79 94.45V83.56M459.83 94.45V69.27M459.86 94.45V82.42M459.89 94.45V77.56M459.92 94.45V91.24M459.95 94.45V69.96M459.98 94.45V88.33M460.02 94.45V81.56M460.05 94.45V82.38M460.08 94.45V88.82M460.11 94.45V69.20M460.14 94.45V84.16M460.17 94.45V84.68M460.21 94.45V69.29M460.24 94.45V85.05M460.27 94.45V86.57M460.30 94.45V86.72M460.33 94.45V86.08M460.37 94.45V75.03M460.40 94.45V82.89M460.43 94.45V83.39M460.52 94.45V89.31M460.56 94.45V85.80M460.59 94.45V90.41M460.62 94.45V86.01M460.65 94.45V75.34M460.68 94.45V88.56M460.71 94.45V75.91M460.75 94.45V73.68M460.78 94.45V81.38M460.81 94.45V81.52M460.84 94.45V83.97M460.87 94.45V72.73M460.90 94.45V79.88M460.94 94.45V73.35M460.97 94.45V89.69M461.00 94.45V82.23M461.03 94.45V80.17M461.06 94.45V75.87M461.10 94.45V92.73M461.13 94.45V86.01M461.16 94.45V86.34M461.19 94.45V79.90M461.22 94.45V77.57M461.25 94.45V90.38M461.29 94.45V81.56M461.32 94.45V73.69M461.35 94.45V89.26M461.38 94.45V85.05M461.41 94.45V84.65M461.44 94.45V83.04M461.48 94.45V80.53M461.51 94.45V82.33M461.54 94.45V90.07M461.57 94.45V79.68M461.60 94.45V88.27M461.63 94.45V77.20M461.67 94.45V86.45M461.70 94.45V88.87M461.73 94.45V77.57M461.76 94.45V81.29M461.79 94.45V73.16M461.83 94.45V83.52M461.86 94.45V85.29M461.89 94.45V83.39M461.92 94.45V72.68M461.95 94.45V87.82M461.98 94.45V78.74M462.02 94.45V87.99M462.05 94.45V87.03M462.08 94.45V83.45M462.11 94.45V74.33M462.14 94.45V73.55M462.17 94.45V79.86M462.21 94.45V78.77M462.24 94.45V80.84M462.27 94.45V82.53M462.30 94.45V74.33M462.33 94.45V80.38M462.37 94.45V92.00M462.40 94.45V91.01M462.43 94.45V75.52M462.46 94.45V76.35M462.49 94.45V65.60M462.56 94.45V89.41M462.59 94.45V87.99M462.62 94.45V78.90M462.65 94.45V76.17M462.68 94.45V84.43M462.71 94.45V80.13M462.75 94.45V73.13M462.78 94.45V92.26M462.81 94.45V86.50M462.84 94.45V81.36M462.87 94.45V92.45M462.90 94.45V81.60M462.94 94.45V84.08M462.97 94.45V86.56M463.00 94.45V78.30M463.03 94.45V73.58M463.06 94.45V88.08M463.10 94.45V76.54M463.13 94.45V79.15M463.16 94.45V83.38M463.19 94.45V84.54M463.22 94.45V90.11M463.25 94.45V78.13M463.29 94.45V78.81M463.32 94.45V83.63M463.35 94.45V78.37M463.38 94.45V73.55M463.41 94.45V89.85M463.44 94.45V92.77M463.48 94.45V82.24M463.51 94.45V86.13M463.54 94.45V79.40M463.57 94.45V80.41M463.60 94.45V80.47M463.63 94.45V74.36M463.67 94.45V75.34M463.70 94.45V92.60M463.73 94.45V85.48M463.76 94.45V82.35M463.79 94.45V82.98M463.83 94.45V88.39M463.86 94.45V79.30M463.89 94.45V85.72M463.92 94.45V83.24M463.95 94.45V87.44M463.98 94.45V84.00M464.02 94.45V87.22M464.05 94.45V80.17M464.08 94.45V73.08M464.11 94.45V73.14M464.14 94.45V78.47M464.17 94.45V91.15M464.21 94.45V83.29M464.24 94.45V83.38M464.27 94.45V79.02M464.30 94.45V86.95M464.33 94.45V79.02M464.37 94.45V74.16M464.40 94.45V84.57M464.43 94.45V82.14M464.46 94.45V87.19M464.49 94.45V81.54M464.59 94.45V78.82M464.62 94.45V80.31M464.65 94.45V81.43M464.68 94.45V78.36M464.71 94.45V82.65M464.75 94.45V89.92M464.78 94.45V78.50M464.81 94.45V79.77M464.84 94.45V73.95M464.87 94.45V88.47M464.90 94.45V75.60M464.94 94.45V75.96M464.97 94.45V73.19M465.00 94.45V82.28M465.03 94.45V84.88M465.06 94.45V89.41M465.10 94.45V74.25M465.13 94.45V85.70M465.16 94.45V81.51M465.19 94.45V74.71M465.22 94.45V91.98M465.25 94.45V79.01M465.29 94.45V84.74M465.32 94.45V91.08M465.35 94.45V86.27M465.38 94.45V81.77M465.41 94.45V79.28M465.44 94.45V83.96M465.48 94.45V87.03M465.51 94.45V87.40M465.54 94.45V81.66M465.57 94.45V82.12M465.60 94.45V79.46M465.63 94.45V81.55M465.67 94.45V84.18M465.70 94.45V79.71M465.73 94.45V81.56M465.76 94.45V85.23M465.79 94.45V81.76M465.83 94.45V79.89M465.86 94.45V74.21M465.89 94.45V82.25M465.92 94.45V84.21M465.95 94.45V80.27M465.98 94.45V81.55M466.02 94.45V92.09M466.05 94.45V83.96M466.08 94.45V73.68M466.11 94.45V81.86M466.14 94.45V83.09M466.17 94.45V80.85M466.21 94.45V76.38M466.24 94.45V72.64M466.27 94.45V77.50M466.30 94.45V81.89M466.33 94.45V75.11M466.37 94.45V78.25M466.40 94.45V85.83M466.43 94.45V91.13M466.46 94.45V75.48M466.49 94.45V74.92M466.52 94.45V86.58M466.56 94.45V70.42M466.62 94.45V86.15M466.65 94.45V78.38M466.68 94.45V82.83M466.71 94.45V75.83M466.75 94.45V76.72M466.78 94.45V83.07M466.81 94.45V73.44M466.84 94.45V85.20M466.87 94.45V82.52M466.90 94.45V87.03M466.94 94.45V85.38M466.97 94.45V82.86M467.00 94.45V81.92M467.03 94.45V82.78M467.06 94.45V87.42M467.10 94.45V79.40M467.13 94.45V81.82M467.16 94.45V84.72M467.19 94.45V75.87M467.22 94.45V92.22M467.25 94.45V83.47M467.29 94.45V80.97M467.32 94.45V85.38M467.35 94.45V79.64M467.38 94.45V79.45M467.41 94.45V81.08M467.44 94.45V84.24M467.48 94.45V82.03M467.51 94.45V77.01M467.54 94.45V79.68M467.57 94.45V78.10M467.60 94.45V91.71M467.63 94.45V81.08M467.67 94.45V90.20M467.70 94.45V89.23M467.73 94.45V84.54M467.76 94.45V80.55M467.79 94.45V79.24M467.83 94.45V87.05M467.86 94.45V91.49M467.89 94.45V73.72M467.92 94.45V80.25M467.95 94.45V80.20M467.98 94.45V84.11M468.02 94.45V78.12M468.05 94.45V83.30M468.08 94.45V83.84M468.11 94.45V84.32M468.14 94.45V79.21M468.17 94.45V76.74M468.21 94.45V87.34M468.24 94.45V85.41M468.27 94.45V80.00M468.30 94.45V88.69M468.33 94.45V75.46M468.37 94.45V82.07M468.40 94.45V81.05M468.43 94.45V79.91M468.46 94.45V76.61M468.49 94.45V79.45M468.52 94.45V89.56M468.56 94.45V84.54M468.65 94.45V79.09M468.68 94.45V80.15M468.71 94.45V79.70M468.75 94.45V82.34M468.78 94.45V89.35M468.81 94.45V77.68M468.84 94.45V73.94M468.87 94.45V78.25M468.90 94.45V80.42M468.94 94.45V86.83M468.97 94.45V80.23M469.00 94.45V81.20M469.03 94.45V73.20M469.06 94.45V87.95M469.10 94.45V74.18M469.13 94.45V81.67M469.16 94.45V77.70M469.19 94.45V76.17M469.22 94.45V80.66M469.25 94.45V81.10M469.29 94.45V81.07M469.32 94.45V80.12M469.35 94.45V84.26M469.38 94.45V85.71M469.41 94.45V88.62M469.44 94.45V75.03M469.48 94.45V79.31M469.51 94.45V80.44M469.54 94.45V79.63M469.57 94.45V86.18M469.60 94.45V78.78M469.63 94.45V72.78M469.67 94.45V84.45M469.70 94.45V92.53M469.73 94.45V80.84M469.76 94.45V85.43M469.79 94.45V79.02M469.83 94.45V91.91M469.86 94.45V85.14M469.89 94.45V77.55M469.92 94.45V73.48M469.95 94.45V89.83M469.98 94.45V79.81M470.02 94.45V87.78M470.05 94.45V85.74M470.08 94.45V85.65M470.11 94.45V77.59M470.14 94.45V75.66M470.17 94.45V86.95M470.21 94.45V81.07M470.24 94.45V84.46M470.27 94.45V81.21M470.30 94.45V87.75M470.33 94.45V92.16M470.37 94.45V86.56M470.40 94.45V84.77M470.43 94.45V89.91M470.46 94.45V92.01M470.49 94.45V79.90M470.52 94.45V74.94M470.56 94.45V81.37M470.59 94.45V89.15M470.62 94.45V72.26M470.68 94.45V80.38M470.71 94.45V85.56M470.75 94.45V83.15M470.78 94.45V81.41M470.81 94.45V73.16M470.84 94.45V86.77M470.87 94.45V88.31M470.90 94.45V85.36M470.94 94.45V83.69M470.97 94.45V89.47M471.00 94.45V88.44M471.03 94.45V86.74M471.06 94.45V82.23M471.10 94.45V75.35M471.13 94.45V84.50M471.16 94.45V84.99M471.19 94.45V82.99M471.22 94.45V85.09M471.25 94.45V78.84M471.29 94.45V85.80M471.32 94.45V75.82M471.35 94.45V84.98M471.38 94.45V82.60M471.41 94.45V74.54M471.44 94.45V77.79M471.48 94.45V76.97M471.51 94.45V76.21M471.54 94.45V87.83M471.57 94.45V76.07M471.60 94.45V74.02M471.63 94.45V73.94M471.67 94.45V73.72M471.70 94.45V73.74M471.73 94.45V81.57M471.76 94.45V80.90M471.79 94.45V86.97M471.83 94.45V80.91M471.86 94.45V87.59M471.89 94.45V88.99M471.92 94.45V79.31M471.95 94.45V87.69M471.98 94.45V86.02M472.02 94.45V76.23M472.05 94.45V83.28M472.08 94.45V84.66M472.11 94.45V76.38M472.14 94.45V86.01M472.17 94.45V91.18M472.21 94.45V81.32M472.24 94.45V83.79M472.27 94.45V91.05M472.30 94.45V80.15M472.33 94.45V78.76M472.37 94.45V80.83M472.40 94.45V80.80M472.43 94.45V78.04M472.46 94.45V84.90M472.49 94.45V90.31M472.52 94.45V74.06M472.56 94.45V81.35M472.59 94.45V82.50M472.62 94.45V81.07M472.71 94.45V81.59M472.75 94.45V77.16M472.78 94.45V86.01M472.81 94.45V73.09M472.84 94.45V79.17M472.87 94.45V76.46M472.90 94.45V80.10M472.94 94.45V76.92M472.97 94.45V90.85M473.00 94.45V88.73M473.03 94.45V90.47M473.06 94.45V82.10M473.10 94.45V76.75M473.13 94.45V86.71M473.16 94.45V73.06M473.19 94.45V88.25M473.22 94.45V77.05M473.25 94.45V85.10M473.29 94.45V86.64M473.32 94.45V77.69M473.35 94.45V77.70M473.38 94.45V84.15M473.41 94.45V85.96M473.44 94.45V92.49M473.48 94.45V82.16M473.51 94.45V79.60M473.54 94.45V82.06M473.57 94.45V90.56M473.60 94.45V88.88M473.63 94.45V80.17M473.67 94.45V82.47M473.70 94.45V80.59M473.73 94.45V84.12M473.76 94.45V82.62M473.79 94.45V84.58M473.83 94.45V90.99M473.86 94.45V73.40M473.89 94.45V92.19M473.92 94.45V81.98M473.95 94.45V73.69M473.98 94.45V88.36M474.02 94.45V77.66M474.05 94.45V89.42M474.08 94.45V90.74M474.11 94.45V90.37M474.14 94.45V86.32M474.17 94.45V77.87M474.21 94.45V76.23M474.24 94.45V80.27M474.27 94.45V82.80M474.30 94.45V81.02M474.33 94.45V74.23M474.37 94.45V85.71M474.40 94.45V89.56M474.43 94.45V81.15M474.46 94.45V77.59M474.49 94.45V92.11M474.52 94.45V82.61M474.56 94.45V86.47M474.59 94.45V72.97M474.62 94.45V80.51M474.65 94.45V83.18M474.68 94.45V72.27M474.75 94.45V83.21M474.78 94.45V86.03M474.81 94.45V73.45M474.84 94.45V83.86M474.87 94.45V84.29M474.90 94.45V89.02M474.94 94.45V84.62M474.97 94.45V89.75M475.00 94.45V80.71M475.03 94.45V72.75M475.06 94.45V85.77M475.10 94.45V78.51M475.13 94.45V89.06M475.16 94.45V91.39M475.19 94.45V75.35M475.22 94.45V90.87M475.25 94.45V78.42M475.29 94.45V88.46M475.32 94.45V73.56M475.35 94.45V91.46M475.38 94.45V90.64M475.41 94.45V87.67M475.44 94.45V79.50M475.48 94.45V86.47M475.51 94.45V73.05M475.54 94.45V87.84M475.57 94.45V87.97M475.60 94.45V74.11M475.63 94.45V75.93M475.67 94.45V92.12M475.70 94.45V79.55M475.73 94.45V87.93M475.76 94.45V74.05M475.79 94.45V79.43M475.83 94.45V84.47M475.86 94.45V75.86M475.89 94.45V83.79M475.92 94.45V78.25M475.95 94.45V80.10M475.98 94.45V78.53M476.02 94.45V87.69M476.05 94.45V79.02M476.08 94.45V80.23M476.11 94.45V79.46M476.14 94.45V76.14M476.17 94.45V87.77M476.21 94.45V91.10M476.24 94.45V85.96M476.27 94.45V79.52M476.30 94.45V79.73M476.33 94.45V85.51M476.37 94.45V80.86M476.40 94.45V91.75M476.43 94.45V89.50M476.46 94.45V80.92M476.49 94.45V73.87M476.52 94.45V86.55M476.56 94.45V73.28M476.59 94.45V80.64M476.62 94.45V85.18M476.65 94.45V78.84M476.68 94.45V81.98M476.78 94.45V81.40M476.81 94.45V76.44M476.84 94.45V73.01M476.87 94.45V79.72M476.90 94.45V81.36M476.94 94.45V80.60M476.97 94.45V89.96M477.00 94.45V86.68M477.03 94.45V87.43M477.06 94.45V75.08M477.10 94.45V91.56M477.13 94.45V74.10M477.16 94.45V78.81M477.19 94.45V78.68M477.22 94.45V74.14M477.25 94.45V86.30M477.29 94.45V80.08M477.32 94.45V88.48M477.35 94.45V77.24M477.38 94.45V87.25M477.41 94.45V86.64M477.44 94.45V91.49M477.48 94.45V81.25M477.51 94.45V73.31M477.54 94.45V86.43M477.57 94.45V74.62M477.60 94.45V90.57M477.63 94.45V91.15M477.67 94.45V77.70M477.70 94.45V82.93M477.73 94.45V80.77M477.76 94.45V76.74M477.79 94.45V79.04M477.83 94.45V88.48M477.86 94.45V78.67M477.89 94.45V76.93M477.92 94.45V75.07M477.95 94.45V83.97M477.98 94.45V91.22M478.02 94.45V75.74M478.05 94.45V81.57M478.08 94.45V73.73M478.11 94.45V79.03M478.14 94.45V88.06M478.17 94.45V80.47M478.21 94.45V81.03M478.24 94.45V84.62M478.27 94.45V85.62M478.30 94.45V84.44M478.33 94.45V84.83M478.37 94.45V84.75M478.40 94.45V87.39M478.43 94.45V81.67M478.46 94.45V76.47M478.49 94.45V88.58M478.52 94.45V72.88M478.56 94.45V82.55M478.59 94.45V78.49M478.62 94.45V75.44M478.65 94.45V91.83M478.68 94.45V83.59M478.71 94.45V87.05M478.75 94.45V70.17M478.81 94.45V75.08M478.84 94.45V72.80M478.87 94.45V86.56M478.90 94.45V82.95M478.94 94.45V82.21M478.97 94.45V86.50M479.00 94.45V80.28M479.03 94.45V79.46M479.06 94.45V78.53M479.10 94.45V89.96M479.13 94.45V89.34M479.16 94.45V80.84M479.19 94.45V85.90M479.22 94.45V91.00M479.25 94.45V81.19M479.29 94.45V92.04M479.32 94.45V82.55M479.35 94.45V79.30M479.38 94.45V82.83M479.41 94.45V84.93M479.44 94.45V89.25M479.48 94.45V74.53M479.51 94.45V82.52M479.54 94.45V86.30M479.57 94.45V82.80M479.60 94.45V75.92M479.63 94.45V84.18M479.67 94.45V80.31M479.70 94.45V73.26M479.73 94.45V89.19M479.76 94.45V82.95M479.79 94.45V77.63M479.83 94.45V72.91M479.86 94.45V91.68M479.89 94.45V92.46M479.92 94.45V80.96M479.95 94.45V76.65M479.98 94.45V78.65M480.02 94.45V90.94M480.05 94.45V79.15M480.08 94.45V85.00M480.11 94.45V87.23M480.14 94.45V82.04M480.17 94.45V80.57M480.21 94.45V91.37M480.24 94.45V82.77M480.27 94.45V72.67M480.30 94.45V80.36M480.33 94.45V85.85M480.37 94.45V85.83M480.40 94.45V78.08M480.43 94.45V76.55M480.46 94.45V86.40M480.49 94.45V81.07M480.52 94.45V78.84M480.56 94.45V76.72M480.59 94.45V91.52M480.62 94.45V90.27M480.65 94.45V79.84M480.68 94.45V83.96M480.71 94.45V87.43M480.75 94.45V79.55M480.84 94.45V88.02M480.87 94.45V79.28M480.90 94.45V85.99M480.94 94.45V91.49M480.97 94.45V77.23M481.00 94.45V89.82M481.03 94.45V87.39M481.06 94.45V90.16M481.10 94.45V85.41M481.13 94.45V78.59M481.16 94.45V81.38M481.19 94.45V82.05M481.22 94.45V84.31M481.25 94.45V82.08M481.29 94.45V81.90M481.32 94.45V82.40M481.35 94.45V92.63M481.38 94.45V81.23M481.41 94.45V84.17M481.44 94.45V82.64M481.48 94.45V87.92M481.51 94.45V74.16M481.54 94.45V88.36M481.57 94.45V82.60M481.60 94.45V86.30M481.63 94.45V83.39M481.67 94.45V81.44M481.70 94.45V78.82M481.73 94.45V87.99M481.76 94.45V84.76M481.79 94.45V83.14M481.83 94.45V89.84M481.86 94.45V81.78M481.89 94.45V84.44M481.92 94.45V76.67M481.95 94.45V91.60M481.98 94.45V83.69M482.02 94.45V73.48M482.05 94.45V90.36M482.08 94.45V89.93M482.11 94.45V84.45M482.14 94.45V79.59M482.17 94.45V79.79M482.21 94.45V81.08M482.24 94.45V79.98M482.27 94.45V81.93M482.30 94.45V85.33M482.33 94.45V90.16M482.37 94.45V86.30M482.40 94.45V83.51M482.43 94.45V87.32M482.46 94.45V73.54M482.49 94.45V77.82M482.52 94.45V91.15M482.56 94.45V80.79M482.59 94.45V86.79M482.62 94.45V86.16M482.65 94.45V89.57M482.68 94.45V82.46M482.71 94.45V80.67M482.75 94.45V78.32M482.78 94.45V91.87M482.81 94.45V63.05M482.87 94.45V75.57M482.90 94.45V76.04M482.94 94.45V72.58M482.97 94.45V80.82M483.00 94.45V87.36M483.03 94.45V75.07M483.06 94.45V73.38M483.10 94.45V80.97M483.13 94.45V92.08M483.16 94.45V85.05M483.19 94.45V89.07M483.22 94.45V79.19M483.25 94.45V79.53M483.29 94.45V78.45M483.32 94.45V87.15M483.35 94.45V91.14M483.38 94.45V86.64M483.41 94.45V77.64M483.44 94.45V75.09M483.48 94.45V82.91M483.51 94.45V92.04M483.54 94.45V87.52M483.57 94.45V76.14M483.60 94.45V73.83M483.63 94.45V85.64M483.67 94.45V75.51M483.70 94.45V77.11M483.73 94.45V83.60M483.76 94.45V84.32M483.79 94.45V77.38M483.83 94.45V90.08M483.86 94.45V89.22M483.89 94.45V89.00M483.92 94.45V87.07M483.95 94.45V79.72M483.98 94.45V76.74M484.02 94.45V89.03M484.05 94.45V86.05M484.08 94.45V73.39M484.11 94.45V75.43M484.14 94.45V91.97M484.17 94.45V87.56M484.21 94.45V85.10M484.24 94.45V92.63M484.27 94.45V86.96M484.30 94.45V78.74M484.33 94.45V79.93M484.37 94.45V81.84M484.40 94.45V92.02M484.43 94.45V81.44M484.46 94.45V82.47M484.49 94.45V81.45M484.52 94.45V76.49M484.56 94.45V92.53M484.59 94.45V73.36M484.62 94.45V76.97M484.65 94.45V84.25M484.68 94.45V85.86M484.71 94.45V84.69M484.75 94.45V82.20M484.78 94.45V76.52M484.81 94.45V82.65M484.90 94.45V85.23M484.94 94.45V73.20M484.97 94.45V86.49M485.00 94.45V89.42M485.03 94.45V82.29M485.06 94.45V89.14M485.10 94.45V78.37M485.13 94.45V91.51M485.16 94.45V76.14M485.19 94.45V72.99M485.22 94.45V74.96M485.25 94.45V80.05M485.29 94.45V85.58M485.32 94.45V85.60M485.35 94.45V86.62M485.38 94.45V80.02M485.41 94.45V90.24M485.44 94.45V89.19M485.48 94.45V79.28M485.51 94.45V84.72M485.54 94.45V81.18M485.57 94.45V86.32M485.60 94.45V81.06M485.63 94.45V73.83M485.67 94.45V73.11M485.70 94.45V88.90M485.73 94.45V79.91M485.76 94.45V82.49M485.79 94.45V79.14M485.83 94.45V83.43M485.86 94.45V92.39M485.89 94.45V85.67M485.92 94.45V75.97M485.95 94.45V90.18M485.98 94.45V92.33M486.02 94.45V82.06M486.05 94.45V84.45M486.08 94.45V83.29M486.11 94.45V78.86M486.14 94.45V79.40M486.17 94.45V84.87M486.21 94.45V79.68M486.24 94.45V76.52M486.27 94.45V80.33M486.30 94.45V75.85M486.33 94.45V80.02M486.37 94.45V88.60M486.40 94.45V83.39M486.43 94.45V81.68M486.46 94.45V78.40M486.49 94.45V79.01M486.52 94.45V75.37M486.56 94.45V90.74M486.59 94.45V92.72M486.62 94.45V88.67M486.65 94.45V73.60M486.68 94.45V83.31M486.71 94.45V83.81M486.75 94.45V80.57M486.78 94.45V86.80M486.81 94.45V91.92M486.84 94.45V78.96M486.87 94.45V61.37M486.94 94.45V76.46M486.97 94.45V84.56M487.00 94.45V83.41M487.03 94.45V87.47M487.06 94.45V85.09M487.10 94.45V76.95M487.13 94.45V75.72M487.16 94.45V85.35M487.19 94.45V84.89M487.22 94.45V82.20M487.25 94.45V78.72M487.29 94.45V88.07M487.32 94.45V73.54M487.35 94.45V82.26M487.38 94.45V90.99M487.41 94.45V80.92M487.44 94.45V88.39M487.48 94.45V73.37M487.51 94.45V84.90M487.54 94.45V79.77M487.57 94.45V76.54M487.60 94.45V86.06M487.63 94.45V80.85M487.67 94.45V82.47M487.70 94.45V76.72M487.73 94.45V87.47M487.76 94.45V89.09M487.79 94.45V81.10M487.83 94.45V85.93M487.86 94.45V87.74M487.89 94.45V84.43M487.92 94.45V82.64M487.95 94.45V85.44M487.98 94.45V92.09M488.02 94.45V85.84M488.05 94.45V79.19M488.08 94.45V72.98M488.11 94.45V84.42M488.14 94.45V79.67M488.17 94.45V80.59M488.21 94.45V73.47M488.24 94.45V86.50M488.27 94.45V83.73M488.30 94.45V82.48M488.33 94.45V74.26M488.37 94.45V76.19M488.40 94.45V77.76M488.43 94.45V74.49M488.46 94.45V81.12M488.49 94.45V82.83M488.52 94.45V86.01M488.56 94.45V84.26M488.59 94.45V86.66M488.62 94.45V88.95M488.65 94.45V90.96M488.68 94.45V89.37M488.71 94.45V87.16M488.75 94.45V76.20M488.78 94.45V76.54M488.81 94.45V85.81M488.84 94.45V91.42M488.87 94.45V85.27M488.97 94.45V88.58M489.00 94.45V82.01M489.03 94.45V88.93M489.06 94.45V75.36M489.10 94.45V82.96M489.13 94.45V78.68M489.16 94.45V83.10M489.19 94.45V85.81M489.22 94.45V84.37M489.25 94.45V89.15M489.29 94.45V85.72M489.32 94.45V79.45M489.35 94.45V73.05M489.38 94.45V87.31M489.41 94.45V79.83M489.44 94.45V78.42M489.48 94.45V86.19M489.51 94.45V84.71M489.54 94.45V82.16M489.57 94.45V92.69M489.60 94.45V83.80M489.63 94.45V85.15M489.67 94.45V86.04M489.70 94.45V83.42M489.73 94.45V84.05M489.76 94.45V81.45M489.79 94.45V86.31M489.83 94.45V84.77M489.86 94.45V85.99M489.89 94.45V81.23M489.92 94.45V84.91M489.95 94.45V89.66M489.98 94.45V80.19M490.02 94.45V92.25M490.05 94.45V89.39M490.08 94.45V83.63M490.11 94.45V81.64M490.14 94.45V90.69M490.17 94.45V75.31M490.21 94.45V80.58M490.24 94.45V73.35M490.27 94.45V76.77M490.30 94.45V78.12M490.33 94.45V91.22M490.37 94.45V79.12M490.40 94.45V73.61M490.43 94.45V76.34M490.46 94.45V86.87M490.49 94.45V85.67M490.52 94.45V88.25M490.56 94.45V73.16M490.59 94.45V80.21M490.62 94.45V86.11M490.65 94.45V83.97M490.68 94.45V91.93M490.71 94.45V91.59M490.75 94.45V81.18M490.78 94.45V73.59M490.81 94.45V81.69M490.84 94.45V82.06M490.87 94.45V77.04M490.90 94.45V85.86M490.94 94.45V63.04M491.00 94.45V85.57M491.03 94.45V84.68M491.06 94.45V78.82M491.10 94.45V91.76M491.13 94.45V90.29M491.16 94.45V89.55M491.19 94.45V73.90M491.22 94.45V87.69M491.25 94.45V91.72M491.29 94.45V80.13M491.32 94.45V80.36M491.35 94.45V78.42M491.38 94.45V82.58M491.41 94.45V87.78M491.44 94.45V84.38M491.48 94.45V86.24M491.51 94.45V82.69M491.54 94.45V82.13M491.57 94.45V80.61M491.60 94.45V73.56M491.63 94.45V74.07M491.67 94.45V78.50M491.70 94.45V84.90M491.73 94.45V73.13M491.76 94.45V74.27M491.79 94.45V81.20M491.83 94.45V84.83M491.86 94.45V76.79M491.89 94.45V85.11M491.92 94.45V75.83M491.95 94.45V75.94M491.98 94.45V84.22M492.02 94.45V83.40M492.05 94.45V84.52M492.08 94.45V72.62M492.11 94.45V85.41M492.14 94.45V80.09M492.17 94.45V79.75M492.21 94.45V77.71M492.24 94.45V79.62M492.27 94.45V75.02M492.30 94.45V76.41M492.33 94.45V84.63M492.37 94.45V77.45M492.40 94.45V73.63M492.43 94.45V84.26M492.46 94.45V90.16M492.49 94.45V74.20M492.52 94.45V73.83M492.56 94.45V84.79M492.59 94.45V79.90M492.62 94.45V72.99M492.65 94.45V79.46M492.68 94.45V74.86M492.71 94.45V86.32M492.75 94.45V91.35M492.78 94.45V75.67M492.81 94.45V85.18M492.84 94.45V72.88M492.87 94.45V78.56M492.90 94.45V74.43M492.94 94.45V74.68M493.03 94.45V61.64M493.06 94.45V67.97M493.10 94.45V61.87M493.13 94.45V55.13M493.16 94.45V58.36M493.19 94.45V58.12M493.22 94.45V64.49M493.25 94.45V59.84M493.29 94.45V61.11M493.32 94.45V51.72M493.35 94.45V52.37M493.38 94.45V61.29M493.41 94.45V59.96M493.44 94.45V64.22M493.48 94.45V58.67M493.51 94.45V67.51M493.54 94.45V50.60M493.57 94.45V61.76M493.60 94.45V69.97M493.63 94.45V64.14M493.67 94.45V50.94M493.70 94.45V63.87M493.73 94.45V62.32M493.76 94.45V50.41M493.79 94.45V54.26M493.83 94.45V62.85M493.86 94.45V66.81M493.89 94.45V62.24M493.92 94.45V62.59M493.95 94.45V52.03M493.98 94.45V59.23M494.02 94.45V51.42M494.05 94.45V50.18M494.08 94.45V52.54M494.11 94.45V61.92M494.14 94.45V62.24M494.17 94.45V59.06M494.21 94.45V56.39M494.24 94.45V52.96M494.27 94.45V53.60M494.30 94.45V63.81M494.33 94.45V55.25M494.37 94.45V62.53M494.40 94.45V54.42M494.43 94.45V69.88M494.46 94.45V52.96M494.49 94.45V56.01M494.52 94.45V67.18M494.56 94.45V65.08M494.59 94.45V63.85M494.62 94.45V59.75M494.65 94.45V51.81M494.68 94.45V50.50M494.71 94.45V57.94M494.75 94.45V67.94M494.78 94.45V50.34M494.81 94.45V50.70M494.84 94.45V68.37M494.87 94.45V56.67M494.90 94.45V56.65M494.94 94.45V56.77M494.97 94.45V55.47M495.00 94.45V62.01" stroke="#a2a2a2" stroke-width="0.6" stroke-opacity="0.9" fill="none"/>
<path d="M364.61 44.11h0M365.02 47.38h0M365.57 39.35h0M365.05 56.10h0M366.30 46.57h0M366.09 46.47h0M366.08 51.92h0M366.86 47.23h0M366.71 55.06h0M366.11 57.32h0M367.58 43.36h0M366.89 69.63h0M366.64 68.04h0M366.90 77.37h0M367.76 62.41h0M367.69 71.05h0M367.70 83.64h0M367.90 66.15h0M368.25 71.81h0M368.62 68.36h0M368.28 63.75h0M369.66 82.06h0M368.68 55.73h0M369.09 64.98h0M369.41 71.54h0M369.55 69.37h0M369.87 62.47h0M368.84 86.83h0M369.89 73.23h0M369.86 60.70h0M370.65 61.31h0M371.40 65.69h0M370.29 70.37h0M371.14 79.12h0M371.75 87.29h0M371.69 86.39h0M371.80 62.26h0M371.58 62.87h0M372.74 87.65h0M372.46 68.81h0M372.68 66.59h0M373.04 62.51h0M372.26 67.96h0M372.64 57.33h0M374.20 66.28h0M373.75 61.31h0M373.38 61.34h0M374.41 61.48h0M374.43 60.64h0M373.74 62.84h0M373.79 66.90h0M374.55 65.72h0M373.77 60.13h0M374.05 83.07h0M374.00 72.17h0M375.61 60.22h0M375.90 87.44h0M374.86 82.70h0M374.75 60.77h0M374.77 79.33h0M376.19 66.10h0M375.15 64.46h0M375.71 87.82h0M376.38 64.55h0M375.95 69.93h0M376.07 73.42h0M376.36 82.09h0M377.19 67.23h0M377.21 73.67h0M378.04 82.31h0M377.17 63.70h0M377.14 87.85h0M377.50 63.25h0M377.16 65.38h0M378.13 64.88h0M378.20 73.05h0M377.90 80.18h0M378.75 76.95h0M378.89 66.55h0M378.59 61.02h0M378.48 76.26h0M378.87 79.79h0M379.31 64.56h0M378.81 75.92h0M379.68 61.99h0M380.34 69.33h0M378.98 63.47h0M380.10 61.99h0M378.93 86.30h0M380.09 62.86h0M379.11 67.59h0M380.27 74.82h0M380.98 72.98h0M381.26 63.34h0M381.14 67.94h0M381.51 76.07h0M380.62 70.56h0M380.90 69.15h0M380.30 68.31h0M380.62 53.83h0M381.71 64.98h0M381.55 78.32h0M381.60 75.72h0M380.87 80.77h0M381.79 62.76h0M381.71 64.30h0M381.56 64.31h0M381.83 71.82h0M382.60 85.07h0M381.56 66.79h0M382.65 87.13h0M383.03 75.57h0M382.03 65.79h0M383.48 84.71h0M382.22 81.68h0M382.51 66.57h0M383.61 80.96h0M382.70 67.41h0M383.32 68.72h0M384.08 74.15h0M383.52 79.49h0M383.21 74.87h0M383.82 82.19h0M383.44 63.67h0M384.59 66.10h0M384.03 63.89h0M384.61 82.78h0M384.47 66.28h0M385.11 78.82h0M384.75 63.46h0M384.84 79.66h0M384.84 67.45h0M386.27 80.08h0M386.28 67.64h0M386.44 87.62h0M385.30 65.91h0M386.18 65.66h0M386.08 78.88h0M386.42 67.95h0M386.54 74.87h0M385.91 68.45h0M387.34 64.81h0M386.93 65.88h0M387.01 72.57h0M386.99 86.97h0M387.17 77.41h0M388.45 79.18h0M387.66 85.70h0M388.58 78.94h0M388.73 64.39h0M389.02 73.09h0M388.57 67.08h0M389.17 75.61h0M388.65 85.26h0M389.70 65.45h0M388.68 68.41h0M389.89 66.86h0M389.76 84.23h0M389.64 72.00h0M390.29 77.76h0M389.09 67.97h0M389.83 74.12h0M390.77 65.53h0M390.34 77.92h0M390.52 77.63h0M390.66 68.56h0M390.14 66.13h0M390.12 75.72h0M390.76 74.87h0M392.16 69.72h0M391.53 66.08h0M392.03 71.07h0M392.47 82.19h0M392.18 64.58h0M391.81 64.31h0M392.39 65.24h0M392.76 71.42h0M392.39 86.93h0M392.90 63.28h0M393.07 73.38h0M393.42 56.64h0M392.89 72.35h0M393.23 67.73h0M393.86 62.49h0M394.61 65.40h0M394.55 74.50h0M394.52 79.04h0M395.03 86.32h0M394.98 72.66h0M395.72 61.81h0M395.96 73.08h0M395.79 66.81h0M397.07 63.16h0M396.89 74.19h0M396.49 76.31h0M396.58 71.46h0M396.12 61.69h0M396.88 62.52h0M396.91 75.74h0M396.30 72.04h0M396.99 75.93h0M396.98 57.61h0M397.81 80.56h0M398.02 76.50h0M398.47 73.52h0M397.23 81.33h0M397.88 85.10h0M398.67 60.82h0M397.93 69.86h0M397.51 83.38h0M398.18 73.77h0M397.85 68.76h0M398.39 72.89h0M398.85 69.82h0M398.60 72.27h0M400.01 70.40h0M399.96 65.71h0M399.70 68.05h0M399.59 82.00h0M399.47 73.72h0M400.74 83.59h0M401.51 61.25h0M401.01 83.93h0M401.62 79.61h0M402.22 55.14h0M402.37 73.38h0M401.87 68.01h0M401.33 61.75h0M402.01 84.75h0M401.65 64.50h0M402.12 64.93h0M402.82 87.70h0M401.84 62.81h0M402.19 84.78h0M401.87 82.14h0M402.49 72.15h0M402.79 71.48h0M402.90 64.38h0M403.47 69.51h0M402.70 84.35h0M404.51 68.93h0M403.77 69.13h0M404.62 62.78h0M403.35 82.74h0M403.97 81.74h0M403.47 73.23h0M404.65 62.44h0M404.20 60.41h0M404.14 80.40h0M405.32 75.25h0M405.36 84.23h0M404.77 60.67h0M405.41 66.63h0M405.22 74.56h0M405.45 61.46h0M405.43 59.20h0M405.66 62.71h0M405.80 70.27h0M405.40 58.87h0M406.20 57.72h0M406.58 60.84h0M406.88 58.18h0M406.46 73.12h0M406.65 64.64h0M405.85 57.67h0M406.23 87.90h0M406.17 81.38h0M406.68 73.44h0M406.65 60.68h0M407.91 82.87h0M406.93 70.31h0M407.53 60.17h0M407.73 86.00h0M408.78 60.29h0M408.25 74.16h0M408.32 63.22h0M409.83 62.33h0M409.79 59.81h0M409.03 59.31h0M409.97 87.91h0M408.78 58.62h0M409.98 84.24h0M410.22 67.50h0M409.44 68.06h0M409.03 64.30h0M409.67 58.22h0M409.39 62.10h0M409.22 73.16h0M409.70 59.18h0M409.39 67.08h0M410.20 59.41h0M409.83 84.39h0M410.79 61.84h0M409.63 60.76h0M411.06 79.74h0M410.87 60.50h0M411.41 59.77h0M410.32 64.49h0M410.41 60.19h0M411.47 62.51h0M411.39 67.95h0M411.52 79.23h0M411.96 69.66h0M411.26 59.11h0M411.06 70.26h0M412.08 61.73h0M412.41 64.90h0M412.86 63.66h0M413.16 61.65h0M412.47 60.55h0M412.33 65.08h0M412.46 65.01h0M412.32 62.40h0M412.31 63.09h0M413.11 72.26h0M414.09 75.19h0M414.17 61.48h0M414.03 62.70h0M414.29 68.63h0M413.06 79.49h0M413.05 60.31h0M413.86 57.91h0M414.71 60.90h0M414.49 73.34h0M413.85 66.56h0M415.02 61.26h0M414.80 69.08h0M415.19 60.73h0M414.13 87.94h0M414.74 85.12h0M415.91 62.54h0M416.24 63.45h0M415.45 83.97h0M416.42 73.27h0M416.51 62.20h0M416.56 76.71h0M417.00 67.85h0M416.69 62.86h0M416.69 61.13h0M416.66 64.88h0M416.51 64.87h0M416.49 72.85h0M416.55 85.38h0M416.79 68.24h0M416.40 79.40h0M417.11 81.55h0M417.50 81.28h0M416.53 64.42h0M417.31 62.02h0M416.86 68.42h0M417.33 67.21h0M418.47 57.10h0M417.39 73.99h0M418.30 68.16h0M418.15 61.38h0M418.32 82.37h0M418.08 63.71h0M418.39 79.44h0M418.38 63.68h0M419.45 81.22h0M420.37 65.30h0M420.34 69.85h0M419.41 82.37h0M419.59 87.83h0M420.84 75.23h0M419.90 81.49h0M421.10 61.49h0M421.55 65.32h0M421.78 65.32h0M421.14 61.64h0M420.76 86.55h0M420.89 87.52h0M422.12 66.42h0M421.59 87.05h0M421.92 61.45h0M421.63 66.42h0M422.42 75.45h0M422.75 85.69h0M423.49 63.13h0M423.58 59.87h0M422.66 75.35h0M422.56 85.34h0M422.71 65.47h0M423.10 61.74h0M423.95 69.38h0M424.62 71.84h0M423.84 82.18h0M425.75 85.91h0M424.84 62.83h0M424.89 58.75h0M425.43 87.84h0M425.77 64.08h0M425.85 59.40h0M424.96 63.36h0M425.52 61.06h0M425.58 86.27h0M425.95 64.73h0M425.56 66.69h0M426.92 62.62h0M426.58 64.84h0M426.64 57.99h0M426.82 60.29h0M427.34 71.33h0M427.09 66.47h0M427.39 63.99h0M427.40 79.47h0M427.07 63.19h0M427.09 62.23h0M427.27 61.05h0M427.40 72.67h0M427.90 59.36h0M429.05 70.72h0M428.27 66.38h0M428.04 69.37h0M428.21 62.01h0M428.14 57.93h0M429.51 61.83h0M429.35 68.44h0M428.79 59.36h0M428.74 87.20h0M429.23 57.21h0M429.30 71.31h0M429.23 57.87h0M430.32 61.40h0M429.95 56.96h0M430.53 87.52h0M431.13 85.35h0M430.51 59.33h0M431.20 71.21h0M430.62 59.12h0M431.27 59.07h0M431.67 69.23h0M431.68 66.76h0M433.02 59.37h0M432.23 82.79h0M432.27 57.04h0M433.50 64.77h0M433.37 66.89h0M432.96 64.66h0M433.22 69.86h0M433.25 79.59h0M433.49 70.20h0M434.05 68.03h0M434.32 57.23h0M434.78 57.33h0M435.21 69.64h0M433.91 67.13h0M433.98 59.00h0M435.80 85.40h0M435.65 63.73h0M435.27 61.35h0M436.00 87.31h0M435.84 65.24h0M434.97 59.86h0M435.56 86.60h0M436.03 71.95h0M435.89 60.06h0M435.89 72.36h0M436.38 65.31h0M436.61 67.14h0M436.64 59.45h0M436.40 60.69h0M437.16 73.38h0M437.53 83.52h0M437.29 65.44h0M436.61 80.44h0M437.66 59.30h0M437.31 83.31h0M438.03 72.24h0M437.52 71.84h0M437.70 56.81h0M437.80 61.59h0M438.41 67.07h0M437.94 59.64h0M438.48 69.32h0M439.31 58.88h0M438.58 67.17h0M438.53 71.02h0M439.37 58.70h0M438.98 70.24h0M439.18 63.65h0M438.97 60.63h0M439.47 63.83h0M440.29 69.67h0M439.62 68.05h0M440.07 64.79h0M440.25 58.77h0M439.55 78.53h0M440.73 67.09h0M439.80 60.20h0M440.72 80.63h0M440.39 63.67h0M441.48 82.18h0M441.03 71.49h0M441.19 60.42h0M442.15 62.32h0M441.45 60.59h0M441.73 67.27h0M441.89 63.06h0M443.16 63.03h0M443.19 60.60h0M442.41 74.73h0M442.43 62.14h0M443.20 61.15h0M442.96 60.32h0M443.69 60.47h0M443.75 81.82h0M444.17 61.06h0M445.05 73.88h0M445.07 70.49h0M444.49 74.88h0M443.98 61.26h0M445.42 60.92h0M445.43 75.28h0M445.05 62.91h0M445.27 81.83h0M444.94 66.19h0M445.25 65.53h0M445.94 66.51h0M447.37 75.78h0M447.31 64.31h0M447.76 63.83h0M447.46 87.53h0M447.81 86.38h0M448.44 71.06h0M447.32 68.95h0M447.99 65.81h0M447.87 68.88h0M448.93 82.43h0M448.11 66.72h0M448.75 71.62h0M449.28 81.71h0M450.15 64.33h0M450.25 85.57h0M451.02 84.55h0M449.82 60.41h0M450.21 76.09h0M450.70 63.17h0M451.27 64.45h0M450.64 71.25h0M451.24 83.10h0M450.61 78.51h0M451.09 59.99h0M451.55 67.41h0M452.02 78.47h0M452.46 64.17h0M452.25 60.54h0M452.66 73.41h0M452.76 59.42h0M452.79 72.62h0M452.46 67.23h0M452.27 62.61h0M453.28 64.24h0M453.12 59.13h0M452.87 84.06h0M453.63 74.40h0M454.13 59.90h0M453.17 59.15h0M454.53 65.13h0M454.47 59.22h0M454.49 72.57h0M454.97 65.18h0M455.22 60.34h0M454.22 78.75h0M455.23 85.80h0M455.08 79.24h0M455.50 89.15h0M455.07 80.79h0M455.48 87.05h0M456.03 78.70h0M455.51 81.48h0M456.89 70.58h0M456.26 83.55h0M455.96 84.89h0M457.20 77.36h0M456.24 73.93h0M456.62 67.86h0M456.56 92.31h0M456.72 71.69h0M458.49 85.83h0M457.39 66.50h0M457.59 72.89h0M457.79 78.60h0M458.04 82.02h0M459.33 82.42h0M459.04 92.48h0M458.36 83.72h0M458.33 81.44h0M459.72 77.13h0M458.41 81.37h0M459.95 92.59h0M460.49 88.94h0M459.29 83.56h0M460.43 77.56h0M460.50 84.16h0M460.47 86.08h0M460.68 89.31h0M461.22 85.80h0M461.10 90.41h0M460.91 75.91h0M460.73 73.35h0M461.08 82.23h0M461.79 80.17h0M461.40 90.38h0M461.09 81.56h0M461.62 85.05h0M460.83 83.04h0M462.18 88.27h0M461.03 86.45h0M461.45 73.16h0M461.10 85.29h0M462.40 72.68h0M461.61 79.86h0M462.52 74.33h0M463.21 76.35h0M462.54 65.60h0M462.93 92.26h0M462.50 81.60h0M462.63 86.56h0M462.58 78.30h0M462.81 76.54h0M463.53 78.37h0M463.90 80.41h0M463.78 80.47h0M464.33 82.35h0M464.42 87.44h0M464.03 87.22h0M464.91 83.29h0M464.16 74.16h0M464.17 78.82h0M464.10 80.31h0M465.03 73.95h0M465.63 82.28h0M465.50 84.88h0M465.79 85.70h0M464.76 74.71h0M465.07 79.01h0M465.91 84.74h0M464.76 87.03h0M465.42 84.18h0M465.80 81.76h0M465.72 83.09h0M465.64 78.25h0M466.02 75.48h0M466.45 78.38h0M466.98 82.52h0M467.88 79.45h0M468.20 79.68h0M468.48 83.30h0M468.69 75.46h0M468.38 84.54h0M468.79 79.70h0M468.57 78.25h0M469.29 86.83h0M469.59 80.23h0M468.29 73.20h0M468.59 74.18h0M468.68 81.67h0M468.70 80.66h0M469.27 88.62h0M470.02 75.03h0M469.67 72.78h0M470.41 92.53h0M470.72 89.83h0M470.27 85.74h0M470.19 84.46h0M471.08 87.75h0M470.48 92.16h0M470.58 86.74h0M471.08 84.98h0M470.93 77.79h0M471.22 76.21h0M472.00 73.72h0M472.13 73.74h0M472.74 86.02h0M471.66 84.66h0M472.39 80.15h0M473.19 80.80h0M472.96 90.31h0M472.57 81.35h0M472.89 82.50h0M472.30 81.59h0M473.23 79.17h0M473.46 76.92h0M472.46 88.73h0M473.49 90.47h0M473.11 86.71h0M473.24 86.64h0M473.41 77.70h0M472.83 79.60h0M473.08 82.47h0M475.03 74.23h0M473.74 82.61h0M474.48 84.29h0M474.78 85.77h0M475.12 78.51h0M474.96 90.87h0M475.08 87.84h0M476.05 74.11h0M476.44 92.12h0M475.04 87.93h0M475.30 74.05h0M475.25 79.43h0M475.26 79.02h0M475.68 80.23h0M476.43 85.18h0M476.78 73.01h0M477.16 89.96h0M477.78 91.56h0M478.00 86.64h0M477.82 91.49h0M477.89 77.70h0M477.34 82.93h0M477.18 83.97h0M478.74 88.06h0M478.03 81.03h0M478.33 84.44h0M478.81 84.75h0M479.52 75.08h0M479.26 84.93h0M479.36 89.25h0M479.96 82.80h0M479.88 90.94h0M479.51 82.04h0M480.71 72.67h0M479.95 85.85h0M480.36 78.08h0M481.26 79.84h0M480.65 83.96h0M481.41 88.02h0M481.39 91.49h0M481.21 77.23h0M481.03 90.16h0M481.53 78.59h0M481.27 78.82h0M482.75 73.48h0M482.50 81.08h0M482.46 85.33h0M481.92 90.16h0M482.56 73.54h0M482.34 77.82h0M481.78 80.79h0M483.47 78.32h0M482.54 73.38h0M482.54 80.97h0M483.39 85.05h0M483.22 78.45h0M483.99 83.60h0M484.06 77.38h0M483.23 89.00h0M483.71 79.72h0M484.75 87.56h0M484.70 79.93h0M484.07 81.84h0M485.27 86.49h0M485.60 89.14h0M485.78 74.96h0M485.54 79.28h0M486.44 79.91h0M485.03 82.49h0M486.65 79.40h0M487.36 91.92h0M487.84 82.20h0M487.17 88.07h0M487.08 82.26h0M487.00 76.54h0M487.04 82.47h0M488.25 92.09h0M487.97 79.19h0M488.06 84.42h0M487.99 79.67h0M487.60 73.47h0M488.43 74.26h0M487.81 76.19h0M488.19 74.49h0M488.64 82.83h0M488.46 86.01h0M488.66 91.42h0M488.17 85.27h0M488.52 82.96h0M488.44 85.81h0M489.83 79.45h0M489.29 79.83h0M489.46 92.69h0M489.76 83.80h0M489.38 86.04h0M489.78 83.42h0M489.16 84.05h0M490.43 81.45h0M490.85 90.69h0M490.52 76.77h0M490.59 91.22h0M491.12 85.67h0M490.25 88.25h0M490.92 83.97h0M491.01 91.93h0M490.40 81.69h0M491.45 85.86h0M490.52 85.57h0M492.16 86.24h0M490.76 82.69h0M492.73 83.40h0M491.91 84.52h0M492.13 72.62h0M492.26 85.41h0M492.01 79.75h0M491.86 79.62h0M492.59 73.83h0M492.72 79.46h0M492.23 91.35h0M493.22 58.36h0M492.49 64.49h0M492.76 52.37h0M494.43 50.41h0M494.22 62.24h0M494.77 69.88h0M493.77 52.96h0M493.83 56.01h0M495.28 67.94h0M495.54 50.34h0M494.84 55.47h0M495.44 62.01h0" stroke="#222" stroke-width="1.3" stroke-opacity="1.0" stroke-linecap="round" fill="none"/>
<path d="M365.00 65.29V38.70M367.00 65.29V55.12M367.03 65.29V14.22M369.06 65.29V15.14M371.06 65.29V56.82M371.10 65.29V13.45M373.13 65.29V13.45M375.13 65.29V56.00M375.16 65.29V15.10M377.19 65.29V24.31M379.19 65.29V55.91M379.22 65.29V29.41M381.25 65.29V29.14M383.25 65.29V52.84M383.29 65.29V32.02M385.32 65.29V36.79M387.32 65.29V53.99M387.35 65.29V38.74M389.38 65.29V37.50M391.38 65.29V55.79M391.41 65.29V41.74M393.44 65.29V43.21M395.44 65.29V57.59M395.48 65.29V43.82M397.51 65.29V45.66M399.51 65.29V54.29M399.54 65.29V46.76M401.57 65.29V46.72M403.57 65.29V54.37M403.60 65.29V48.94M405.63 65.29V45.68M407.63 65.29V54.96M407.67 65.29V39.02M409.70 65.29V41.28M411.70 65.29V56.11M411.73 65.29V30.53M413.76 65.29V31.33M415.76 65.29V57.78M415.79 65.29V32.20M417.83 65.29V31.30M419.83 65.29V57.37M419.86 65.29V30.66M421.89 65.29V34.93M423.89 65.29V56.36M423.92 65.29V34.61M425.95 65.29V33.89M427.95 65.29V56.46M427.98 65.29V36.22M430.02 65.29V34.22M432.02 65.29V56.67M432.05 65.29V33.72M434.08 65.29V31.83M436.08 65.29V57.00M436.11 65.29V32.55M438.14 65.29V35.54M440.14 65.29V58.58M440.17 65.29V38.22M442.21 65.29V37.83M444.21 65.29V56.84M444.24 65.29V38.09M446.27 65.29V35.67M448.27 65.29V58.04M448.30 65.29V33.36M450.33 65.29V36.52M452.33 65.29V59.59M452.37 65.29V38.90M454.40 78.25V39.40M456.40 78.25V60.03M456.43 78.25V41.41M458.46 78.25V43.62M460.46 78.25V63.44M460.49 78.25V43.40M462.52 78.25V46.00M464.52 78.25V68.89M464.56 78.25V45.49M466.59 78.25V43.51M468.59 78.25V73.84M468.62 78.25V43.28M470.65 78.25V41.17M472.65 78.25V72.78M472.68 78.25V43.60M474.71 78.25V41.65M476.71 78.25V71.33M476.75 78.25V39.02M478.78 78.25V42.16M480.78 78.25V66.32M480.81 78.25V42.75M482.84 78.25V47.67M484.84 78.25V61.24M484.87 78.25V48.04M486.90 78.25V47.85M488.90 78.25V61.28M488.94 78.25V47.62M490.97 78.25V49.72M492.97 78.25V63.79M493.00 78.25V52.43" stroke="#989898" stroke-width="1.1" stroke-opacity="1.0" fill="none"/>
<path d="M365.00 38.70h0M367.00 55.12h0M367.03 14.22h0M369.06 15.14h0M371.06 56.82h0M371.10 13.45h0M373.13 13.45h0M375.13 56.00h0M375.16 15.10h0M377.19 24.31h0M379.19 55.91h0M379.22 29.41h0M381.25 29.14h0M383.25 52.84h0M383.29 32.02h0M385.32 36.79h0M387.32 53.99h0M387.35 38.74h0M389.38 37.50h0M391.38 55.79h0M391.41 41.74h0M393.44 43.21h0M395.44 57.59h0M395.48 43.82h0M397.51 45.66h0M399.51 54.29h0M399.54 46.76h0M401.57 46.72h0M403.57 54.37h0M403.60 48.94h0M405.63 45.68h0M407.63 54.96h0M407.67 39.02h0M409.70 41.28h0M411.70 56.11h0M411.73 30.53h0M413.76 31.33h0M415.76 57.78h0M415.79 32.20h0M417.83 31.30h0M419.83 57.37h0M419.86 30.66h0M421.89 34.93h0M423.89 56.36h0M423.92 34.61h0M425.95 33.89h0M427.95 56.46h0M427.98 36.22h0M430.02 34.22h0M432.02 56.67h0M432.05 33.72h0M434.08 31.83h0M436.08 57.00h0M436.11 32.55h0M438.14 35.54h0M440.14 58.58h0M440.17 38.22h0M442.21 37.83h0M444.21 56.84h0M444.24 38.09h0M446.27 35.67h0M448.27 58.04h0M448.30 33.36h0M450.33 36.52h0M452.33 59.59h0M452.37 38.90h0M454.40 39.40h0M456.40 60.03h0M456.43 41.41h0M458.46 43.62h0M460.46 63.44h0M460.49 43.40h0M462.52 46.00h0M464.52 68.89h0M464.56 45.49h0M466.59 43.51h0M468.59 73.84h0M468.62 43.28h0M470.65 41.17h0M472.65 72.78h0M472.68 43.60h0M474.71 41.65h0M476.71 71.33h0M476.75 39.02h0M478.78 42.16h0M480.78 66.32h0M480.81 42.75h0M482.84 47.67h0M484.84 61.24h0M484.87 48.04h0M486.90 47.85h0M488.90 61.28h0M488.94 47.62h0M490.97 49.72h0M492.97 63.79h0M493.00 52.43h0" stroke="#222" stroke-width="1.7" stroke-opacity="1.0" stroke-linecap="round" fill="none"/>
<line x1="365.00" y1="94.45" x2="495.00" y2="94.45" stroke="#b71f27" stroke-width="1.8" stroke-linecap="square"/>
<line x1="365.00" y1="75.17" x2="495.00" y2="75.17" stroke="#3748a5" stroke-width="1.8" stroke-linecap="square"/>
<rect x="358.50" y="9.40" width="143.00" height="89.10" fill="none" stroke="#3a3a3a" stroke-width="0.8"/>
<text x="353.50" y="97.15" text-anchor="end" font-size="6.5" textLength="10.2" lengthAdjust="spacingAndGlyphs">0.0</text>
<text x="353.50" y="80.95" text-anchor="end" font-size="6.5" textLength="10.2" lengthAdjust="spacingAndGlyphs">0.2</text>
<text x="353.50" y="64.75" text-anchor="end" font-size="6.5" textLength="10.2" lengthAdjust="spacingAndGlyphs">0.4</text>
<text x="353.50" y="48.55" text-anchor="end" font-size="6.5" textLength="10.2" lengthAdjust="spacingAndGlyphs">0.6</text>
<text x="353.50" y="32.35" text-anchor="end" font-size="6.5" textLength="10.2" lengthAdjust="spacingAndGlyphs">0.8</text>
<text x="353.50" y="16.15" text-anchor="end" font-size="6.5" textLength="10.2" lengthAdjust="spacingAndGlyphs">1.0</text>
<text x="365.00" y="108.60" text-anchor="middle" font-size="6.5" textLength="4.07" lengthAdjust="spacingAndGlyphs">0</text>
<text x="396.75" y="108.60" text-anchor="middle" font-size="6.5" textLength="16.28" lengthAdjust="spacingAndGlyphs">1000</text>
<text x="428.49" y="108.60" text-anchor="middle" font-size="6.5" textLength="16.28" lengthAdjust="spacingAndGlyphs">2000</text>
<text x="460.24" y="108.60" text-anchor="middle" font-size="6.5" textLength="16.28" lengthAdjust="spacingAndGlyphs">3000</text>
<text x="491.98" y="108.60" text-anchor="middle" font-size="6.5" textLength="16.28" lengthAdjust="spacingAndGlyphs">4000</text>
<path d="M358.50 94.45h-2.4M358.50 78.25h-2.4M358.50 62.05h-2.4M358.50 45.85h-2.4M358.50 29.65h-2.4M358.50 13.45h-2.4M365.00 98.50v2.4M396.75 98.50v2.4M428.49 98.50v2.4M460.24 98.50v2.4M491.98 98.50v2.4" stroke="#3a3a3a" stroke-width="0.8" fill="none"/>
<text x="430.00" y="6.00" text-anchor="middle" font-size="8.6" textLength="27.8" lengthAdjust="spacingAndGlyphs" style="stroke-width:0.2px">Conv 1</text>
<path d="M530.86 94.37V78.26M530.99 94.37V90.35M531.11 94.37V66.18M531.24 94.37V58.13M531.36 94.37V59.33M531.49 94.37V67.69M531.62 94.37V66.64M531.74 94.37V59.95M531.87 94.37V66.47M532.00 94.37V51.17M532.12 94.37V52.88M532.25 94.37V49.40M532.37 94.37V68.55M532.50 94.37V60.73M532.63 94.37V52.53M532.75 94.37V54.95M532.88 94.37V69.62M533.01 94.37V61.52M533.13 94.37V65.05M533.26 94.37V62.63M533.38 94.37V48.96M533.51 94.37V49.38M533.64 94.37V65.82M533.76 94.37V69.81M533.89 94.37V65.56M534.02 94.37V63.79M534.14 94.37V53.95M534.27 94.37V67.09M534.39 94.37V48.48M534.52 94.37V53.66M534.65 94.37V50.69M534.77 94.37V49.73M535.03 94.37V50.39M535.15 94.37V55.72M535.28 94.37V51.64M535.41 94.37V46.79M535.53 94.37V45.01M535.66 94.37V49.85M535.78 94.37V44.90M535.91 94.37V48.74M536.04 94.37V46.49M536.16 94.37V55.97M536.29 94.37V60.04M537.30 94.37V55.83M537.43 94.37V52.37M537.55 94.37V53.32M537.68 94.37V51.40M537.80 94.37V55.00M537.93 94.37V52.81M538.06 94.37V54.76M538.18 94.37V49.38M538.31 94.37V54.93M538.44 94.37V51.58M538.56 94.37V53.60M538.69 94.37V60.31M539.07 94.37V68.23M539.19 94.37V54.08M539.32 94.37V52.05M539.45 94.37V47.03M539.57 94.37V44.96M539.70 94.37V44.41M539.82 94.37V51.13M539.95 94.37V44.93M540.08 94.37V45.99M540.20 94.37V43.36M540.33 94.37V48.10M540.46 94.37V45.14M541.47 94.37V56.60M541.59 94.37V41.64M541.72 94.37V40.11M541.85 94.37V51.20M541.97 94.37V50.50M542.10 94.37V47.31M542.22 94.37V40.49M542.35 94.37V48.37M542.48 94.37V39.56M542.60 94.37V57.73M542.73 94.37V57.95M543.11 94.37V67.33M543.23 94.37V45.53M543.36 94.37V40.52M543.49 94.37V51.84M543.61 94.37V41.29M543.74 94.37V41.37M543.87 94.37V35.58M543.99 94.37V46.74M544.12 94.37V49.33M545.13 94.37V44.65M545.25 94.37V49.22M545.38 94.37V47.24M545.51 94.37V36.67M545.63 94.37V50.18M545.76 94.37V42.97M545.89 94.37V44.80M546.01 94.37V40.47M546.14 94.37V36.81M546.26 94.37V46.92M546.39 94.37V46.40M546.52 94.37V42.29M546.64 94.37V35.37M546.77 94.37V35.82M547.15 94.37V54.49M547.28 94.37V51.86M547.40 94.37V38.12M547.53 94.37V48.24M547.65 94.37V33.79M547.78 94.37V35.76M547.91 94.37V33.34M548.03 94.37V46.67M549.04 94.37V54.45M549.17 94.37V45.01M549.30 94.37V43.91M549.42 94.37V57.98M549.55 94.37V34.51M549.67 94.37V40.13M549.80 94.37V43.68M549.93 94.37V55.10M550.05 94.37V47.86M550.18 94.37V57.06M550.31 94.37V53.19M550.43 94.37V59.14M550.56 94.37V44.77M550.68 94.37V46.77M550.81 94.37V47.64M551.19 94.37V68.47M551.32 94.37V47.53M551.44 94.37V41.16M551.57 94.37V39.70M551.69 94.37V59.06M551.82 94.37V45.01M551.95 94.37V42.16M552.07 94.37V47.57M552.20 94.37V40.51M552.33 94.37V44.75M552.45 94.37V60.23M552.58 94.37V37.27M552.71 94.37V43.50M553.72 94.37V33.00M553.84 94.37V39.64M553.97 94.37V47.36M554.09 94.37V49.14M554.22 94.37V45.11M554.35 94.37V38.49M554.47 94.37V45.61M554.60 94.37V54.12M554.73 94.37V41.74M554.85 94.37V45.54M555.23 94.37V56.68M555.36 94.37V55.98M555.48 94.37V41.25M555.61 94.37V42.96M555.74 94.37V42.72M555.86 94.37V39.60M555.99 94.37V55.24M556.11 94.37V41.99M556.24 94.37V54.30M556.37 94.37V38.76M556.49 94.37V43.03M556.62 94.37V47.37M556.75 94.37V38.36M556.87 94.37V38.00M557.00 94.37V39.83M557.12 94.37V32.25M557.25 94.37V44.88M557.38 94.37V41.83M557.50 94.37V37.78M557.63 94.37V36.51M558.64 94.37V45.42M558.77 94.37V38.18M558.89 94.37V38.88M559.27 94.37V56.77M559.40 94.37V31.58M559.52 94.37V46.80M559.65 94.37V31.97M559.78 94.37V34.12M559.90 94.37V32.62M560.03 94.37V37.46M560.16 94.37V42.12M560.28 94.37V44.71M560.41 94.37V38.49M560.53 94.37V38.08M560.66 94.37V46.47M560.79 94.37V35.14M560.91 94.37V45.38M561.04 94.37V36.33M561.17 94.37V46.15M562.18 94.37V37.00M562.30 94.37V31.64M562.43 94.37V49.05M562.55 94.37V48.20M562.68 94.37V34.59M562.81 94.37V57.05M562.93 94.37V44.04M563.31 94.37V57.34M563.44 94.37V47.02M563.56 94.37V43.68M563.69 94.37V34.66M563.82 94.37V30.22M563.94 94.37V30.53M564.07 94.37V33.79M564.20 94.37V31.74M564.32 94.37V32.00M564.45 94.37V50.77M564.58 94.37V42.75M565.59 94.37V30.51M565.71 94.37V34.44M565.84 94.37V58.92M565.96 94.37V30.98M566.09 94.37V45.69M566.22 94.37V33.53M566.34 94.37V31.89M566.47 94.37V40.29M566.60 94.37V38.71M566.72 94.37V51.62M566.85 94.37V37.60M566.97 94.37V44.31M567.35 94.37V68.82M567.48 94.37V40.68M567.61 94.37V38.00M567.73 94.37V45.04M567.86 94.37V33.32M567.98 94.37V48.38M568.11 94.37V31.46M568.24 94.37V46.95M568.36 94.37V41.12M568.49 94.37V38.06M568.62 94.37V36.33M569.63 94.37V41.27M569.75 94.37V36.17M569.88 94.37V40.14M570.01 94.37V30.32M570.13 94.37V30.47M570.26 94.37V33.81M570.38 94.37V36.60M570.51 94.37V44.22M570.64 94.37V28.68M570.76 94.37V29.31M570.89 94.37V30.19M571.02 94.37V28.61M571.39 94.37V68.76M571.52 94.37V32.89M571.65 94.37V29.55M571.77 94.37V28.50M571.90 94.37V40.07M572.03 94.37V40.20M572.15 94.37V30.79M572.28 94.37V40.53M573.29 94.37V28.40M573.41 94.37V29.72M573.54 94.37V41.93M573.67 94.37V33.63M573.79 94.37V32.54M573.92 94.37V29.42M574.05 94.37V28.29M574.17 94.37V34.81M574.30 94.37V51.15M574.42 94.37V34.12M574.55 94.37V33.66M574.68 94.37V50.72M574.80 94.37V54.84M574.93 94.37V43.96M575.06 94.37V40.98M575.44 94.37V57.03M575.56 94.37V30.86M575.69 94.37V29.35M575.81 94.37V36.30M575.94 94.37V42.94M576.07 94.37V29.31M576.19 94.37V29.18M576.32 94.37V43.31M576.45 94.37V49.03M576.57 94.37V51.82M577.58 94.37V51.89M577.71 94.37V35.14M577.83 94.37V54.64M577.96 94.37V37.48M578.09 94.37V29.73M578.21 94.37V49.47M578.34 94.37V47.46M578.47 94.37V50.89M578.59 94.37V46.18M578.72 94.37V42.24M578.84 94.37V49.81M578.97 94.37V28.36M579.10 94.37V34.92M579.48 94.37V68.46M579.60 94.37V42.18M579.73 94.37V38.26M579.85 94.37V27.35M579.98 94.37V48.63M580.11 94.37V42.33M580.23 94.37V51.26M580.36 94.37V32.02M580.49 94.37V35.63M580.61 94.37V27.68M580.74 94.37V41.61M580.86 94.37V51.19M580.99 94.37V29.73M582.00 94.37V45.98M582.13 94.37V57.43M582.25 94.37V58.29M582.38 94.37V48.48M582.51 94.37V44.69M582.63 94.37V38.43M582.76 94.37V55.49M582.89 94.37V33.88M583.01 94.37V35.88M583.14 94.37V35.93M583.52 94.37V50.91M583.64 94.37V29.42M583.77 94.37V26.74M583.90 94.37V39.90M584.02 94.37V35.53M584.15 94.37V30.19M584.27 94.37V30.45M584.40 94.37V30.41M584.53 94.37V28.70M584.65 94.37V32.60M584.78 94.37V33.85M585.79 94.37V36.81M585.92 94.37V35.67M586.04 94.37V42.33M586.17 94.37V41.41M586.29 94.37V52.85M586.42 94.37V30.96M586.55 94.37V57.83M586.67 94.37V25.31M586.80 94.37V54.24M586.93 94.37V28.16M587.05 94.37V40.77M587.18 94.37V32.64M587.56 94.37V62.16M587.68 94.37V24.97M587.81 94.37V24.50M587.94 94.37V25.03M588.06 94.37V38.93M588.19 94.37V31.61M588.32 94.37V39.01M588.44 94.37V38.57M588.57 94.37V25.09M588.69 94.37V44.52M588.82 94.37V30.30M588.95 94.37V38.70M589.07 94.37V30.21M589.20 94.37V26.78M589.33 94.37V49.10M589.45 94.37V30.71M589.58 94.37V47.34M589.70 94.37V52.18M589.83 94.37V40.46M589.96 94.37V30.34M590.97 94.37V29.80M591.09 94.37V55.03M591.22 94.37V39.80M591.60 94.37V59.87M591.72 94.37V18.52M591.85 94.37V30.64M591.98 94.37V48.87M592.10 94.37V32.71M592.23 94.37V26.75M592.36 94.37V34.37M592.48 94.37V19.61M592.61 94.37V30.83M592.74 94.37V44.84M592.86 94.37V26.07M592.99 94.37V31.32M593.11 94.37V23.50M593.24 94.37V30.77M593.37 94.37V49.95M593.49 94.37V33.82M593.62 94.37V18.03M594.63 94.37V30.90M594.76 94.37V23.19M594.88 94.37V36.87M595.01 94.37V23.64M595.13 94.37V36.64M595.26 94.37V24.09M595.64 94.37V63.46M595.77 94.37V53.43M595.89 94.37V24.06M596.02 94.37V24.38M596.14 94.37V27.14M596.27 94.37V22.92M596.40 94.37V23.69M596.52 94.37V21.25M596.65 94.37V35.71M596.78 94.37V25.12M596.90 94.37V25.60M597.03 94.37V28.32M597.15 94.37V45.67M597.28 94.37V18.09M597.41 94.37V22.28M597.53 94.37V57.51M597.66 94.37V19.32M597.79 94.37V19.11M598.80 94.37V34.35M598.92 94.37V18.86M599.05 94.37V29.63M599.18 94.37V31.12M599.30 94.37V18.80M599.68 94.37V65.92M599.81 94.37V30.64M599.93 94.37V54.05M600.06 94.37V54.70M600.19 94.37V32.76M600.31 94.37V26.32M600.44 94.37V51.10M600.56 94.37V46.80M600.69 94.37V28.42M600.82 94.37V48.37M600.94 94.37V26.56M601.07 94.37V34.68M601.20 94.37V27.56M601.32 94.37V30.18M601.45 94.37V48.17M601.57 94.37V23.17M602.58 94.37V18.08M602.71 94.37V18.64M602.84 94.37V22.36M602.96 94.37V16.01M603.09 94.37V29.86M603.22 94.37V24.30M603.34 94.37V49.30M603.72 94.37V51.45M603.85 94.37V36.06M603.97 94.37V34.56M604.10 94.37V26.51M604.23 94.37V60.43M604.35 94.37V35.85M604.48 94.37V26.65M604.61 94.37V30.16M605.62 94.37V54.98M605.74 94.37V58.37M605.87 94.37V26.70M605.99 94.37V22.92M606.12 94.37V24.02M606.25 94.37V32.61M606.37 94.37V51.36M606.50 94.37V46.66M606.63 94.37V33.00M606.75 94.37V37.69M606.88 94.37V22.71M607.00 94.37V28.88M607.13 94.37V50.24M607.26 94.37V19.89M607.38 94.37V32.40M607.76 94.37V62.31M607.89 94.37V40.19M608.01 94.37V30.83M608.14 94.37V37.12M608.27 94.37V28.50M608.39 94.37V30.55M608.52 94.37V35.17M608.65 94.37V32.49M608.77 94.37V37.26M608.90 94.37V33.05M609.02 94.37V34.78M609.15 94.37V32.01M609.28 94.37V23.15M610.29 94.37V24.12M610.41 94.37V23.68M610.54 94.37V52.20M610.67 94.37V34.41M610.79 94.37V38.14M610.92 94.37V40.54M611.05 94.37V38.08M611.17 94.37V53.29M611.30 94.37V36.55M611.42 94.37V39.97M611.80 94.37V53.26M611.93 94.37V45.81M612.06 94.37V28.03M612.18 94.37V25.24M612.31 94.37V31.45M612.43 94.37V39.03M612.56 94.37V29.27M612.69 94.37V46.76M613.70 94.37V31.26M613.82 94.37V60.45M613.95 94.37V29.07M614.08 94.37V27.11M614.20 94.37V30.33M614.33 94.37V25.78M614.45 94.37V34.99M614.58 94.37V36.95M614.71 94.37V32.92M614.83 94.37V24.76M614.96 94.37V48.89M615.09 94.37V38.62M615.21 94.37V40.79M615.34 94.37V41.45M615.46 94.37V35.50M615.84 94.37V65.13M615.97 94.37V39.90M616.10 94.37V26.75M616.22 94.37V29.24M616.35 94.37V26.19M616.48 94.37V53.96M616.60 94.37V28.83M616.73 94.37V32.80M616.85 94.37V45.85M616.98 94.37V53.64M617.11 94.37V36.82M617.23 94.37V32.70M617.36 94.37V25.46M617.49 94.37V36.58M617.61 94.37V28.11M617.74 94.37V38.91M617.86 94.37V34.38M618.87 94.37V33.11M619.00 94.37V26.72M619.13 94.37V25.58M619.25 94.37V29.05M619.38 94.37V29.96M619.51 94.37V42.77M619.88 94.37V65.83M620.01 94.37V39.20M620.14 94.37V28.49M620.26 94.37V27.26M620.39 94.37V30.34M620.52 94.37V25.84M620.64 94.37V26.68M620.77 94.37V26.93M620.89 94.37V29.82M621.91 94.37V40.80M622.03 94.37V29.49M622.16 94.37V57.64M622.28 94.37V60.12M622.41 94.37V31.08M622.54 94.37V35.55M622.66 94.37V33.85M622.79 94.37V39.51M622.92 94.37V32.92M623.04 94.37V40.73M623.17 94.37V39.89M623.29 94.37V55.86M623.42 94.37V42.34M623.55 94.37V25.13M623.93 94.37V61.80M624.05 94.37V28.71M624.18 94.37V35.65M624.30 94.37V38.59M624.43 94.37V43.88M624.56 94.37V41.58M624.68 94.37V40.56M625.69 94.37V38.13M625.82 94.37V36.33M625.95 94.37V35.36M626.07 94.37V31.67M626.20 94.37V52.90M626.32 94.37V31.71M626.45 94.37V30.34M626.58 94.37V29.23M626.70 94.37V33.11M626.83 94.37V30.86M626.96 94.37V34.25M627.08 94.37V31.28M627.21 94.37V41.74M627.34 94.37V48.66M627.46 94.37V39.03M627.59 94.37V40.41M627.97 94.37V55.15M628.09 94.37V34.61M628.22 94.37V43.18M628.35 94.37V30.28M628.47 94.37V43.24M628.60 94.37V43.72M628.72 94.37V34.62M628.85 94.37V39.41M628.98 94.37V44.23M629.10 94.37V30.79M629.23 94.37V46.29M629.36 94.37V38.47M630.37 94.37V44.53M630.49 94.37V43.13M630.62 94.37V49.95M630.74 94.37V43.13M630.87 94.37V46.72M631.00 94.37V38.89M631.12 94.37V37.21M631.25 94.37V45.99M631.38 94.37V38.74M631.50 94.37V59.63M631.63 94.37V42.14M632.01 94.37V57.53M632.13 94.37V42.57M632.26 94.37V46.57M632.39 94.37V41.35M632.51 94.37V47.31M632.64 94.37V56.85M632.76 94.37V47.94M632.89 94.37V45.81M633.02 94.37V41.37M633.14 94.37V43.85M633.27 94.37V51.57M633.40 94.37V49.36M633.52 94.37V39.13M633.65 94.37V36.89M633.78 94.37V44.63M633.90 94.37V46.59M634.03 94.37V52.72M634.15 94.37V40.26M634.28 94.37V45.74M634.41 94.37V46.55M635.42 94.37V54.33M635.54 94.37V36.41M635.67 94.37V39.19M636.05 94.37V52.42M636.17 94.37V35.37M636.30 94.37V40.01M636.43 94.37V40.74M636.55 94.37V43.13M636.68 94.37V40.02M636.81 94.37V39.60M636.93 94.37V33.72M637.06 94.37V47.47M637.18 94.37V40.20M637.31 94.37V38.75M637.44 94.37V42.67M637.56 94.37V33.75M637.69 94.37V51.33M637.82 94.37V47.39M637.94 94.37V40.27M638.07 94.37V37.78M638.19 94.37V36.85M638.32 94.37V44.02M638.45 94.37V51.22M639.46 94.37V40.36M639.58 94.37V48.78M639.71 94.37V54.87M640.09 94.37V50.59M640.22 94.37V36.44M640.34 94.37V40.11M640.47 94.37V48.03M640.59 94.37V36.27M640.72 94.37V35.50M640.85 94.37V49.98M640.97 94.37V58.73M641.98 94.37V42.35M642.11 94.37V43.62M642.24 94.37V35.77M642.36 94.37V40.45M642.49 94.37V38.20M642.61 94.37V34.89M642.74 94.37V44.97M642.87 94.37V37.00M642.99 94.37V35.90M643.12 94.37V35.65M643.25 94.37V38.12M643.37 94.37V46.75M643.50 94.37V49.34M643.62 94.37V37.14M643.75 94.37V45.02M644.13 94.37V60.93M644.26 94.37V48.59M644.38 94.37V38.43M644.51 94.37V45.48M644.64 94.37V49.80M644.76 94.37V49.29M644.89 94.37V45.17M645.01 94.37V47.38M645.14 94.37V52.59M645.27 94.37V43.58M645.39 94.37V49.91M646.40 94.37V47.33M646.53 94.37V57.03M646.66 94.37V43.31M646.78 94.37V38.11M646.91 94.37V39.05M647.03 94.37V50.15M647.16 94.37V43.55M647.29 94.37V40.49M647.41 94.37V43.04M647.54 94.37V50.15M647.67 94.37V49.88M647.79 94.37V39.64M648.17 94.37V56.98M648.30 94.37V38.91M648.42 94.37V54.25M648.55 94.37V40.77M648.68 94.37V49.38M648.80 94.37V51.73M648.93 94.37V42.64M649.05 94.37V47.23M649.18 94.37V51.00M650.19 94.37V40.80M650.32 94.37V37.82M650.44 94.37V38.54M650.57 94.37V51.68M650.70 94.37V39.44M650.82 94.37V41.54M650.95 94.37V38.09M651.08 94.37V52.82M651.20 94.37V46.70M651.33 94.37V47.06M651.45 94.37V40.02M651.58 94.37V57.37M651.71 94.37V42.47M651.83 94.37V40.80M652.21 94.37V62.76M652.34 94.37V53.06M652.46 94.37V47.46M652.59 94.37V42.45M652.72 94.37V42.20M652.84 94.37V52.04M652.97 94.37V48.03M653.10 94.37V44.38M653.22 94.37V49.43M653.35 94.37V47.12M653.47 94.37V44.19M653.60 94.37V41.63M653.73 94.37V58.71M653.85 94.37V44.87M653.98 94.37V43.08M654.11 94.37V41.32M654.23 94.37V44.99M655.24 94.37V41.66M655.37 94.37V49.41M655.49 94.37V40.91M655.62 94.37V50.53M655.75 94.37V52.59M655.87 94.37V46.78M656.13 94.37V48.86M656.25 94.37V50.22M656.38 94.37V49.72M656.51 94.37V53.35M656.63 94.37V59.97M656.76 94.37V49.91M656.88 94.37V54.96M657.01 94.37V56.84M657.14 94.37V57.01M657.26 94.37V51.69M657.39 94.37V61.67M657.52 94.37V61.32M657.64 94.37V63.88M657.77 94.37V67.06M657.89 94.37V65.50M658.02 94.37V62.74M658.15 94.37V64.35M658.27 94.37V66.61M658.40 94.37V66.16M658.53 94.37V69.31M658.65 94.37V64.45M658.78 94.37V68.72M658.90 94.37V68.95M659.03 94.37V66.11M659.16 94.37V73.23M659.28 94.37V73.44M659.41 94.37V72.04M659.54 94.37V74.66M659.66 94.37V74.30M659.79 94.37V78.09M659.91 94.37V79.68M660.04 94.37V77.19" stroke="#989898" stroke-width="0.6" stroke-opacity="1.0" fill="none"/>
<path d="M530.86 78.26h0M530.99 90.35h0M531.36 59.33h0M531.74 59.95h0M532.00 51.17h0M532.88 69.62h0M533.26 62.63h0M533.38 48.96h0M533.64 65.82h0M533.76 69.81h0M534.39 48.48h0M534.65 50.69h0M534.77 49.73h0M535.28 51.64h0M535.53 45.01h0M535.91 48.74h0M537.80 55.00h0M538.31 54.93h0M538.56 53.60h0M539.07 68.23h0M539.57 44.96h0M539.70 44.41h0M540.33 48.10h0M541.47 56.60h0M542.35 48.37h0M542.48 39.56h0M542.60 57.73h0M542.73 57.95h0M543.11 67.33h0M543.36 40.52h0M543.49 51.84h0M544.12 49.33h0M545.38 47.24h0M545.63 50.18h0M546.39 46.40h0M546.64 35.37h0M547.53 48.24h0M547.78 35.76h0M549.42 57.98h0M549.55 34.51h0M549.80 43.68h0M551.32 47.53h0M551.57 39.70h0M551.69 59.06h0M551.95 42.16h0M552.33 44.75h0M553.72 33.00h0M553.84 39.64h0M554.35 38.49h0M554.47 45.61h0M554.73 41.74h0M554.85 45.54h0M555.23 56.68h0M555.36 55.98h0M555.48 41.25h0M555.86 39.60h0M556.49 43.03h0M556.87 38.00h0M557.12 32.25h0M557.63 36.51h0M558.64 45.42h0M559.27 56.77h0M559.65 31.97h0M559.90 32.62h0M560.03 37.46h0M560.66 46.47h0M562.18 37.00h0M562.30 31.64h0M563.82 30.22h0M564.45 50.77h0M566.09 45.69h0M566.34 31.89h0M566.85 37.60h0M566.97 44.31h0M567.61 38.00h0M567.98 48.38h0M568.49 38.06h0M570.01 30.32h0M570.26 33.81h0M570.51 44.22h0M571.02 28.61h0M571.65 29.55h0M573.41 29.72h0M574.05 28.29h0M574.42 34.12h0M574.55 33.66h0M574.68 50.72h0M575.06 40.98h0M575.44 57.03h0M575.56 30.86h0M576.07 29.31h0M578.09 29.73h0M578.59 46.18h0M578.84 49.81h0M578.97 28.36h0M579.10 34.92h0M580.36 32.02h0M580.49 35.63h0M582.38 48.48h0M582.51 44.69h0M582.76 55.49h0M583.14 35.93h0M583.52 50.91h0M583.77 26.74h0M584.27 30.45h0M584.53 28.70h0M584.78 33.85h0M585.92 35.67h0M586.55 57.83h0M586.93 28.16h0M587.56 62.16h0M587.68 24.97h0M587.94 25.03h0M588.06 38.93h0M588.19 31.61h0M588.32 39.01h0M588.95 38.70h0M589.07 30.21h0M589.20 26.78h0M589.33 49.10h0M589.70 52.18h0M589.83 40.46h0M591.09 55.03h0M591.22 39.80h0M592.23 26.75h0M592.86 26.07h0M593.11 23.50h0M594.63 30.90h0M594.88 36.87h0M595.01 23.64h0M595.26 24.09h0M595.64 63.46h0M595.77 53.43h0M596.02 24.38h0M596.14 27.14h0M596.52 21.25h0M596.65 35.71h0M597.66 19.32h0M597.79 19.11h0M599.30 18.80h0M599.68 65.92h0M599.81 30.64h0M599.93 54.05h0M600.06 54.70h0M600.31 26.32h0M600.44 51.10h0M600.82 48.37h0M601.20 27.56h0M601.32 30.18h0M602.58 18.08h0M603.09 29.86h0M603.34 49.30h0M603.72 51.45h0M603.85 36.06h0M603.97 34.56h0M604.23 60.43h0M604.61 30.16h0M605.62 54.98h0M605.74 58.37h0M605.99 22.92h0M606.25 32.61h0M607.89 40.19h0M608.01 30.83h0M608.14 37.12h0M608.27 28.50h0M608.77 37.26h0M609.15 32.01h0M610.29 24.12h0M610.41 23.68h0M610.67 34.41h0M610.79 38.14h0M611.30 36.55h0M611.42 39.97h0M611.93 45.81h0M612.06 28.03h0M612.18 25.24h0M612.31 31.45h0M612.56 29.27h0M613.95 29.07h0M614.20 30.33h0M614.45 34.99h0M614.96 48.89h0M615.34 41.45h0M615.84 65.13h0M615.97 39.90h0M616.22 29.24h0M616.48 53.96h0M617.61 28.11h0M617.74 38.91h0M617.86 34.38h0M618.87 33.11h0M619.38 29.96h0M620.14 28.49h0M620.52 25.84h0M620.77 26.93h0M620.89 29.82h0M622.03 29.49h0M622.28 60.12h0M622.41 31.08h0M622.66 33.85h0M622.79 39.51h0M623.04 40.73h0M623.17 39.89h0M623.42 42.34h0M623.93 61.80h0M624.05 28.71h0M625.69 38.13h0M625.95 35.36h0M626.07 31.67h0M626.32 31.71h0M628.22 43.18h0M628.60 43.72h0M628.72 34.62h0M628.85 39.41h0M630.49 43.13h0M631.00 38.89h0M631.25 45.99h0M632.13 42.57h0M632.39 41.35h0M632.51 47.31h0M632.64 56.85h0M632.76 47.94h0M633.02 41.37h0M633.14 43.85h0M633.27 51.57h0M633.78 44.63h0M633.90 46.59h0M636.05 52.42h0M636.30 40.01h0M636.55 43.13h0M636.81 39.60h0M637.06 47.47h0M637.18 40.20h0M637.69 51.33h0M637.94 40.27h0M638.07 37.78h0M638.45 51.22h0M639.71 54.87h0M640.09 50.59h0M640.22 36.44h0M640.72 35.50h0M640.85 49.98h0M640.97 58.73h0M642.24 35.77h0M642.49 38.20h0M642.61 34.89h0M642.74 44.97h0M643.25 38.12h0M643.50 49.34h0M643.75 45.02h0M644.13 60.93h0M644.26 48.59h0M644.64 49.80h0M645.01 47.38h0M645.14 52.59h0M645.27 43.58h0M646.40 47.33h0M646.53 57.03h0M646.66 43.31h0M646.91 39.05h0M647.67 49.88h0M647.79 39.64h0M648.42 54.25h0M648.55 40.77h0M648.68 49.38h0M650.44 38.54h0M650.57 51.68h0M651.45 40.02h0M651.58 57.37h0M651.83 40.80h0M652.21 62.76h0M652.34 53.06h0M653.47 44.19h0M653.60 41.63h0M653.85 44.87h0M655.24 41.66h0M655.37 49.41h0M655.49 40.91h0M655.87 46.78h0M656.13 48.86h0M656.25 50.22h0M656.51 53.35h0M656.76 49.91h0M657.64 63.88h0M657.77 67.06h0M658.02 62.74h0M658.27 66.61h0M658.78 68.72h0M658.90 68.95h0M659.41 72.04h0M659.54 74.66h0M659.66 74.30h0M660.04 77.19h0" stroke="#222" stroke-width="1.7" stroke-opacity="1.0" stroke-linecap="round" fill="none"/>
<path d="M534.90 94.37V65.08M536.42 94.37V58.60M536.54 94.37V57.33M536.67 94.37V52.94M536.79 94.37V52.45M536.92 94.37V52.45M537.05 94.37V46.71M537.17 94.37V44.20M538.81 94.37V80.15M538.94 94.37V62.53M540.58 94.37V60.66M540.71 94.37V55.30M540.84 94.37V52.58M540.96 94.37V48.43M541.09 94.37V43.55M541.21 94.37V40.74M541.34 94.37V37.25M542.86 94.37V77.18M542.98 94.37V60.58M544.24 94.37V56.51M544.37 94.37V54.77M544.50 94.37V52.07M544.62 94.37V44.49M544.75 94.37V41.23M544.88 94.37V40.13M545.00 94.37V33.08M546.90 94.37V75.61M547.02 94.37V58.84M548.16 94.37V54.75M548.29 94.37V51.09M548.41 94.37V48.78M548.54 94.37V44.47M548.66 94.37V44.14M548.79 94.37V38.49M548.92 94.37V33.43M550.94 94.37V75.63M551.06 94.37V59.64M552.83 94.37V58.15M552.96 94.37V53.42M553.08 94.37V46.81M553.21 94.37V42.92M553.34 94.37V41.22M553.46 94.37V35.22M553.59 94.37V31.93M554.98 94.37V73.29M555.10 94.37V59.27M557.76 94.37V60.41M557.88 94.37V53.74M558.01 94.37V52.86M558.14 94.37V47.11M558.26 94.37V40.86M558.39 94.37V35.26M558.51 94.37V30.35M559.02 94.37V70.75M559.15 94.37V57.98M561.29 94.37V62.78M561.42 94.37V53.13M561.54 94.37V49.57M561.67 94.37V46.53M561.80 94.37V39.56M561.92 94.37V35.55M562.05 94.37V27.25M563.06 94.37V71.63M563.19 94.37V60.62M564.70 94.37V58.74M564.83 94.37V55.81M564.95 94.37V49.31M565.08 94.37V44.73M565.21 94.37V38.34M565.33 94.37V32.41M565.46 94.37V30.14M567.10 94.37V74.33M567.23 94.37V62.34M568.74 94.37V58.60M568.87 94.37V55.15M568.99 94.37V49.38M569.12 94.37V45.47M569.25 94.37V37.50M569.37 94.37V36.22M569.50 94.37V26.89M571.14 94.37V70.04M571.27 94.37V61.16M572.40 94.37V59.18M572.53 94.37V52.49M572.66 94.37V47.02M572.78 94.37V42.87M572.91 94.37V38.82M573.04 94.37V32.11M573.16 94.37V24.95M575.18 94.37V72.77M575.31 94.37V63.86M576.70 94.37V58.50M576.82 94.37V53.05M576.95 94.37V47.94M577.08 94.37V42.22M577.20 94.37V37.96M577.33 94.37V32.11M577.46 94.37V25.20M579.22 94.37V72.34M579.35 94.37V64.78M581.12 94.37V59.72M581.24 94.37V51.11M581.37 94.37V47.28M581.50 94.37V41.53M581.62 94.37V39.65M581.75 94.37V34.44M581.88 94.37V30.75M583.26 94.37V72.35M583.39 94.37V63.18M584.91 94.37V60.86M585.03 94.37V51.51M585.16 94.37V46.40M585.28 94.37V43.28M585.41 94.37V35.65M585.54 94.37V30.75M585.66 94.37V25.72M587.31 94.37V71.62M587.43 94.37V63.70M590.08 94.37V59.26M590.21 94.37V52.39M590.34 94.37V47.22M590.46 94.37V39.69M590.59 94.37V34.04M590.71 94.37V28.61M590.84 94.37V22.51M591.35 94.37V71.60M591.47 94.37V63.10M593.75 94.37V59.67M593.87 94.37V49.85M594.00 94.37V47.09M594.12 94.37V37.41M594.25 94.37V30.00M594.38 94.37V25.01M594.50 94.37V19.42M595.39 94.37V70.88M595.51 94.37V62.27M597.91 94.37V55.49M598.04 94.37V52.42M598.16 94.37V45.36M598.29 94.37V38.18M598.42 94.37V29.88M598.54 94.37V23.30M598.67 94.37V15.60M599.43 94.37V68.99M599.55 94.37V61.68M601.70 94.37V57.15M601.83 94.37V46.89M601.95 94.37V42.06M602.08 94.37V35.48M602.21 94.37V26.59M602.33 94.37V23.08M602.46 94.37V13.83M603.47 94.37V70.11M603.59 94.37V60.64M604.73 94.37V59.02M604.86 94.37V53.58M604.98 94.37V44.13M605.11 94.37V36.99M605.24 94.37V32.42M605.36 94.37V25.25M605.49 94.37V20.24M607.51 94.37V68.91M607.64 94.37V60.41M609.40 94.37V60.62M609.53 94.37V51.14M609.66 94.37V46.80M609.78 94.37V42.06M609.91 94.37V32.37M610.04 94.37V28.13M610.16 94.37V25.06M611.55 94.37V70.53M611.68 94.37V58.51M612.81 94.37V57.56M612.94 94.37V52.30M613.07 94.37V47.67M613.19 94.37V40.72M613.32 94.37V35.09M613.44 94.37V29.92M613.57 94.37V24.96M615.59 94.37V71.00M615.72 94.37V60.11M617.99 94.37V57.50M618.12 94.37V49.83M618.24 94.37V47.24M618.37 94.37V40.59M618.50 94.37V37.63M618.62 94.37V30.28M618.75 94.37V22.61M619.63 94.37V70.24M619.76 94.37V59.99M621.02 94.37V56.05M621.15 94.37V51.54M621.27 94.37V48.19M621.40 94.37V39.64M621.53 94.37V32.54M621.65 94.37V28.56M621.78 94.37V21.67M623.67 94.37V73.36M623.80 94.37V58.97M624.81 94.37V57.27M624.94 94.37V53.41M625.06 94.37V44.71M625.19 94.37V44.16M625.31 94.37V35.67M625.44 94.37V33.18M625.57 94.37V25.26M627.71 94.37V74.90M627.84 94.37V60.79M629.48 94.37V57.03M629.61 94.37V55.29M629.73 94.37V46.17M629.86 94.37V43.50M629.99 94.37V38.68M630.11 94.37V33.76M630.24 94.37V28.35M631.75 94.37V76.49M631.88 94.37V59.61M634.53 94.37V57.17M634.66 94.37V54.29M634.79 94.37V47.57M634.91 94.37V45.52M635.04 94.37V44.74M635.16 94.37V37.29M635.29 94.37V33.91M635.80 94.37V77.59M635.92 94.37V59.17M638.57 94.37V59.99M638.70 94.37V54.26M638.83 94.37V50.00M638.95 94.37V44.61M639.08 94.37V43.39M639.21 94.37V34.30M639.33 94.37V31.48M639.84 94.37V79.72M639.96 94.37V59.83M641.10 94.37V55.96M641.23 94.37V53.07M641.35 94.37V49.05M641.48 94.37V46.59M641.60 94.37V41.48M641.73 94.37V39.96M641.86 94.37V35.01M643.88 94.37V78.80M644.00 94.37V60.23M645.52 94.37V60.75M645.65 94.37V54.58M645.77 94.37V51.66M645.90 94.37V47.56M646.02 94.37V42.45M646.15 94.37V41.03M646.28 94.37V37.03M647.92 94.37V78.16M648.04 94.37V63.20M649.31 94.37V58.24M649.43 94.37V53.08M649.56 94.37V50.02M649.69 94.37V49.37M649.81 94.37V46.30M649.94 94.37V39.47M650.06 94.37V39.52M651.96 94.37V77.01M652.09 94.37V65.56M654.36 94.37V55.03M654.48 94.37V54.81M654.61 94.37V53.64M654.74 94.37V45.65M654.86 94.37V44.62M654.99 94.37V41.58M655.12 94.37V41.20M656.00 94.37V75.08" stroke="#989898" stroke-width="0.6" stroke-opacity="1.0" fill="none"/>
<path d="M534.90 65.08h0M536.42 58.60h0M536.54 57.33h0M536.67 52.94h0M536.79 52.45h0M536.92 52.45h0M537.05 46.71h0M537.17 44.20h0M538.81 80.15h0M538.94 62.53h0M540.58 60.66h0M540.71 55.30h0M540.84 52.58h0M540.96 48.43h0M541.09 43.55h0M541.21 40.74h0M541.34 37.25h0M542.86 77.18h0M542.98 60.58h0M544.24 56.51h0M544.37 54.77h0M544.50 52.07h0M544.62 44.49h0M544.75 41.23h0M544.88 40.13h0M545.00 33.08h0M546.90 75.61h0M547.02 58.84h0M548.16 54.75h0M548.29 51.09h0M548.41 48.78h0M548.54 44.47h0M548.66 44.14h0M548.79 38.49h0M548.92 33.43h0M550.94 75.63h0M551.06 59.64h0M552.83 58.15h0M552.96 53.42h0M553.08 46.81h0M553.21 42.92h0M553.34 41.22h0M553.46 35.22h0M553.59 31.93h0M554.98 73.29h0M555.10 59.27h0M557.76 60.41h0M557.88 53.74h0M558.01 52.86h0M558.14 47.11h0M558.26 40.86h0M558.39 35.26h0M558.51 30.35h0M559.02 70.75h0M559.15 57.98h0M561.29 62.78h0M561.42 53.13h0M561.54 49.57h0M561.67 46.53h0M561.80 39.56h0M561.92 35.55h0M562.05 27.25h0M563.06 71.63h0M563.19 60.62h0M564.70 58.74h0M564.83 55.81h0M564.95 49.31h0M565.08 44.73h0M565.21 38.34h0M565.33 32.41h0M565.46 30.14h0M567.10 74.33h0M567.23 62.34h0M568.74 58.60h0M568.87 55.15h0M568.99 49.38h0M569.12 45.47h0M569.25 37.50h0M569.37 36.22h0M569.50 26.89h0M571.14 70.04h0M571.27 61.16h0M572.40 59.18h0M572.53 52.49h0M572.66 47.02h0M572.78 42.87h0M572.91 38.82h0M573.04 32.11h0M573.16 24.95h0M575.18 72.77h0M575.31 63.86h0M576.70 58.50h0M576.82 53.05h0M576.95 47.94h0M577.08 42.22h0M577.20 37.96h0M577.33 32.11h0M577.46 25.20h0M579.22 72.34h0M579.35 64.78h0M581.12 59.72h0M581.24 51.11h0M581.37 47.28h0M581.50 41.53h0M581.62 39.65h0M581.75 34.44h0M581.88 30.75h0M583.26 72.35h0M583.39 63.18h0M584.91 60.86h0M585.03 51.51h0M585.16 46.40h0M585.28 43.28h0M585.41 35.65h0M585.54 30.75h0M585.66 25.72h0M587.31 71.62h0M587.43 63.70h0M590.08 59.26h0M590.21 52.39h0M590.34 47.22h0M590.46 39.69h0M590.59 34.04h0M590.71 28.61h0M590.84 22.51h0M591.35 71.60h0M591.47 63.10h0M593.75 59.67h0M593.87 49.85h0M594.00 47.09h0M594.12 37.41h0M594.25 30.00h0M594.38 25.01h0M594.50 19.42h0M595.39 70.88h0M595.51 62.27h0M597.91 55.49h0M598.04 52.42h0M598.16 45.36h0M598.29 38.18h0M598.42 29.88h0M598.54 23.30h0M598.67 15.60h0M599.43 68.99h0M599.55 61.68h0M601.70 57.15h0M601.83 46.89h0M601.95 42.06h0M602.08 35.48h0M602.21 26.59h0M602.33 23.08h0M602.46 13.83h0M603.47 70.11h0M603.59 60.64h0M604.73 59.02h0M604.86 53.58h0M604.98 44.13h0M605.11 36.99h0M605.24 32.42h0M605.36 25.25h0M605.49 20.24h0M607.51 68.91h0M607.64 60.41h0M609.40 60.62h0M609.53 51.14h0M609.66 46.80h0M609.78 42.06h0M609.91 32.37h0M610.04 28.13h0M610.16 25.06h0M611.55 70.53h0M611.68 58.51h0M612.81 57.56h0M612.94 52.30h0M613.07 47.67h0M613.19 40.72h0M613.32 35.09h0M613.44 29.92h0M613.57 24.96h0M615.59 71.00h0M615.72 60.11h0M617.99 57.50h0M618.12 49.83h0M618.24 47.24h0M618.37 40.59h0M618.50 37.63h0M618.62 30.28h0M618.75 22.61h0M619.63 70.24h0M619.76 59.99h0M621.02 56.05h0M621.15 51.54h0M621.27 48.19h0M621.40 39.64h0M621.53 32.54h0M621.65 28.56h0M621.78 21.67h0M623.67 73.36h0M623.80 58.97h0M624.81 57.27h0M624.94 53.41h0M625.06 44.71h0M625.19 44.16h0M625.31 35.67h0M625.44 33.18h0M625.57 25.26h0M627.71 74.90h0M627.84 60.79h0M629.48 57.03h0M629.61 55.29h0M629.73 46.17h0M629.86 43.50h0M629.99 38.68h0M630.11 33.76h0M630.24 28.35h0M631.75 76.49h0M631.88 59.61h0M634.53 57.17h0M634.66 54.29h0M634.79 47.57h0M634.91 45.52h0M635.04 44.74h0M635.16 37.29h0M635.29 33.91h0M635.80 77.59h0M635.92 59.17h0M638.57 59.99h0M638.70 54.26h0M638.83 50.00h0M638.95 44.61h0M639.08 43.39h0M639.21 34.30h0M639.33 31.48h0M639.84 79.72h0M639.96 59.83h0M641.10 55.96h0M641.23 53.07h0M641.35 49.05h0M641.48 46.59h0M641.60 41.48h0M641.73 39.96h0M641.86 35.01h0M643.88 78.80h0M644.00 60.23h0M645.52 60.75h0M645.65 54.58h0M645.77 51.66h0M645.90 47.56h0M646.02 42.45h0M646.15 41.03h0M646.28 37.03h0M647.92 78.16h0M648.04 63.20h0M649.31 58.24h0M649.43 53.08h0M649.56 50.02h0M649.69 49.37h0M649.81 46.30h0M649.94 39.47h0M650.06 39.52h0M651.96 77.01h0M652.09 65.56h0M654.36 55.03h0M654.48 54.81h0M654.61 53.64h0M654.74 45.65h0M654.86 44.62h0M654.99 41.58h0M655.12 41.20h0M656.00 75.08h0" stroke="#222" stroke-width="1.7" stroke-opacity="1.0" stroke-linecap="round" fill="none"/>
<line x1="530.86" y1="94.37" x2="660.04" y2="94.37" stroke="#b71f27" stroke-width="1.8" stroke-linecap="square"/>
<line x1="530.86" y1="45.48" x2="660.04" y2="45.48" stroke="#3748a5" stroke-width="1.8" stroke-linecap="square"/>
<rect x="524.40" y="9.80" width="142.10" height="88.60" fill="none" stroke="#3a3a3a" stroke-width="0.8"/>
<text x="519.40" y="97.07" text-anchor="end" font-size="6.5" textLength="10.2" lengthAdjust="spacingAndGlyphs">0.0</text>
<text x="519.40" y="80.96" text-anchor="end" font-size="6.5" textLength="10.2" lengthAdjust="spacingAndGlyphs">0.2</text>
<text x="519.40" y="64.85" text-anchor="end" font-size="6.5" textLength="10.2" lengthAdjust="spacingAndGlyphs">0.4</text>
<text x="519.40" y="48.75" text-anchor="end" font-size="6.5" textLength="10.2" lengthAdjust="spacingAndGlyphs">0.6</text>
<text x="519.40" y="32.64" text-anchor="end" font-size="6.5" textLength="10.2" lengthAdjust="spacingAndGlyphs">0.8</text>
<text x="519.40" y="16.53" text-anchor="end" font-size="6.5" textLength="10.2" lengthAdjust="spacingAndGlyphs">1.0</text>
<text x="530.86" y="108.50" text-anchor="middle" font-size="6.5" textLength="4.07" lengthAdjust="spacingAndGlyphs">0</text>
<text x="556.11" y="108.50" text-anchor="middle" font-size="6.5" textLength="12.21" lengthAdjust="spacingAndGlyphs">200</text>
<text x="581.37" y="108.50" text-anchor="middle" font-size="6.5" textLength="12.21" lengthAdjust="spacingAndGlyphs">400</text>
<text x="606.63" y="108.50" text-anchor="middle" font-size="6.5" textLength="12.21" lengthAdjust="spacingAndGlyphs">600</text>
<text x="631.88" y="108.50" text-anchor="middle" font-size="6.5" textLength="12.21" lengthAdjust="spacingAndGlyphs">800</text>
<text x="657.14" y="108.50" text-anchor="middle" font-size="6.5" textLength="16.28" lengthAdjust="spacingAndGlyphs">1000</text>
<path d="M524.40 94.37h-2.4M524.40 78.26h-2.4M524.40 62.15h-2.4M524.40 46.05h-2.4M524.40 29.94h-2.4M524.40 13.83h-2.4M530.86 98.40v2.4M556.11 98.40v2.4M581.37 98.40v2.4M606.63 98.40v2.4M631.88 98.40v2.4M657.14 98.40v2.4" stroke="#3a3a3a" stroke-width="0.8" fill="none"/>
<text x="595.45" y="5.80" text-anchor="middle" font-size="8.6" textLength="27.8" lengthAdjust="spacingAndGlyphs" style="stroke-width:0.2px">Conv 4</text>
<path d="M365.10 211.30V199.32M365.61 211.30V189.73M366.12 211.30V183.95M366.63 211.30V178.89M367.14 211.30V173.65M367.65 211.30V174.36M368.16 211.30V169.35M368.67 211.30V173.74M369.18 211.30V172.61M369.69 211.30V170.75M370.20 211.30V173.81M370.71 211.30V179.38M371.22 211.30V183.74M371.73 211.30V184.75M372.24 211.30V191.36M372.75 211.30V198.41M373.26 211.30V203.31M373.77 211.30V193.24M374.28 211.30V181.34M374.79 211.30V179.58M375.30 211.30V169.24M375.81 211.30V171.65M376.32 211.30V168.32M376.83 211.30V168.39M377.34 211.30V167.39M377.85 211.30V169.56M378.35 211.30V173.28M378.86 211.30V176.05M379.37 211.30V179.69M379.88 211.30V184.99M380.39 211.30V193.32M380.90 211.30V201.89M381.41 211.30V195.32M381.92 211.30V179.67M382.43 211.30V165.91M382.94 211.30V155.21M383.45 211.30V147.58M383.96 211.30V144.12M384.47 211.30V142.58M384.98 211.30V143.42M385.49 211.30V146.19M386.00 211.30V144.52M386.51 211.30V149.96M387.02 211.30V158.65M387.53 211.30V162.48M388.04 211.30V168.32M388.55 211.30V174.83M389.06 211.30V191.15M389.57 211.30V187.33M390.08 211.30V176.59M390.59 211.30V166.88M391.10 211.30V154.30M391.61 211.30V145.87M392.12 211.30V142.64M392.63 211.30V135.01M393.14 211.30V137.08M393.65 211.30V140.39M394.16 211.30V145.95M394.67 211.30V147.99M395.18 211.30V153.48M395.69 211.30V161.21M396.20 211.30V168.35M396.71 211.30V178.79M397.22 211.30V189.57M397.73 211.30V185.73M398.24 211.30V177.22M398.75 211.30V163.54M399.26 211.30V152.34M399.77 211.30V147.51M400.28 211.30V143.00M400.79 211.30V137.33M401.30 211.30V138.59M401.81 211.30V142.82M402.32 211.30V144.26M402.83 211.30V148.74M403.34 211.30V153.98M403.85 211.30V160.74M404.35 211.30V168.97M404.86 211.30V176.07M405.37 211.30V186.86M405.88 211.30V187.33M406.39 211.30V180.01M406.90 211.30V163.95M407.41 211.30V155.78M407.92 211.30V146.15M408.43 211.30V142.72M408.94 211.30V137.75M409.45 211.30V139.17M409.96 211.30V139.75M410.47 211.30V141.26M410.98 211.30V150.50M411.49 211.30V156.56M412.00 211.30V160.16M412.51 211.30V168.26M413.02 211.30V176.51M413.53 211.30V190.69M414.04 211.30V187.33M414.55 211.30V176.27M415.06 211.30V164.48M415.57 211.30V149.65M416.08 211.30V140.95M416.59 211.30V134.89M417.10 211.30V134.72M417.61 211.30V135.09M418.12 211.30V134.17M418.63 211.30V140.97M419.14 211.30V145.21M419.65 211.30V150.02M420.16 211.30V155.78M420.67 211.30V164.75M421.18 211.30V175.91M421.69 211.30V186.33M422.20 211.30V185.73M422.71 211.30V177.61M423.22 211.30V158.07M423.73 211.30V148.44M424.24 211.30V143.99M424.75 211.30V138.43M425.26 211.30V134.97M425.77 211.30V135.80M426.28 211.30V140.04M426.79 211.30V139.36M427.30 211.30V144.78M427.81 211.30V151.03M428.32 211.30V158.24M428.83 211.30V164.89M429.34 211.30V173.39M429.85 211.30V189.99M430.35 211.30V187.33M430.86 211.30V176.24M431.37 211.30V158.18M431.88 211.30V146.91M432.39 211.30V141.51M432.90 211.30V135.58M433.41 211.30V131.40M433.92 211.30V132.97M434.43 211.30V133.51M434.94 211.30V138.80M435.45 211.30V141.28M435.96 211.30V149.05M436.47 211.30V156.06M436.98 211.30V165.28M437.49 211.30V173.33M438.00 211.30V185.93M438.51 211.30V187.33M439.02 211.30V181.65M439.53 211.30V162.73M440.04 211.30V155.11M440.55 211.30V149.38M441.06 211.30V143.18M441.57 211.30V141.59M442.08 211.30V141.52M442.59 211.30V143.73M443.10 211.30V146.37M443.61 211.30V152.00M444.12 211.30V158.95M444.63 211.30V160.91M445.14 211.30V169.71M445.65 211.30V175.36M446.16 211.30V189.18M446.67 211.30V187.33M447.18 211.30V179.34M447.69 211.30V163.43M448.20 211.30V155.57M448.71 211.30V149.64M449.22 211.30V143.21M449.73 211.30V145.46M450.24 211.30V141.58M450.75 211.30V142.72M451.26 211.30V147.28M451.77 211.30V149.44M452.28 211.30V155.28M452.79 211.30V161.88M453.30 211.30V169.76M453.81 211.30V175.72M454.32 211.30V191.31M454.83 211.30V188.93M455.34 211.30V182.73M455.85 211.30V170.83M456.35 211.30V159.34M456.86 211.30V156.99M457.37 211.30V156.09M457.88 211.30V149.47M458.39 211.30V148.48M458.90 211.30V152.65M459.41 211.30V152.85M459.92 211.30V156.73M460.43 211.30V165.02M460.94 211.30V169.57M461.45 211.30V176.92M461.96 211.30V181.25M462.47 211.30V191.89M462.98 211.30V191.33M463.49 211.30V183.12M464.00 211.30V168.92M464.51 211.30V159.96M465.02 211.30V153.54M465.53 211.30V149.08M466.04 211.30V146.78M466.55 211.30V144.47M467.06 211.30V145.49M467.57 211.30V148.51M468.08 211.30V154.28M468.59 211.30V160.05M469.10 211.30V164.33M469.61 211.30V170.09M470.12 211.30V179.57M470.63 211.30V191.08M471.14 211.30V195.32M471.65 211.30V187.71M472.16 211.30V175.92M472.67 211.30V169.67M473.18 211.30V160.66M473.69 211.30V161.71M474.20 211.30V156.20M474.71 211.30V159.21M475.22 211.30V156.11M475.73 211.30V159.88M476.24 211.30V166.45M476.75 211.30V169.66M477.26 211.30V175.12M477.77 211.30V178.80M478.28 211.30V184.54M478.79 211.30V190.80M479.30 211.30V199.32M479.81 211.30V184.09M480.32 211.30V175.90M480.83 211.30V166.10M481.34 211.30V159.52M481.85 211.30V156.71M482.35 211.30V154.67M482.86 211.30V155.69M483.37 211.30V157.06M483.88 211.30V159.59M484.39 211.30V161.79M484.90 211.30V170.09M485.41 211.30V172.96M485.92 211.30V179.79M486.43 211.30V186.04M486.94 211.30V195.84M487.45 211.30V203.31M487.96 211.30V191.24M488.47 211.30V185.18M488.98 211.30V183.85M489.49 211.30V178.10M490.00 211.30V177.88M490.51 211.30V173.81M491.02 211.30V172.46M491.53 211.30V174.68M492.04 211.30V176.06M492.55 211.30V180.30M493.06 211.30V185.87M493.57 211.30V188.83M494.08 211.30V189.41M494.59 211.30V192.72M495.10 211.30V198.19" stroke="#8b8b8b" stroke-width="0.8" stroke-opacity="1.0" fill="none"/>
<path d="M365.10 199.32h0M365.61 189.73h0M366.12 183.95h0M366.63 178.89h0M367.14 173.65h0M367.65 174.36h0M368.16 169.35h0M368.67 173.74h0M369.18 172.61h0M369.69 170.75h0M370.20 173.81h0M370.71 179.38h0M371.22 183.74h0M371.73 184.75h0M372.24 191.36h0M372.75 198.41h0M373.26 203.31h0M373.77 193.24h0M374.28 181.34h0M374.79 179.58h0M375.30 169.24h0M375.81 171.65h0M376.32 168.32h0M376.83 168.39h0M377.34 167.39h0M377.85 169.56h0M378.35 173.28h0M378.86 176.05h0M379.37 179.69h0M379.88 184.99h0M380.39 193.32h0M380.90 201.89h0M381.41 195.32h0M381.92 179.67h0M382.43 165.91h0M382.94 155.21h0M383.45 147.58h0M383.96 144.12h0M384.47 142.58h0M384.98 143.42h0M385.49 146.19h0M386.00 144.52h0M386.51 149.96h0M387.02 158.65h0M387.53 162.48h0M388.04 168.32h0M388.55 174.83h0M389.06 191.15h0M389.57 187.33h0M390.08 176.59h0M390.59 166.88h0M391.10 154.30h0M391.61 145.87h0M392.12 142.64h0M392.63 135.01h0M393.14 137.08h0M393.65 140.39h0M394.16 145.95h0M394.67 147.99h0M395.18 153.48h0M395.69 161.21h0M396.20 168.35h0M396.71 178.79h0M397.22 189.57h0M397.73 185.73h0M398.24 177.22h0M398.75 163.54h0M399.26 152.34h0M399.77 147.51h0M400.28 143.00h0M400.79 137.33h0M401.30 138.59h0M401.81 142.82h0M402.32 144.26h0M402.83 148.74h0M403.34 153.98h0M403.85 160.74h0M404.35 168.97h0M404.86 176.07h0M405.37 186.86h0M405.88 187.33h0M406.39 180.01h0M406.90 163.95h0M407.41 155.78h0M407.92 146.15h0M408.43 142.72h0M408.94 137.75h0M409.45 139.17h0M409.96 139.75h0M410.47 141.26h0M410.98 150.50h0M411.49 156.56h0M412.00 160.16h0M412.51 168.26h0M413.02 176.51h0M413.53 190.69h0M414.04 187.33h0M414.55 176.27h0M415.06 164.48h0M415.57 149.65h0M416.08 140.95h0M416.59 134.89h0M417.10 134.72h0M417.61 135.09h0M418.12 134.17h0M418.63 140.97h0M419.14 145.21h0M419.65 150.02h0M420.16 155.78h0M420.67 164.75h0M421.18 175.91h0M421.69 186.33h0M422.20 185.73h0M422.71 177.61h0M423.22 158.07h0M423.73 148.44h0M424.24 143.99h0M424.75 138.43h0M425.26 134.97h0M425.77 135.80h0M426.28 140.04h0M426.79 139.36h0M427.30 144.78h0M427.81 151.03h0M428.32 158.24h0M428.83 164.89h0M429.34 173.39h0M429.85 189.99h0M430.35 187.33h0M430.86 176.24h0M431.37 158.18h0M431.88 146.91h0M432.39 141.51h0M432.90 135.58h0M433.41 131.40h0M433.92 132.97h0M434.43 133.51h0M434.94 138.80h0M435.45 141.28h0M435.96 149.05h0M436.47 156.06h0M436.98 165.28h0M437.49 173.33h0M438.00 185.93h0M438.51 187.33h0M439.02 181.65h0M439.53 162.73h0M440.04 155.11h0M440.55 149.38h0M441.06 143.18h0M441.57 141.59h0M442.08 141.52h0M442.59 143.73h0M443.10 146.37h0M443.61 152.00h0M444.12 158.95h0M444.63 160.91h0M445.14 169.71h0M445.65 175.36h0M446.16 189.18h0M446.67 187.33h0M447.18 179.34h0M447.69 163.43h0M448.20 155.57h0M448.71 149.64h0M449.22 143.21h0M449.73 145.46h0M450.24 141.58h0M450.75 142.72h0M451.26 147.28h0M451.77 149.44h0M452.28 155.28h0M452.79 161.88h0M453.30 169.76h0M453.81 175.72h0M454.32 191.31h0M454.83 188.93h0M455.34 182.73h0M455.85 170.83h0M456.35 159.34h0M456.86 156.99h0M457.37 156.09h0M457.88 149.47h0M458.39 148.48h0M458.90 152.65h0M459.41 152.85h0M459.92 156.73h0M460.43 165.02h0M460.94 169.57h0M461.45 176.92h0M461.96 181.25h0M462.47 191.89h0M462.98 191.33h0M463.49 183.12h0M464.00 168.92h0M464.51 159.96h0M465.02 153.54h0M465.53 149.08h0M466.04 146.78h0M466.55 144.47h0M467.06 145.49h0M467.57 148.51h0M468.08 154.28h0M468.59 160.05h0M469.10 164.33h0M469.61 170.09h0M470.12 179.57h0M470.63 191.08h0M471.14 195.32h0M471.65 187.71h0M472.16 175.92h0M472.67 169.67h0M473.18 160.66h0M473.69 161.71h0M474.20 156.20h0M474.71 159.21h0M475.22 156.11h0M475.73 159.88h0M476.24 166.45h0M476.75 169.66h0M477.26 175.12h0M477.77 178.80h0M478.28 184.54h0M478.79 190.80h0M479.30 199.32h0M479.81 184.09h0M480.32 175.90h0M480.83 166.10h0M481.34 159.52h0M481.85 156.71h0M482.35 154.67h0M482.86 155.69h0M483.37 157.06h0M483.88 159.59h0M484.39 161.79h0M484.90 170.09h0M485.41 172.96h0M485.92 179.79h0M486.43 186.04h0M486.94 195.84h0M487.45 203.31h0M487.96 191.24h0M488.47 185.18h0M488.98 183.85h0M489.49 178.10h0M490.00 177.88h0M490.51 173.81h0M491.02 172.46h0M491.53 174.68h0M492.04 176.06h0M492.55 180.30h0M493.06 185.87h0M493.57 188.83h0M494.08 189.41h0M494.59 192.72h0M495.10 198.19h0" stroke="#222" stroke-width="1.6" stroke-opacity="1.0" stroke-linecap="round" fill="none"/>
<line x1="365.10" y1="211.30" x2="495.10" y2="211.30" stroke="#b71f27" stroke-width="1.8" stroke-linecap="square"/>
<line x1="365.10" y1="165.04" x2="495.10" y2="165.04" stroke="#3748a5" stroke-width="1.8" stroke-linecap="square"/>
<rect x="358.60" y="127.40" width="143.00" height="87.90" fill="none" stroke="#3a3a3a" stroke-width="0.8"/>
<text x="353.60" y="214.00" text-anchor="end" font-size="6.5" textLength="10.2" lengthAdjust="spacingAndGlyphs">0.0</text>
<text x="353.60" y="198.02" text-anchor="end" font-size="6.5" textLength="10.2" lengthAdjust="spacingAndGlyphs">0.2</text>
<text x="353.60" y="182.04" text-anchor="end" font-size="6.5" textLength="10.2" lengthAdjust="spacingAndGlyphs">0.4</text>
<text x="353.60" y="166.06" text-anchor="end" font-size="6.5" textLength="10.2" lengthAdjust="spacingAndGlyphs">0.6</text>
<text x="353.60" y="150.08" text-anchor="end" font-size="6.5" textLength="10.2" lengthAdjust="spacingAndGlyphs">0.8</text>
<text x="353.60" y="134.10" text-anchor="end" font-size="6.5" textLength="10.2" lengthAdjust="spacingAndGlyphs">1.0</text>
<text x="365.10" y="225.40" text-anchor="middle" font-size="6.5" textLength="4.07" lengthAdjust="spacingAndGlyphs">0</text>
<text x="390.59" y="225.40" text-anchor="middle" font-size="6.5" textLength="8.14" lengthAdjust="spacingAndGlyphs">50</text>
<text x="416.08" y="225.40" text-anchor="middle" font-size="6.5" textLength="12.21" lengthAdjust="spacingAndGlyphs">100</text>
<text x="441.57" y="225.40" text-anchor="middle" font-size="6.5" textLength="12.21" lengthAdjust="spacingAndGlyphs">150</text>
<text x="467.06" y="225.40" text-anchor="middle" font-size="6.5" textLength="12.21" lengthAdjust="spacingAndGlyphs">200</text>
<text x="492.55" y="225.40" text-anchor="middle" font-size="6.5" textLength="12.21" lengthAdjust="spacingAndGlyphs">250</text>
<path d="M358.60 211.30h-2.4M358.60 195.32h-2.4M358.60 179.34h-2.4M358.60 163.36h-2.4M358.60 147.38h-2.4M358.60 131.40h-2.4M365.10 215.30v2.4M390.59 215.30v2.4M416.08 215.30v2.4M441.57 215.30v2.4M467.06 215.30v2.4M492.55 215.30v2.4" stroke="#3a3a3a" stroke-width="0.8" fill="none"/>
<text x="430.10" y="123.40" text-anchor="middle" font-size="8.6" textLength="27.8" lengthAdjust="spacingAndGlyphs" style="stroke-width:0.2px">Conv 7</text>
<path d="M530.76 211.21V200.03M531.27 211.21V188.82M531.78 211.21V181.10M532.28 211.21V174.82M532.79 211.21V172.72M533.30 211.21V171.44M533.81 211.21V164.90M534.31 211.21V164.02M534.82 211.21V162.58M535.33 211.21V163.81M535.83 211.21V162.72M536.34 211.21V168.01M536.85 211.21V172.44M537.35 211.21V175.97M537.86 211.21V184.71M538.37 211.21V192.96M538.87 211.21V204.82M539.38 211.21V180.02M539.89 211.21V166.61M540.40 211.21V163.56M540.90 211.21V155.79M541.41 211.21V154.96M541.92 211.21V148.50M542.42 211.21V146.45M542.93 211.21V144.19M543.44 211.21V140.80M543.94 211.21V146.25M544.45 211.21V146.44M544.96 211.21V153.52M545.47 211.21V161.02M545.97 211.21V172.37M546.48 211.21V187.51M546.99 211.21V196.04M547.49 211.21V179.34M548.00 211.21V165.29M548.51 211.21V159.79M549.01 211.21V151.96M549.52 211.21V150.52M550.03 211.21V141.44M550.53 211.21V142.36M551.04 211.21V136.54M551.55 211.21V136.91M552.06 211.21V136.79M552.56 211.21V141.67M553.07 211.21V146.32M553.58 211.21V157.18M554.08 211.21V167.86M554.59 211.21V183.85M555.10 211.21V187.26M555.60 211.21V172.92M556.11 211.21V164.94M556.62 211.21V153.76M557.13 211.21V149.46M557.63 211.21V147.25M558.14 211.21V139.31M558.65 211.21V137.26M559.15 211.21V131.80M559.66 211.21V132.99M560.17 211.21V133.69M560.67 211.21V137.34M561.18 211.21V147.16M561.69 211.21V153.48M562.19 211.21V169.38M562.70 211.21V181.25M563.21 211.21V186.47M563.72 211.21V175.30M564.22 211.21V165.91M564.73 211.21V155.04M565.24 211.21V148.66M565.74 211.21V142.98M566.25 211.21V139.86M566.76 211.21V138.13M567.26 211.21V134.02M567.77 211.21V132.91M568.28 211.21V131.39M568.79 211.21V138.14M569.29 211.21V144.43M569.80 211.21V153.82M570.31 211.21V169.34M570.81 211.21V184.00M571.32 211.21V188.06M571.83 211.21V178.25M572.33 211.21V166.60M572.84 211.21V156.66M573.35 211.21V151.98M573.85 211.21V150.37M574.36 211.21V144.39M574.87 211.21V139.46M575.38 211.21V139.50M575.88 211.21V136.05M576.39 211.21V137.73M576.90 211.21V140.57M577.40 211.21V147.73M577.91 211.21V157.42M578.42 211.21V171.35M578.92 211.21V184.36M579.43 211.21V189.66M579.94 211.21V175.69M580.44 211.21V167.66M580.95 211.21V160.73M581.46 211.21V153.26M581.97 211.21V150.34M582.47 211.21V145.69M582.98 211.21V143.02M583.49 211.21V141.94M583.99 211.21V140.08M584.50 211.21V141.17M585.01 211.21V141.81M585.51 211.21V150.50M586.02 211.21V159.58M586.53 211.21V171.99M587.04 211.21V184.65M587.54 211.21V190.46M588.05 211.21V180.22M588.56 211.21V166.97M589.06 211.21V160.45M589.57 211.21V155.36M590.08 211.21V149.71M590.58 211.21V148.28M591.09 211.21V141.95M591.60 211.21V140.78M592.10 211.21V140.60M592.61 211.21V137.81M593.12 211.21V142.64M593.63 211.21V147.91M594.13 211.21V161.58M594.64 211.21V171.92M595.15 211.21V186.78M595.65 211.21V189.66M596.16 211.21V179.18M596.67 211.21V174.57M597.17 211.21V164.80M597.68 211.21V159.74M598.19 211.21V153.93M598.70 211.21V151.65M599.20 211.21V151.01M599.71 211.21V147.27M600.22 211.21V146.65M600.72 211.21V147.56M601.23 211.21V149.53M601.74 211.21V155.68M602.24 211.21V163.05M602.75 211.21V177.25M603.26 211.21V184.23M603.76 211.21V189.66M604.27 211.21V181.48M604.78 211.21V175.25M605.29 211.21V170.31M605.79 211.21V163.12M606.30 211.21V158.29M606.81 211.21V150.46M607.31 211.21V149.43M607.82 211.21V150.52M608.33 211.21V145.78M608.83 211.21V147.03M609.34 211.21V152.17M609.85 211.21V155.29M610.36 211.21V164.98M610.86 211.21V177.38M611.37 211.21V190.92M611.88 211.21V189.66M612.38 211.21V183.00M612.89 211.21V177.98M613.40 211.21V172.49M613.90 211.21V164.24M614.41 211.21V166.03M614.92 211.21V155.08M615.42 211.21V156.41M615.93 211.21V152.72M616.44 211.21V149.11M616.95 211.21V155.69M617.45 211.21V157.99M617.96 211.21V157.34M618.47 211.21V169.15M618.97 211.21V178.93M619.48 211.21V190.17M619.99 211.21V189.66M620.49 211.21V184.80M621.00 211.21V178.70M621.51 211.21V174.04M622.01 211.21V169.24M622.52 211.21V165.46M623.03 211.21V160.58M623.54 211.21V160.34M624.04 211.21V155.98M624.55 211.21V158.73M625.06 211.21V157.54M625.56 211.21V158.24M626.07 211.21V163.31M626.58 211.21V171.87M627.08 211.21V183.02M627.59 211.21V193.51M628.10 211.21V193.65M628.61 211.21V190.59M629.11 211.21V184.80M629.62 211.21V182.30M630.13 211.21V177.55M630.63 211.21V172.82M631.14 211.21V169.62M631.65 211.21V171.48M632.15 211.21V168.45M632.66 211.21V169.24M633.17 211.21V168.33M633.67 211.21V163.86M634.18 211.21V173.11M634.69 211.21V179.59M635.20 211.21V187.59M635.70 211.21V197.54M636.21 211.21V197.64M636.72 211.21V191.16M637.22 211.21V184.84M637.73 211.21V177.51M638.24 211.21V179.02M638.74 211.21V172.95M639.25 211.21V168.79M639.76 211.21V172.39M640.27 211.21V166.78M640.77 211.21V169.14M641.28 211.21V166.55M641.79 211.21V167.23M642.29 211.21V173.22M642.80 211.21V178.56M643.31 211.21V187.76M643.81 211.21V195.09M644.32 211.21V201.63M644.83 211.21V190.32M645.33 211.21V183.18M645.84 211.21V177.61M646.35 211.21V173.13M646.86 211.21V174.32M647.36 211.21V168.73M647.87 211.21V168.06M648.38 211.21V164.72M648.88 211.21V162.42M649.39 211.21V164.55M649.90 211.21V165.30M650.40 211.21V172.80M650.91 211.21V177.97M651.42 211.21V186.92M651.93 211.21V194.63M652.43 211.21V204.03M652.94 211.21V197.52M653.45 211.21V194.51M653.95 211.21V189.54M654.46 211.21V187.64M654.97 211.21V184.07M655.47 211.21V183.63M655.98 211.21V180.05M656.49 211.21V180.63M656.99 211.21V183.11M657.50 211.21V180.98M658.01 211.21V184.59M658.52 211.21V183.17M659.02 211.21V186.45M659.53 211.21V194.13M660.04 211.21V199.59" stroke="#8b8b8b" stroke-width="0.8" stroke-opacity="1.0" fill="none"/>
<path d="M530.76 200.03h0M531.27 188.82h0M531.78 181.10h0M532.28 174.82h0M532.79 172.72h0M533.30 171.44h0M533.81 164.90h0M534.31 164.02h0M534.82 162.58h0M535.33 163.81h0M535.83 162.72h0M536.34 168.01h0M536.85 172.44h0M537.35 175.97h0M537.86 184.71h0M538.37 192.96h0M538.87 204.82h0M539.38 180.02h0M539.89 166.61h0M540.40 163.56h0M540.90 155.79h0M541.41 154.96h0M541.92 148.50h0M542.42 146.45h0M542.93 144.19h0M543.44 140.80h0M543.94 146.25h0M544.45 146.44h0M544.96 153.52h0M545.47 161.02h0M545.97 172.37h0M546.48 187.51h0M546.99 196.04h0M547.49 179.34h0M548.00 165.29h0M548.51 159.79h0M549.01 151.96h0M549.52 150.52h0M550.03 141.44h0M550.53 142.36h0M551.04 136.54h0M551.55 136.91h0M552.06 136.79h0M552.56 141.67h0M553.07 146.32h0M553.58 157.18h0M554.08 167.86h0M554.59 183.85h0M555.10 187.26h0M555.60 172.92h0M556.11 164.94h0M556.62 153.76h0M557.13 149.46h0M557.63 147.25h0M558.14 139.31h0M558.65 137.26h0M559.15 131.80h0M559.66 132.99h0M560.17 133.69h0M560.67 137.34h0M561.18 147.16h0M561.69 153.48h0M562.19 169.38h0M562.70 181.25h0M563.21 186.47h0M563.72 175.30h0M564.22 165.91h0M564.73 155.04h0M565.24 148.66h0M565.74 142.98h0M566.25 139.86h0M566.76 138.13h0M567.26 134.02h0M567.77 132.91h0M568.28 131.39h0M568.79 138.14h0M569.29 144.43h0M569.80 153.82h0M570.31 169.34h0M570.81 184.00h0M571.32 188.06h0M571.83 178.25h0M572.33 166.60h0M572.84 156.66h0M573.35 151.98h0M573.85 150.37h0M574.36 144.39h0M574.87 139.46h0M575.38 139.50h0M575.88 136.05h0M576.39 137.73h0M576.90 140.57h0M577.40 147.73h0M577.91 157.42h0M578.42 171.35h0M578.92 184.36h0M579.43 189.66h0M579.94 175.69h0M580.44 167.66h0M580.95 160.73h0M581.46 153.26h0M581.97 150.34h0M582.47 145.69h0M582.98 143.02h0M583.49 141.94h0M583.99 140.08h0M584.50 141.17h0M585.01 141.81h0M585.51 150.50h0M586.02 159.58h0M586.53 171.99h0M587.04 184.65h0M587.54 190.46h0M588.05 180.22h0M588.56 166.97h0M589.06 160.45h0M589.57 155.36h0M590.08 149.71h0M590.58 148.28h0M591.09 141.95h0M591.60 140.78h0M592.10 140.60h0M592.61 137.81h0M593.12 142.64h0M593.63 147.91h0M594.13 161.58h0M594.64 171.92h0M595.15 186.78h0M595.65 189.66h0M596.16 179.18h0M596.67 174.57h0M597.17 164.80h0M597.68 159.74h0M598.19 153.93h0M598.70 151.65h0M599.20 151.01h0M599.71 147.27h0M600.22 146.65h0M600.72 147.56h0M601.23 149.53h0M601.74 155.68h0M602.24 163.05h0M602.75 177.25h0M603.26 184.23h0M603.76 189.66h0M604.27 181.48h0M604.78 175.25h0M605.29 170.31h0M605.79 163.12h0M606.30 158.29h0M606.81 150.46h0M607.31 149.43h0M607.82 150.52h0M608.33 145.78h0M608.83 147.03h0M609.34 152.17h0M609.85 155.29h0M610.36 164.98h0M610.86 177.38h0M611.37 190.92h0M611.88 189.66h0M612.38 183.00h0M612.89 177.98h0M613.40 172.49h0M613.90 164.24h0M614.41 166.03h0M614.92 155.08h0M615.42 156.41h0M615.93 152.72h0M616.44 149.11h0M616.95 155.69h0M617.45 157.99h0M617.96 157.34h0M618.47 169.15h0M618.97 178.93h0M619.48 190.17h0M619.99 189.66h0M620.49 184.80h0M621.00 178.70h0M621.51 174.04h0M622.01 169.24h0M622.52 165.46h0M623.03 160.58h0M623.54 160.34h0M624.04 155.98h0M624.55 158.73h0M625.06 157.54h0M625.56 158.24h0M626.07 163.31h0M626.58 171.87h0M627.08 183.02h0M627.59 193.51h0M628.10 193.65h0M628.61 190.59h0M629.11 184.80h0M629.62 182.30h0M630.13 177.55h0M630.63 172.82h0M631.14 169.62h0M631.65 171.48h0M632.15 168.45h0M632.66 169.24h0M633.17 168.33h0M633.67 163.86h0M634.18 173.11h0M634.69 179.59h0M635.20 187.59h0M635.70 197.54h0M636.21 197.64h0M636.72 191.16h0M637.22 184.84h0M637.73 177.51h0M638.24 179.02h0M638.74 172.95h0M639.25 168.79h0M639.76 172.39h0M640.27 166.78h0M640.77 169.14h0M641.28 166.55h0M641.79 167.23h0M642.29 173.22h0M642.80 178.56h0M643.31 187.76h0M643.81 195.09h0M644.32 201.63h0M644.83 190.32h0M645.33 183.18h0M645.84 177.61h0M646.35 173.13h0M646.86 174.32h0M647.36 168.73h0M647.87 168.06h0M648.38 164.72h0M648.88 162.42h0M649.39 164.55h0M649.90 165.30h0M650.40 172.80h0M650.91 177.97h0M651.42 186.92h0M651.93 194.63h0M652.43 204.03h0M652.94 197.52h0M653.45 194.51h0M653.95 189.54h0M654.46 187.64h0M654.97 184.07h0M655.47 183.63h0M655.98 180.05h0M656.49 180.63h0M656.99 183.11h0M657.50 180.98h0M658.01 184.59h0M658.52 183.17h0M659.02 186.45h0M659.53 194.13h0M660.04 199.59h0" stroke="#222" stroke-width="1.6" stroke-opacity="1.0" stroke-linecap="round" fill="none"/>
<line x1="530.76" y1="211.21" x2="660.04" y2="211.21" stroke="#b71f27" stroke-width="1.8" stroke-linecap="square"/>
<line x1="530.76" y1="164.91" x2="660.04" y2="164.91" stroke="#3748a5" stroke-width="1.8" stroke-linecap="square"/>
<rect x="524.30" y="127.40" width="142.20" height="87.80" fill="none" stroke="#3a3a3a" stroke-width="0.8"/>
<text x="519.30" y="213.91" text-anchor="end" font-size="6.5" textLength="10.2" lengthAdjust="spacingAndGlyphs">0.0</text>
<text x="519.30" y="197.95" text-anchor="end" font-size="6.5" textLength="10.2" lengthAdjust="spacingAndGlyphs">0.2</text>
<text x="519.30" y="181.98" text-anchor="end" font-size="6.5" textLength="10.2" lengthAdjust="spacingAndGlyphs">0.4</text>
<text x="519.30" y="166.02" text-anchor="end" font-size="6.5" textLength="10.2" lengthAdjust="spacingAndGlyphs">0.6</text>
<text x="519.30" y="150.05" text-anchor="end" font-size="6.5" textLength="10.2" lengthAdjust="spacingAndGlyphs">0.8</text>
<text x="519.30" y="134.09" text-anchor="end" font-size="6.5" textLength="10.2" lengthAdjust="spacingAndGlyphs">1.0</text>
<text x="530.76" y="225.30" text-anchor="middle" font-size="6.5" textLength="4.07" lengthAdjust="spacingAndGlyphs">0</text>
<text x="556.11" y="225.30" text-anchor="middle" font-size="6.5" textLength="8.14" lengthAdjust="spacingAndGlyphs">50</text>
<text x="581.46" y="225.30" text-anchor="middle" font-size="6.5" textLength="12.21" lengthAdjust="spacingAndGlyphs">100</text>
<text x="606.81" y="225.30" text-anchor="middle" font-size="6.5" textLength="12.21" lengthAdjust="spacingAndGlyphs">150</text>
<text x="632.15" y="225.30" text-anchor="middle" font-size="6.5" textLength="12.21" lengthAdjust="spacingAndGlyphs">200</text>
<text x="657.50" y="225.30" text-anchor="middle" font-size="6.5" textLength="12.21" lengthAdjust="spacingAndGlyphs">250</text>
<path d="M524.30 211.21h-2.4M524.30 195.25h-2.4M524.30 179.28h-2.4M524.30 163.32h-2.4M524.30 147.35h-2.4M524.30 131.39h-2.4M530.76 215.20v2.4M556.11 215.20v2.4M581.46 215.20v2.4M606.81 215.20v2.4M632.15 215.20v2.4M657.50 215.20v2.4" stroke="#3a3a3a" stroke-width="0.8" fill="none"/>
<text x="595.40" y="123.40" text-anchor="middle" font-size="8.6" textLength="32.6" lengthAdjust="spacingAndGlyphs" style="stroke-width:0.2px">Conv 10</text>
<rect x="442.60" y="12.90" width="54.80" height="22.20" rx="1.5" fill="#fff" fill-opacity="0.8" stroke="#d0d0d0" stroke-width="0.8"/>
<line x1="444.00" y1="18.75" x2="459.60" y2="18.75" stroke="#3748a5" stroke-width="1.6"/>
<line x1="444.00" y1="28.85" x2="459.60" y2="28.85" stroke="#b71f27" stroke-width="1.6"/>
<text x="464.10" y="21.10" font-size="6.4" textLength="17" lengthAdjust="spacingAndGlyphs">Mean</text>
<text x="464.10" y="31.00" font-size="6.4" textLength="29.9" lengthAdjust="spacingAndGlyphs">Minimum</text>
<text x="81" y="252.6" font-family="Liberation Serif, serif" font-size="20" textLength="180.6" lengthAdjust="spacingAndGlyphs" fill="#111" style="stroke:#fff;stroke-width:0.25px;paint-order:fill">(a) Channel activation</text>
<text x="431.7" y="252.6" font-family="Liberation Serif, serif" font-size="20" textLength="171.3" lengthAdjust="spacingAndGlyphs" fill="#111" style="stroke:#fff;stroke-width:0.25px;paint-order:fill">(b) Spatial activation</text>
</svg>
</body></html>
